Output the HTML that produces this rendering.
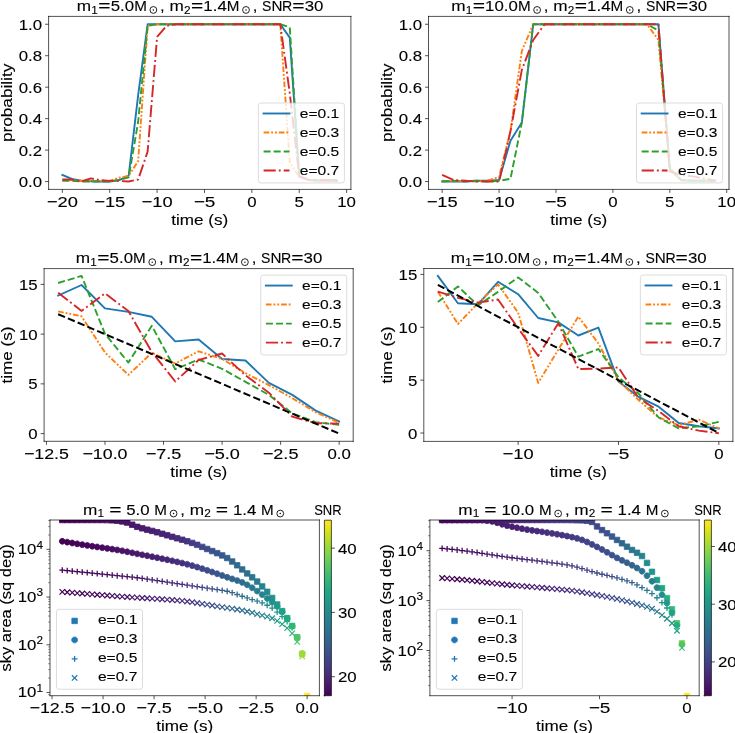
<!DOCTYPE html>
<html><head><meta charset="utf-8"><style>html,body{margin:0;padding:0;background:#fff}svg{display:block;filter:blur(0.3px)}text{stroke:#000;stroke-width:0.12;paint-order:stroke}</style></head><body>
<svg width="735" height="733" viewBox="0 0 735 733" version="1.1">
<defs>
<style type="text/css">*{stroke-linejoin: round; stroke-linecap: butt}</style>
</defs>
<defs><linearGradient id="vgrad" x1="0" y1="0" x2="0" y2="1"><stop offset="0.000" stop-color="#fde725"/><stop offset="0.031" stop-color="#ece51b"/><stop offset="0.062" stop-color="#d8e219"/><stop offset="0.094" stop-color="#c2df23"/><stop offset="0.125" stop-color="#addc30"/><stop offset="0.156" stop-color="#98d83e"/><stop offset="0.188" stop-color="#84d44b"/><stop offset="0.219" stop-color="#70cf57"/><stop offset="0.250" stop-color="#5ec962"/><stop offset="0.281" stop-color="#4ec36b"/><stop offset="0.312" stop-color="#3fbc73"/><stop offset="0.344" stop-color="#32b67a"/><stop offset="0.375" stop-color="#28ae80"/><stop offset="0.406" stop-color="#22a785"/><stop offset="0.438" stop-color="#1fa088"/><stop offset="0.469" stop-color="#1f988b"/><stop offset="0.500" stop-color="#21918c"/><stop offset="0.531" stop-color="#23898e"/><stop offset="0.562" stop-color="#26828e"/><stop offset="0.594" stop-color="#297a8e"/><stop offset="0.625" stop-color="#2c728e"/><stop offset="0.656" stop-color="#2f6b8e"/><stop offset="0.688" stop-color="#33638d"/><stop offset="0.719" stop-color="#375b8d"/><stop offset="0.750" stop-color="#3b528b"/><stop offset="0.781" stop-color="#3e4989"/><stop offset="0.812" stop-color="#424086"/><stop offset="0.844" stop-color="#453781"/><stop offset="0.875" stop-color="#472d7b"/><stop offset="0.906" stop-color="#482374"/><stop offset="0.938" stop-color="#48186a"/><stop offset="0.969" stop-color="#470d60"/><stop offset="1.000" stop-color="#440154"/></linearGradient></defs><g id="figure_1">
<g id="patch_1">
<path d="M 0 733 
L 735 733 
L 735 0 
L 0 0 
z
" style="fill: #ffffff"/>
</g>
<g id="axes_1">
<g id="patch_2">
<path d="M 48.6 189.4 
L 350.9 189.4 
L 350.9 16.4 
L 48.6 16.4 
z
" style="fill: #ffffff"/>
</g>
<g id="matplotlib.axis_1">
<g id="xtick_1">
<g id="line2d_1">
<defs>
<path id="m1deace6daf" d="M 0 0 
L 0 3.5 
" style="stroke: #000000; stroke-width: 0.68"/>
</defs>
<g>
<use href="#m1deace6daf" x="62.340909" y="189.4" style="stroke: #000000; stroke-width: 0.68"/>
</g>
</g>
<g id="text_1">
<text style="font-size: 15.51px; font-family: 'Liberation Sans', sans-serif; text-anchor: middle" x="62.340909" y="207.044703" transform="rotate(-0 62.340909 207.044703)" textLength="31.02" lengthAdjust="spacingAndGlyphs">−20</text>
</g>
</g>
<g id="xtick_2">
<g id="line2d_2">
<g>
<use href="#m1deace6daf" x="109.723354" y="189.4" style="stroke: #000000; stroke-width: 0.68"/>
</g>
</g>
<g id="text_2">
<text style="font-size: 15.51px; font-family: 'Liberation Sans', sans-serif; text-anchor: middle" x="109.723354" y="207.044703" transform="rotate(-0 109.723354 207.044703)" textLength="31.02" lengthAdjust="spacingAndGlyphs">−15</text>
</g>
</g>
<g id="xtick_3">
<g id="line2d_3">
<g>
<use href="#m1deace6daf" x="157.105799" y="189.4" style="stroke: #000000; stroke-width: 0.68"/>
</g>
</g>
<g id="text_3">
<text style="font-size: 15.51px; font-family: 'Liberation Sans', sans-serif; text-anchor: middle" x="157.105799" y="207.044703" transform="rotate(-0 157.105799 207.044703)" textLength="31.02" lengthAdjust="spacingAndGlyphs">−10</text>
</g>
</g>
<g id="xtick_4">
<g id="line2d_4">
<g>
<use href="#m1deace6daf" x="204.488245" y="189.4" style="stroke: #000000; stroke-width: 0.68"/>
</g>
</g>
<g id="text_4">
<text style="font-size: 15.51px; font-family: 'Liberation Sans', sans-serif; text-anchor: middle" x="204.488245" y="207.044703" transform="rotate(-0 204.488245 207.044703)" textLength="21.67" lengthAdjust="spacingAndGlyphs">−5</text>
</g>
</g>
<g id="xtick_5">
<g id="line2d_5">
<g>
<use href="#m1deace6daf" x="251.87069" y="189.4" style="stroke: #000000; stroke-width: 0.68"/>
</g>
</g>
<g id="text_5">
<text style="font-size: 15.51px; font-family: 'Liberation Sans', sans-serif; text-anchor: middle" x="251.87069" y="207.044703" transform="rotate(-0 251.87069 207.044703)" textLength="9.35" lengthAdjust="spacingAndGlyphs">0</text>
</g>
</g>
<g id="xtick_6">
<g id="line2d_6">
<g>
<use href="#m1deace6daf" x="299.253135" y="189.4" style="stroke: #000000; stroke-width: 0.68"/>
</g>
</g>
<g id="text_6">
<text style="font-size: 15.51px; font-family: 'Liberation Sans', sans-serif; text-anchor: middle" x="299.253135" y="207.044703" transform="rotate(-0 299.253135 207.044703)" textLength="9.35" lengthAdjust="spacingAndGlyphs">5</text>
</g>
</g>
<g id="xtick_7">
<g id="line2d_7">
<g>
<use href="#m1deace6daf" x="346.63558" y="189.4" style="stroke: #000000; stroke-width: 0.68"/>
</g>
</g>
<g id="text_7">
<text style="font-size: 15.51px; font-family: 'Liberation Sans', sans-serif; text-anchor: middle" x="346.63558" y="207.044703" transform="rotate(-0 346.63558 207.044703)" textLength="18.71" lengthAdjust="spacingAndGlyphs">10</text>
</g>
</g>
<g id="text_8">
<text style="font-size: 15.29px; font-family: 'Liberation Sans', sans-serif; text-anchor: middle" x="199.75" y="224.671547" transform="rotate(-0 199.75 224.671547)" textLength="57.01" lengthAdjust="spacingAndGlyphs">time (s)</text>
</g>
</g>
<g id="matplotlib.axis_2">
<g id="ytick_1">
<g id="line2d_8">
<defs>
<path id="mafa4a98656" d="M 0 0 
L -3.5 0 
" style="stroke: #000000; stroke-width: 0.68"/>
</defs>
<g>
<use href="#mafa4a98656" x="48.6" y="181.536364" style="stroke: #000000; stroke-width: 0.68"/>
</g>
</g>
<g id="text_9">
<text style="font-size: 15.51px; font-family: 'Liberation Sans', sans-serif; text-anchor: end" x="42.125" y="187.121215" transform="rotate(-0 42.125 187.121215)" textLength="23.38" lengthAdjust="spacingAndGlyphs">0.0</text>
</g>
</g>
<g id="ytick_2">
<g id="line2d_9">
<g>
<use href="#mafa4a98656" x="48.6" y="150.081818" style="stroke: #000000; stroke-width: 0.68"/>
</g>
</g>
<g id="text_10">
<text style="font-size: 15.51px; font-family: 'Liberation Sans', sans-serif; text-anchor: end" x="42.125" y="155.66667" transform="rotate(-0 42.125 155.66667)" textLength="23.38" lengthAdjust="spacingAndGlyphs">0.2</text>
</g>
</g>
<g id="ytick_3">
<g id="line2d_10">
<g>
<use href="#mafa4a98656" x="48.6" y="118.627273" style="stroke: #000000; stroke-width: 0.68"/>
</g>
</g>
<g id="text_11">
<text style="font-size: 15.51px; font-family: 'Liberation Sans', sans-serif; text-anchor: end" x="42.125" y="124.212124" transform="rotate(-0 42.125 124.212124)" textLength="23.38" lengthAdjust="spacingAndGlyphs">0.4</text>
</g>
</g>
<g id="ytick_4">
<g id="line2d_11">
<g>
<use href="#mafa4a98656" x="48.6" y="87.172727" style="stroke: #000000; stroke-width: 0.68"/>
</g>
</g>
<g id="text_12">
<text style="font-size: 15.51px; font-family: 'Liberation Sans', sans-serif; text-anchor: end" x="42.125" y="92.757579" transform="rotate(-0 42.125 92.757579)" textLength="23.38" lengthAdjust="spacingAndGlyphs">0.6</text>
</g>
</g>
<g id="ytick_5">
<g id="line2d_12">
<g>
<use href="#mafa4a98656" x="48.6" y="55.718182" style="stroke: #000000; stroke-width: 0.68"/>
</g>
</g>
<g id="text_13">
<text style="font-size: 15.51px; font-family: 'Liberation Sans', sans-serif; text-anchor: end" x="42.125" y="61.303033" transform="rotate(-0 42.125 61.303033)" textLength="23.38" lengthAdjust="spacingAndGlyphs">0.8</text>
</g>
</g>
<g id="ytick_6">
<g id="line2d_13">
<g>
<use href="#mafa4a98656" x="48.6" y="24.263636" style="stroke: #000000; stroke-width: 0.68"/>
</g>
</g>
<g id="text_14">
<text style="font-size: 15.51px; font-family: 'Liberation Sans', sans-serif; text-anchor: end" x="42.125" y="29.848488" transform="rotate(-0 42.125 29.848488)" textLength="23.38" lengthAdjust="spacingAndGlyphs">1.0</text>
</g>
</g>
<g id="text_15">
<text style="font-size: 15.29px; font-family: 'Liberation Sans', sans-serif; text-anchor: middle" x="12.290266" y="102.9" transform="rotate(-90 12.290266 102.9)" textLength="78.43" lengthAdjust="spacingAndGlyphs">probability</text>
</g>
</g>
<g id="line2d_14">
<path d="M 62.340909 174.930909 
L 71.817398 178.862727 
L 81.293887 180.75 
L 90.770376 181.221818 
L 100.246865 181.536364 
L 109.723354 181.536364 
L 119.199843 180.120909 
L 128.676332 175.717273 
L 138.152821 95.036364 
L 147.62931 24.263636 
L 157.105799 24.263636 
L 166.582288 24.263636 
L 176.058777 24.263636 
L 185.535266 24.263636 
L 195.011755 24.263636 
L 204.488245 24.263636 
L 213.964734 24.263636 
L 223.441223 24.263636 
L 232.917712 24.263636 
L 242.394201 24.263636 
L 251.87069 24.263636 
L 261.347179 24.263636 
L 270.823668 24.263636 
L 280.300157 24.263636 
L 289.776646 37.631818 
L 299.253135 176.818182 
L 308.729624 179.963636 
L 318.206113 180.75 
L 327.682602 180.75 
L 337.159091 180.75 
" clip-path="url(#pbab4d58351)" style="fill: none; stroke: #1f77b4; stroke-width: 1.9; stroke-linecap: square"/>
</g>
<g id="line2d_15">
<path d="M 62.340909 180.120909 
L 71.817398 179.963636 
L 81.293887 180.75 
L 90.770376 180.75 
L 100.246865 181.536364 
L 109.723354 180.75 
L 119.199843 177.761818 
L 128.676332 175.874545 
L 138.152821 161.090909 
L 147.62931 25.836364 
L 157.105799 24.263636 
L 166.582288 24.263636 
L 176.058777 24.263636 
L 185.535266 24.263636 
L 195.011755 24.263636 
L 204.488245 24.263636 
L 213.964734 24.263636 
L 223.441223 24.263636 
L 232.917712 24.263636 
L 242.394201 24.263636 
L 251.87069 24.263636 
L 261.347179 24.263636 
L 270.823668 24.263636 
L 280.300157 24.263636 
L 289.776646 162.663636 
L 299.253135 176.818182 
L 308.729624 179.963636 
L 318.206113 180.278182 
L 327.682602 180.75 
L 337.159091 180.75 
" clip-path="url(#pbab4d58351)" style="fill: none; stroke-dasharray: 5.7,1.9,1.9,1.9,1.9,1.9; stroke-dashoffset: 0; stroke: #ff7f0e; stroke-width: 1.9"/>
</g>
<g id="line2d_16">
<path d="M 62.340909 180.75 
L 71.817398 180.75 
L 81.293887 181.536364 
L 90.770376 181.536364 
L 100.246865 181.536364 
L 109.723354 181.536364 
L 119.199843 179.963636 
L 128.676332 177.447273 
L 138.152821 121.772727 
L 147.62931 25.836364 
L 157.105799 24.263636 
L 166.582288 24.263636 
L 176.058777 24.263636 
L 185.535266 24.263636 
L 195.011755 24.263636 
L 204.488245 24.263636 
L 213.964734 24.263636 
L 223.441223 24.263636 
L 232.917712 24.263636 
L 242.394201 24.263636 
L 251.87069 24.263636 
L 261.347179 24.263636 
L 270.823668 24.263636 
L 280.300157 24.263636 
L 289.776646 27.409091 
L 299.253135 176.031818 
L 308.729624 179.963636 
L 318.206113 179.963636 
L 327.682602 179.963636 
L 337.159091 179.963636 
" clip-path="url(#pbab4d58351)" style="fill: none; stroke-dasharray: 7.03,3.04; stroke-dashoffset: 0; stroke: #2ca02c; stroke-width: 1.9"/>
</g>
<g id="line2d_17">
<path d="M 62.340909 179.491818 
L 71.817398 179.491818 
L 81.293887 181.536364 
L 90.770376 178.390909 
L 100.246865 180.120909 
L 109.723354 180.907273 
L 119.199843 180.907273 
L 128.676332 181.536364 
L 138.152821 179.491818 
L 147.62931 151.654545 
L 157.105799 36.845455 
L 166.582288 25.836364 
L 176.058777 24.263636 
L 185.535266 24.263636 
L 195.011755 24.263636 
L 204.488245 24.263636 
L 213.964734 24.263636 
L 223.441223 24.263636 
L 232.917712 24.263636 
L 242.394201 24.263636 
L 251.87069 24.263636 
L 261.347179 24.263636 
L 270.823668 24.263636 
L 280.300157 24.263636 
L 289.776646 93.463636 
L 299.253135 176.031818 
L 308.729624 179.963636 
L 318.206113 179.963636 
L 327.682602 179.963636 
L 337.159091 180.75 
" clip-path="url(#pbab4d58351)" style="fill: none; stroke-dasharray: 12.16,3.04,1.9,3.04; stroke-dashoffset: 0; stroke: #d62728; stroke-width: 1.9"/>
</g>
<g id="patch_3">
<path d="M 48.6 189.4 
L 48.6 16.4 
" style="fill: none; stroke: #000000; stroke-width: 0.68; stroke-linejoin: miter; stroke-linecap: square"/>
</g>
<g id="patch_4">
<path d="M 350.9 189.4 
L 350.9 16.4 
" style="fill: none; stroke: #000000; stroke-width: 0.68; stroke-linejoin: miter; stroke-linecap: square"/>
</g>
<g id="patch_5">
<path d="M 48.6 189.4 
L 350.9 189.4 
" style="fill: none; stroke: #000000; stroke-width: 0.68; stroke-linejoin: miter; stroke-linecap: square"/>
</g>
<g id="patch_6">
<path d="M 48.6 16.4 
L 350.9 16.4 
" style="fill: none; stroke: #000000; stroke-width: 0.68; stroke-linejoin: miter; stroke-linecap: square"/>
</g>
<g id="text_16">
<g transform="translate(76.858 12.1)">
<text x="0" y="-0.859375" style="font-size: 15.29px; font-family: 'Liberation Sans', sans-serif" textLength="14.32" lengthAdjust="spacingAndGlyphs">m</text>
<text x="21.4911" y="-0.859375" style="font-size: 15.51px; font-family: 'Liberation Sans', sans-serif" textLength="12.32" lengthAdjust="spacingAndGlyphs">=</text>
<text x="33.85" y="-0.859375" style="font-size: 15.51px; font-family: 'Liberation Sans', sans-serif" textLength="9.35" lengthAdjust="spacingAndGlyphs">5</text>
<text x="43.2344" y="-0.859375" style="font-size: 15.51px; font-family: 'Liberation Sans', sans-serif" textLength="4.67" lengthAdjust="spacingAndGlyphs">.</text>
<text x="47.923" y="-0.859375" style="font-size: 15.51px; font-family: 'Liberation Sans', sans-serif" textLength="9.35" lengthAdjust="spacingAndGlyphs">0</text>
<text x="57.3074" y="-0.859375" style="font-size: 15.51px; font-family: 'Liberation Sans', sans-serif" textLength="12.68" lengthAdjust="spacingAndGlyphs">M</text>
<text x="83.2616" y="-0.859375" style="font-size: 15.51px; font-family: 'Liberation Sans', sans-serif" textLength="4.67" lengthAdjust="spacingAndGlyphs">,</text>
<text x="92.6388" y="-0.859375" style="font-size: 15.29px; font-family: 'Liberation Sans', sans-serif" textLength="14.32" lengthAdjust="spacingAndGlyphs">m</text>
<text x="114.13" y="-0.859375" style="font-size: 15.51px; font-family: 'Liberation Sans', sans-serif" textLength="12.32" lengthAdjust="spacingAndGlyphs">=</text>
<text x="126.489" y="-0.859375" style="font-size: 15.51px; font-family: 'Liberation Sans', sans-serif" textLength="9.35" lengthAdjust="spacingAndGlyphs">1</text>
<text x="135.873" y="-0.859375" style="font-size: 15.51px; font-family: 'Liberation Sans', sans-serif" textLength="4.67" lengthAdjust="spacingAndGlyphs">.</text>
<text x="140.562" y="-0.859375" style="font-size: 15.51px; font-family: 'Liberation Sans', sans-serif" textLength="9.35" lengthAdjust="spacingAndGlyphs">4</text>
<text x="149.946" y="-0.859375" style="font-size: 15.51px; font-family: 'Liberation Sans', sans-serif" textLength="12.68" lengthAdjust="spacingAndGlyphs">M</text>
<text x="175.9" y="-0.859375" style="font-size: 15.51px; font-family: 'Liberation Sans', sans-serif" textLength="4.67" lengthAdjust="spacingAndGlyphs">,</text>
<text x="185.278" y="-0.859375" style="font-size: 15.51px; font-family: 'Liberation Sans', sans-serif" textLength="9.33" lengthAdjust="spacingAndGlyphs">S</text>
<text x="194.64" y="-0.859375" style="font-size: 15.51px; font-family: 'Liberation Sans', sans-serif" textLength="11.00" lengthAdjust="spacingAndGlyphs">N</text>
<text x="205.174" y="-0.859375" style="font-size: 15.51px; font-family: 'Liberation Sans', sans-serif" textLength="10.21" lengthAdjust="spacingAndGlyphs">R</text>
<text x="215.423" y="-0.859375" style="font-size: 15.51px; font-family: 'Liberation Sans', sans-serif" textLength="12.32" lengthAdjust="spacingAndGlyphs">=</text>
<text x="227.782" y="-0.859375" style="font-size: 15.51px; font-family: 'Liberation Sans', sans-serif" textLength="9.35" lengthAdjust="spacingAndGlyphs">3</text>
<text x="237.166" y="-0.859375" style="font-size: 15.51px; font-family: 'Liberation Sans', sans-serif" textLength="9.35" lengthAdjust="spacingAndGlyphs">0</text>
<text x="14.5118" y="1.60156" style="font-size: 10.86px; font-family: 'Liberation Sans', sans-serif" textLength="6.55" lengthAdjust="spacingAndGlyphs">1</text>
<text x="107.151" y="1.60156" style="font-size: 10.86px; font-family: 'Liberation Sans', sans-serif" textLength="6.55" lengthAdjust="spacingAndGlyphs">2</text>
<circle cx="76.50" cy="-2.15" r="3.40" fill="none" stroke="#000" stroke-width="0.87"/><circle cx="76.50" cy="-2.15" r="0.72" fill="#000"/><circle cx="169.14" cy="-2.15" r="3.40" fill="none" stroke="#000" stroke-width="0.87"/><circle cx="169.14" cy="-2.15" r="0.72" fill="#000"/>
</g>
</g>
<g id="legend_1">
<g id="patch_7">
<path d="M 260.980461 182.925 
L 341.835 182.925 
Q 344.425 182.925 344.425 180.335 
L 344.425 105.597312 
Q 344.425 103.007312 341.835 103.007312 
L 260.980461 103.007312 
Q 258.390461 103.007312 258.390461 105.597312 
L 258.390461 180.335 
Q 258.390461 182.925 260.980461 182.925 
z
" style="fill: #ffffff; opacity: 0.8; stroke: #cccccc; stroke-width: 0.85; stroke-linejoin: miter"/>
</g>
<g id="line2d_18">
<path d="M 263.570461 113.494789 
L 276.520461 113.494789 
L 289.470461 113.494789 
" style="fill: none; stroke: #1f77b4; stroke-width: 1.9; stroke-linecap: square"/>
</g>
<g id="text_17">
<text style="font-size: 13.60px; font-family: 'Liberation Sans', sans-serif; text-anchor: start" x="299.830461" y="118.027289" transform="rotate(-0 299.830461 118.027289)" textLength="39.41" lengthAdjust="spacingAndGlyphs">e=0.1</text>
</g>
<g id="line2d_19">
<path d="M 263.570461 132.502961 
L 276.520461 132.502961 
L 289.470461 132.502961 
" style="fill: none; stroke-dasharray: 5.7,1.9,1.9,1.9,1.9,1.9; stroke-dashoffset: 0; stroke: #ff7f0e; stroke-width: 1.9"/>
</g>
<g id="text_18">
<text style="font-size: 13.60px; font-family: 'Liberation Sans', sans-serif; text-anchor: start" x="299.830461" y="137.035461" transform="rotate(-0 299.830461 137.035461)" textLength="39.41" lengthAdjust="spacingAndGlyphs">e=0.3</text>
</g>
<g id="line2d_20">
<path d="M 263.570461 151.511133 
L 276.520461 151.511133 
L 289.470461 151.511133 
" style="fill: none; stroke-dasharray: 7.03,3.04; stroke-dashoffset: 0; stroke: #2ca02c; stroke-width: 1.9"/>
</g>
<g id="text_19">
<text style="font-size: 13.60px; font-family: 'Liberation Sans', sans-serif; text-anchor: start" x="299.830461" y="156.043633" transform="rotate(-0 299.830461 156.043633)" textLength="39.41" lengthAdjust="spacingAndGlyphs">e=0.5</text>
</g>
<g id="line2d_21">
<path d="M 263.570461 170.519305 
L 276.520461 170.519305 
L 289.470461 170.519305 
" style="fill: none; stroke-dasharray: 12.16,3.04,1.9,3.04; stroke-dashoffset: 0; stroke: #d62728; stroke-width: 1.9"/>
</g>
<g id="text_20">
<text style="font-size: 13.60px; font-family: 'Liberation Sans', sans-serif; text-anchor: start" x="299.830461" y="175.051805" transform="rotate(-0 299.830461 175.051805)" textLength="39.41" lengthAdjust="spacingAndGlyphs">e=0.7</text>
</g>
</g>
</g>
<g id="axes_2">
<g id="patch_8">
<path d="M 428.5 189.4 
L 729 189.4 
L 729 16.4 
L 428.5 16.4 
z
" style="fill: #ffffff"/>
</g>
<g id="matplotlib.axis_3">
<g id="xtick_8">
<g id="line2d_22">
<g>
<use href="#m1deace6daf" x="442.159091" y="189.4" style="stroke: #000000; stroke-width: 0.68"/>
</g>
</g>
<g id="text_21">
<text style="font-size: 15.51px; font-family: 'Liberation Sans', sans-serif; text-anchor: middle" x="442.159091" y="207.044703" transform="rotate(-0 442.159091 207.044703)" textLength="31.02" lengthAdjust="spacingAndGlyphs">−15</text>
</g>
</g>
<g id="xtick_9">
<g id="line2d_23">
<g>
<use href="#m1deace6daf" x="499.07197" y="189.4" style="stroke: #000000; stroke-width: 0.68"/>
</g>
</g>
<g id="text_22">
<text style="font-size: 15.51px; font-family: 'Liberation Sans', sans-serif; text-anchor: middle" x="499.07197" y="207.044703" transform="rotate(-0 499.07197 207.044703)" textLength="31.02" lengthAdjust="spacingAndGlyphs">−10</text>
</g>
</g>
<g id="xtick_10">
<g id="line2d_24">
<g>
<use href="#m1deace6daf" x="555.984848" y="189.4" style="stroke: #000000; stroke-width: 0.68"/>
</g>
</g>
<g id="text_23">
<text style="font-size: 15.51px; font-family: 'Liberation Sans', sans-serif; text-anchor: middle" x="555.984848" y="207.044703" transform="rotate(-0 555.984848 207.044703)" textLength="21.67" lengthAdjust="spacingAndGlyphs">−5</text>
</g>
</g>
<g id="xtick_11">
<g id="line2d_25">
<g>
<use href="#m1deace6daf" x="612.897727" y="189.4" style="stroke: #000000; stroke-width: 0.68"/>
</g>
</g>
<g id="text_24">
<text style="font-size: 15.51px; font-family: 'Liberation Sans', sans-serif; text-anchor: middle" x="612.897727" y="207.044703" transform="rotate(-0 612.897727 207.044703)" textLength="9.35" lengthAdjust="spacingAndGlyphs">0</text>
</g>
</g>
<g id="xtick_12">
<g id="line2d_26">
<g>
<use href="#m1deace6daf" x="669.810606" y="189.4" style="stroke: #000000; stroke-width: 0.68"/>
</g>
</g>
<g id="text_25">
<text style="font-size: 15.51px; font-family: 'Liberation Sans', sans-serif; text-anchor: middle" x="669.810606" y="207.044703" transform="rotate(-0 669.810606 207.044703)" textLength="9.35" lengthAdjust="spacingAndGlyphs">5</text>
</g>
</g>
<g id="xtick_13">
<g id="line2d_27">
<g>
<use href="#m1deace6daf" x="726.723485" y="189.4" style="stroke: #000000; stroke-width: 0.68"/>
</g>
</g>
<g id="text_26">
<text style="font-size: 15.51px; font-family: 'Liberation Sans', sans-serif; text-anchor: middle" x="726.723485" y="207.044703" transform="rotate(-0 726.723485 207.044703)" textLength="18.71" lengthAdjust="spacingAndGlyphs">10</text>
</g>
</g>
<g id="text_27">
<text style="font-size: 15.29px; font-family: 'Liberation Sans', sans-serif; text-anchor: middle" x="578.75" y="224.671547" transform="rotate(-0 578.75 224.671547)" textLength="57.01" lengthAdjust="spacingAndGlyphs">time (s)</text>
</g>
</g>
<g id="matplotlib.axis_4">
<g id="ytick_7">
<g id="line2d_28">
<g>
<use href="#mafa4a98656" x="428.5" y="181.536364" style="stroke: #000000; stroke-width: 0.68"/>
</g>
</g>
<g id="text_28">
<text style="font-size: 15.51px; font-family: 'Liberation Sans', sans-serif; text-anchor: end" x="422.025" y="187.121215" transform="rotate(-0 422.025 187.121215)" textLength="23.38" lengthAdjust="spacingAndGlyphs">0.0</text>
</g>
</g>
<g id="ytick_8">
<g id="line2d_29">
<g>
<use href="#mafa4a98656" x="428.5" y="150.081818" style="stroke: #000000; stroke-width: 0.68"/>
</g>
</g>
<g id="text_29">
<text style="font-size: 15.51px; font-family: 'Liberation Sans', sans-serif; text-anchor: end" x="422.025" y="155.66667" transform="rotate(-0 422.025 155.66667)" textLength="23.38" lengthAdjust="spacingAndGlyphs">0.2</text>
</g>
</g>
<g id="ytick_9">
<g id="line2d_30">
<g>
<use href="#mafa4a98656" x="428.5" y="118.627273" style="stroke: #000000; stroke-width: 0.68"/>
</g>
</g>
<g id="text_30">
<text style="font-size: 15.51px; font-family: 'Liberation Sans', sans-serif; text-anchor: end" x="422.025" y="124.212124" transform="rotate(-0 422.025 124.212124)" textLength="23.38" lengthAdjust="spacingAndGlyphs">0.4</text>
</g>
</g>
<g id="ytick_10">
<g id="line2d_31">
<g>
<use href="#mafa4a98656" x="428.5" y="87.172727" style="stroke: #000000; stroke-width: 0.68"/>
</g>
</g>
<g id="text_31">
<text style="font-size: 15.51px; font-family: 'Liberation Sans', sans-serif; text-anchor: end" x="422.025" y="92.757579" transform="rotate(-0 422.025 92.757579)" textLength="23.38" lengthAdjust="spacingAndGlyphs">0.6</text>
</g>
</g>
<g id="ytick_11">
<g id="line2d_32">
<g>
<use href="#mafa4a98656" x="428.5" y="55.718182" style="stroke: #000000; stroke-width: 0.68"/>
</g>
</g>
<g id="text_32">
<text style="font-size: 15.51px; font-family: 'Liberation Sans', sans-serif; text-anchor: end" x="422.025" y="61.303033" transform="rotate(-0 422.025 61.303033)" textLength="23.38" lengthAdjust="spacingAndGlyphs">0.8</text>
</g>
</g>
<g id="ytick_12">
<g id="line2d_33">
<g>
<use href="#mafa4a98656" x="428.5" y="24.263636" style="stroke: #000000; stroke-width: 0.68"/>
</g>
</g>
<g id="text_33">
<text style="font-size: 15.51px; font-family: 'Liberation Sans', sans-serif; text-anchor: end" x="422.025" y="29.848488" transform="rotate(-0 422.025 29.848488)" textLength="23.38" lengthAdjust="spacingAndGlyphs">1.0</text>
</g>
</g>
<g id="text_34">
<text style="font-size: 15.29px; font-family: 'Liberation Sans', sans-serif; text-anchor: middle" x="392.190266" y="102.9" transform="rotate(-90 392.190266 102.9)" textLength="78.43" lengthAdjust="spacingAndGlyphs">probability</text>
</g>
</g>
<g id="line2d_34">
<path d="M 442.159091 181.536364 
L 453.541667 181.536364 
L 464.924242 181.536364 
L 476.306818 180.75 
L 487.689394 180.75 
L 499.07197 179.963636 
L 510.454545 140.645455 
L 521.837121 122.559091 
L 533.219697 24.263636 
L 544.602273 24.263636 
L 555.984848 24.263636 
L 567.367424 24.263636 
L 578.75 24.263636 
L 590.132576 24.263636 
L 601.515152 24.263636 
L 612.897727 24.263636 
L 624.280303 24.263636 
L 635.662879 24.263636 
L 647.045455 24.263636 
L 658.42803 24.263636 
L 669.810606 168.954545 
L 681.193182 180.278182 
L 692.575758 180.75 
L 703.958333 180.75 
L 715.340909 180.75 
" clip-path="url(#p42d1c1f56d)" style="fill: none; stroke: #1f77b4; stroke-width: 1.9; stroke-linecap: square"/>
</g>
<g id="line2d_35">
<path d="M 442.159091 180.75 
L 453.541667 181.536364 
L 464.924242 180.75 
L 476.306818 181.536364 
L 487.689394 180.75 
L 499.07197 176.818182 
L 510.454545 131.209091 
L 521.837121 51 
L 533.219697 24.263636 
L 544.602273 24.263636 
L 555.984848 24.263636 
L 567.367424 24.263636 
L 578.75 24.263636 
L 590.132576 24.263636 
L 601.515152 24.263636 
L 612.897727 24.263636 
L 624.280303 24.263636 
L 635.662879 24.263636 
L 647.045455 24.263636 
L 658.42803 39.990909 
L 669.810606 167.381818 
L 681.193182 179.963636 
L 692.575758 180.75 
L 703.958333 180.75 
L 715.340909 180.75 
" clip-path="url(#p42d1c1f56d)" style="fill: none; stroke-dasharray: 5.7,1.9,1.9,1.9,1.9,1.9; stroke-dashoffset: 0; stroke: #ff7f0e; stroke-width: 1.9"/>
</g>
<g id="line2d_36">
<path d="M 442.159091 181.536364 
L 453.541667 180.75 
L 464.924242 181.536364 
L 476.306818 180.75 
L 487.689394 181.536364 
L 499.07197 180.75 
L 510.454545 178.862727 
L 521.837121 122.559091 
L 533.219697 24.263636 
L 544.602273 24.263636 
L 555.984848 24.263636 
L 567.367424 24.263636 
L 578.75 24.263636 
L 590.132576 24.263636 
L 601.515152 24.263636 
L 612.897727 24.263636 
L 624.280303 24.263636 
L 635.662879 24.263636 
L 647.045455 24.263636 
L 658.42803 30.554545 
L 669.810606 168.954545 
L 681.193182 179.963636 
L 692.575758 180.75 
L 703.958333 180.75 
L 715.340909 180.75 
" clip-path="url(#p42d1c1f56d)" style="fill: none; stroke-dasharray: 7.03,3.04; stroke-dashoffset: 0; stroke: #2ca02c; stroke-width: 1.9"/>
</g>
<g id="line2d_37">
<path d="M 442.159091 174.773636 
L 453.541667 179.963636 
L 464.924242 180.75 
L 476.306818 181.536364 
L 487.689394 181.536364 
L 499.07197 181.536364 
L 510.454545 131.209091 
L 521.837121 69.872727 
L 533.219697 39.990909 
L 544.602273 24.263636 
L 555.984848 24.263636 
L 567.367424 24.263636 
L 578.75 24.263636 
L 590.132576 24.263636 
L 601.515152 24.263636 
L 612.897727 24.263636 
L 624.280303 24.263636 
L 635.662879 24.263636 
L 647.045455 24.263636 
L 658.42803 24.263636 
L 669.810606 171.470909 
L 681.193182 174.773636 
L 692.575758 176.346364 
L 703.958333 178.390909 
L 715.340909 180.75 
" clip-path="url(#p42d1c1f56d)" style="fill: none; stroke-dasharray: 12.16,3.04,1.9,3.04; stroke-dashoffset: 0; stroke: #d62728; stroke-width: 1.9"/>
</g>
<g id="patch_9">
<path d="M 428.5 189.4 
L 428.5 16.4 
" style="fill: none; stroke: #000000; stroke-width: 0.68; stroke-linejoin: miter; stroke-linecap: square"/>
</g>
<g id="patch_10">
<path d="M 729 189.4 
L 729 16.4 
" style="fill: none; stroke: #000000; stroke-width: 0.68; stroke-linejoin: miter; stroke-linecap: square"/>
</g>
<g id="patch_11">
<path d="M 428.5 189.4 
L 729 189.4 
" style="fill: none; stroke: #000000; stroke-width: 0.68; stroke-linejoin: miter; stroke-linecap: square"/>
</g>
<g id="patch_12">
<path d="M 428.5 16.4 
L 729 16.4 
" style="fill: none; stroke: #000000; stroke-width: 0.68; stroke-linejoin: miter; stroke-linecap: square"/>
</g>
<g id="text_35">
<g transform="translate(451.2275 12.1)">
<text x="0" y="-0.859375" style="font-size: 15.29px; font-family: 'Liberation Sans', sans-serif" textLength="14.32" lengthAdjust="spacingAndGlyphs">m</text>
<text x="21.4911" y="-0.859375" style="font-size: 15.51px; font-family: 'Liberation Sans', sans-serif" textLength="12.32" lengthAdjust="spacingAndGlyphs">=</text>
<text x="33.85" y="-0.859375" style="font-size: 15.51px; font-family: 'Liberation Sans', sans-serif" textLength="9.35" lengthAdjust="spacingAndGlyphs">1</text>
<text x="43.2344" y="-0.859375" style="font-size: 15.51px; font-family: 'Liberation Sans', sans-serif" textLength="9.35" lengthAdjust="spacingAndGlyphs">0</text>
<text x="52.6188" y="-0.859375" style="font-size: 15.51px; font-family: 'Liberation Sans', sans-serif" textLength="4.67" lengthAdjust="spacingAndGlyphs">.</text>
<text x="57.3074" y="-0.859375" style="font-size: 15.51px; font-family: 'Liberation Sans', sans-serif" textLength="9.35" lengthAdjust="spacingAndGlyphs">0</text>
<text x="66.6918" y="-0.859375" style="font-size: 15.51px; font-family: 'Liberation Sans', sans-serif" textLength="12.68" lengthAdjust="spacingAndGlyphs">M</text>
<text x="92.646" y="-0.859375" style="font-size: 15.51px; font-family: 'Liberation Sans', sans-serif" textLength="4.67" lengthAdjust="spacingAndGlyphs">,</text>
<text x="102.023" y="-0.859375" style="font-size: 15.29px; font-family: 'Liberation Sans', sans-serif" textLength="14.32" lengthAdjust="spacingAndGlyphs">m</text>
<text x="123.514" y="-0.859375" style="font-size: 15.51px; font-family: 'Liberation Sans', sans-serif" textLength="12.32" lengthAdjust="spacingAndGlyphs">=</text>
<text x="135.873" y="-0.859375" style="font-size: 15.51px; font-family: 'Liberation Sans', sans-serif" textLength="9.35" lengthAdjust="spacingAndGlyphs">1</text>
<text x="145.258" y="-0.859375" style="font-size: 15.51px; font-family: 'Liberation Sans', sans-serif" textLength="4.67" lengthAdjust="spacingAndGlyphs">.</text>
<text x="149.946" y="-0.859375" style="font-size: 15.51px; font-family: 'Liberation Sans', sans-serif" textLength="9.35" lengthAdjust="spacingAndGlyphs">4</text>
<text x="159.331" y="-0.859375" style="font-size: 15.51px; font-family: 'Liberation Sans', sans-serif" textLength="12.68" lengthAdjust="spacingAndGlyphs">M</text>
<text x="185.285" y="-0.859375" style="font-size: 15.51px; font-family: 'Liberation Sans', sans-serif" textLength="4.67" lengthAdjust="spacingAndGlyphs">,</text>
<text x="194.662" y="-0.859375" style="font-size: 15.51px; font-family: 'Liberation Sans', sans-serif" textLength="9.33" lengthAdjust="spacingAndGlyphs">S</text>
<text x="204.025" y="-0.859375" style="font-size: 15.51px; font-family: 'Liberation Sans', sans-serif" textLength="11.00" lengthAdjust="spacingAndGlyphs">N</text>
<text x="214.558" y="-0.859375" style="font-size: 15.51px; font-family: 'Liberation Sans', sans-serif" textLength="10.21" lengthAdjust="spacingAndGlyphs">R</text>
<text x="224.807" y="-0.859375" style="font-size: 15.51px; font-family: 'Liberation Sans', sans-serif" textLength="12.32" lengthAdjust="spacingAndGlyphs">=</text>
<text x="237.166" y="-0.859375" style="font-size: 15.51px; font-family: 'Liberation Sans', sans-serif" textLength="9.35" lengthAdjust="spacingAndGlyphs">3</text>
<text x="246.55" y="-0.859375" style="font-size: 15.51px; font-family: 'Liberation Sans', sans-serif" textLength="9.35" lengthAdjust="spacingAndGlyphs">0</text>
<text x="14.5118" y="1.60156" style="font-size: 10.86px; font-family: 'Liberation Sans', sans-serif" textLength="6.55" lengthAdjust="spacingAndGlyphs">1</text>
<text x="116.535" y="1.60156" style="font-size: 10.86px; font-family: 'Liberation Sans', sans-serif" textLength="6.55" lengthAdjust="spacingAndGlyphs">2</text>
<circle cx="85.88" cy="-2.15" r="3.40" fill="none" stroke="#000" stroke-width="0.87"/><circle cx="85.88" cy="-2.15" r="0.72" fill="#000"/><circle cx="178.52" cy="-2.15" r="3.40" fill="none" stroke="#000" stroke-width="0.87"/><circle cx="178.52" cy="-2.15" r="0.72" fill="#000"/>
</g>
</g>
<g id="legend_2">
<g id="patch_13">
<path d="M 639.080461 182.925 
L 719.935 182.925 
Q 722.525 182.925 722.525 180.335 
L 722.525 105.597312 
Q 722.525 103.007312 719.935 103.007312 
L 639.080461 103.007312 
Q 636.490461 103.007312 636.490461 105.597312 
L 636.490461 180.335 
Q 636.490461 182.925 639.080461 182.925 
z
" style="fill: #ffffff; opacity: 0.8; stroke: #cccccc; stroke-width: 0.85; stroke-linejoin: miter"/>
</g>
<g id="line2d_38">
<path d="M 641.670461 113.494789 
L 654.620461 113.494789 
L 667.570461 113.494789 
" style="fill: none; stroke: #1f77b4; stroke-width: 1.9; stroke-linecap: square"/>
</g>
<g id="text_36">
<text style="font-size: 13.60px; font-family: 'Liberation Sans', sans-serif; text-anchor: start" x="677.930461" y="118.027289" transform="rotate(-0 677.930461 118.027289)" textLength="39.41" lengthAdjust="spacingAndGlyphs">e=0.1</text>
</g>
<g id="line2d_39">
<path d="M 641.670461 132.502961 
L 654.620461 132.502961 
L 667.570461 132.502961 
" style="fill: none; stroke-dasharray: 5.7,1.9,1.9,1.9,1.9,1.9; stroke-dashoffset: 0; stroke: #ff7f0e; stroke-width: 1.9"/>
</g>
<g id="text_37">
<text style="font-size: 13.60px; font-family: 'Liberation Sans', sans-serif; text-anchor: start" x="677.930461" y="137.035461" transform="rotate(-0 677.930461 137.035461)" textLength="39.41" lengthAdjust="spacingAndGlyphs">e=0.3</text>
</g>
<g id="line2d_40">
<path d="M 641.670461 151.511133 
L 654.620461 151.511133 
L 667.570461 151.511133 
" style="fill: none; stroke-dasharray: 7.03,3.04; stroke-dashoffset: 0; stroke: #2ca02c; stroke-width: 1.9"/>
</g>
<g id="text_38">
<text style="font-size: 13.60px; font-family: 'Liberation Sans', sans-serif; text-anchor: start" x="677.930461" y="156.043633" transform="rotate(-0 677.930461 156.043633)" textLength="39.41" lengthAdjust="spacingAndGlyphs">e=0.5</text>
</g>
<g id="line2d_41">
<path d="M 641.670461 170.519305 
L 654.620461 170.519305 
L 667.570461 170.519305 
" style="fill: none; stroke-dasharray: 12.16,3.04,1.9,3.04; stroke-dashoffset: 0; stroke: #d62728; stroke-width: 1.9"/>
</g>
<g id="text_39">
<text style="font-size: 13.60px; font-family: 'Liberation Sans', sans-serif; text-anchor: start" x="677.930461" y="175.051805" transform="rotate(-0 677.930461 175.051805)" textLength="39.41" lengthAdjust="spacingAndGlyphs">e=0.7</text>
</g>
</g>
</g>
<g id="axes_3">
<g id="patch_14">
<path d="M 44.1 441.3 
L 353.2 441.3 
L 353.2 268.6 
L 44.1 268.6 
z
" style="fill: #ffffff"/>
</g>
<g id="matplotlib.axis_5">
<g id="xtick_14">
<g id="line2d_42">
<g>
<use href="#m1deace6daf" x="46.441667" y="441.3" style="stroke: #000000; stroke-width: 0.68"/>
</g>
</g>
<g id="text_40">
<text style="font-size: 15.51px; font-family: 'Liberation Sans', sans-serif; text-anchor: middle" x="46.441667" y="458.944703" transform="rotate(-0 46.441667 458.944703)" textLength="45.05" lengthAdjust="spacingAndGlyphs">−12.5</text>
</g>
</g>
<g id="xtick_15">
<g id="line2d_43">
<g>
<use href="#m1deace6daf" x="104.983333" y="441.3" style="stroke: #000000; stroke-width: 0.68"/>
</g>
</g>
<g id="text_41">
<text style="font-size: 15.51px; font-family: 'Liberation Sans', sans-serif; text-anchor: middle" x="104.983333" y="458.944703" transform="rotate(-0 104.983333 458.944703)" textLength="45.05" lengthAdjust="spacingAndGlyphs">−10.0</text>
</g>
</g>
<g id="xtick_16">
<g id="line2d_44">
<g>
<use href="#m1deace6daf" x="163.525" y="441.3" style="stroke: #000000; stroke-width: 0.68"/>
</g>
</g>
<g id="text_42">
<text style="font-size: 15.51px; font-family: 'Liberation Sans', sans-serif; text-anchor: middle" x="163.525" y="458.944703" transform="rotate(-0 163.525 458.944703)" textLength="35.70" lengthAdjust="spacingAndGlyphs">−7.5</text>
</g>
</g>
<g id="xtick_17">
<g id="line2d_45">
<g>
<use href="#m1deace6daf" x="222.066667" y="441.3" style="stroke: #000000; stroke-width: 0.68"/>
</g>
</g>
<g id="text_43">
<text style="font-size: 15.51px; font-family: 'Liberation Sans', sans-serif; text-anchor: middle" x="222.066667" y="458.944703" transform="rotate(-0 222.066667 458.944703)" textLength="35.70" lengthAdjust="spacingAndGlyphs">−5.0</text>
</g>
</g>
<g id="xtick_18">
<g id="line2d_46">
<g>
<use href="#m1deace6daf" x="280.608333" y="441.3" style="stroke: #000000; stroke-width: 0.68"/>
</g>
</g>
<g id="text_44">
<text style="font-size: 15.51px; font-family: 'Liberation Sans', sans-serif; text-anchor: middle" x="280.608333" y="458.944703" transform="rotate(-0 280.608333 458.944703)" textLength="35.70" lengthAdjust="spacingAndGlyphs">−2.5</text>
</g>
</g>
<g id="xtick_19">
<g id="line2d_47">
<g>
<use href="#m1deace6daf" x="339.15" y="441.3" style="stroke: #000000; stroke-width: 0.68"/>
</g>
</g>
<g id="text_45">
<text style="font-size: 15.51px; font-family: 'Liberation Sans', sans-serif; text-anchor: middle" x="339.15" y="458.944703" transform="rotate(-0 339.15 458.944703)" textLength="23.38" lengthAdjust="spacingAndGlyphs">0.0</text>
</g>
</g>
<g id="text_46">
<text style="font-size: 15.29px; font-family: 'Liberation Sans', sans-serif; text-anchor: middle" x="198.65" y="476.571547" transform="rotate(-0 198.65 476.571547)" textLength="57.01" lengthAdjust="spacingAndGlyphs">time (s)</text>
</g>
</g>
<g id="matplotlib.axis_6">
<g id="ytick_13">
<g id="line2d_48">
<g>
<use href="#mafa4a98656" x="44.1" y="433.6" style="stroke: #000000; stroke-width: 0.68"/>
</g>
</g>
<g id="text_47">
<text style="font-size: 15.51px; font-family: 'Liberation Sans', sans-serif; text-anchor: end" x="37.625" y="439.184852" transform="rotate(-0 37.625 439.184852)" textLength="9.35" lengthAdjust="spacingAndGlyphs">0</text>
</g>
</g>
<g id="ytick_14">
<g id="line2d_49">
<g>
<use href="#mafa4a98656" x="44.1" y="383.865" style="stroke: #000000; stroke-width: 0.68"/>
</g>
</g>
<g id="text_48">
<text style="font-size: 15.51px; font-family: 'Liberation Sans', sans-serif; text-anchor: end" x="37.625" y="389.449852" transform="rotate(-0 37.625 389.449852)" textLength="9.35" lengthAdjust="spacingAndGlyphs">5</text>
</g>
</g>
<g id="ytick_15">
<g id="line2d_50">
<g>
<use href="#mafa4a98656" x="44.1" y="334.13" style="stroke: #000000; stroke-width: 0.68"/>
</g>
</g>
<g id="text_49">
<text style="font-size: 15.51px; font-family: 'Liberation Sans', sans-serif; text-anchor: end" x="37.625" y="339.714852" transform="rotate(-0 37.625 339.714852)" textLength="18.71" lengthAdjust="spacingAndGlyphs">10</text>
</g>
</g>
<g id="ytick_16">
<g id="line2d_51">
<g>
<use href="#mafa4a98656" x="44.1" y="284.395" style="stroke: #000000; stroke-width: 0.68"/>
</g>
</g>
<g id="text_50">
<text style="font-size: 15.51px; font-family: 'Liberation Sans', sans-serif; text-anchor: end" x="37.625" y="289.979852" transform="rotate(-0 37.625 289.979852)" textLength="18.71" lengthAdjust="spacingAndGlyphs">15</text>
</g>
</g>
<g id="text_51">
<text style="font-size: 15.29px; font-family: 'Liberation Sans', sans-serif; text-anchor: middle" x="12.462109" y="354.95" transform="rotate(-90 12.462109 354.95)" textLength="57.01" lengthAdjust="spacingAndGlyphs">time (s)</text>
</g>
</g>
<g id="line2d_52">
<path d="M 58.15 295.6 
L 81.566667 285 
L 104.983333 308.4 
L 128.4 311.9 
L 151.816667 316.8 
L 175.233333 341.4 
L 198.65 339.5 
L 222.066667 359 
L 245.483333 360.5 
L 268.9 382.9 
L 292.316667 394.9 
L 315.733333 410.6 
L 339.15 421.5 
" clip-path="url(#pc240274007)" style="fill: none; stroke: #1f77b4; stroke-width: 1.9; stroke-linecap: square"/>
</g>
<g id="line2d_53">
<path d="M 58.15 311.4 
L 81.566667 316.3 
L 104.983333 352.5 
L 128.4 374.9 
L 151.816667 352.8 
L 175.233333 363.5 
L 198.65 351.3 
L 222.066667 359 
L 245.483333 373.1 
L 268.9 385.1 
L 292.316667 398.2 
L 315.733333 412.3 
L 339.15 422.8 
" clip-path="url(#pc240274007)" style="fill: none; stroke-dasharray: 5.7,1.9,1.9,1.9,1.9,1.9; stroke-dashoffset: 0; stroke: #ff7f0e; stroke-width: 1.9"/>
</g>
<g id="line2d_54">
<path d="M 58.15 283 
L 81.566667 275.9 
L 104.983333 333.8 
L 128.4 362.6 
L 151.816667 325.8 
L 175.233333 369.2 
L 198.65 359.5 
L 222.066667 368.8 
L 245.483333 381.8 
L 268.9 394.9 
L 292.316667 413.4 
L 315.733333 422.1 
L 339.15 424.9 
" clip-path="url(#pc240274007)" style="fill: none; stroke-dasharray: 7.03,3.04; stroke-dashoffset: 0; stroke: #2ca02c; stroke-width: 1.9"/>
</g>
<g id="line2d_55">
<path d="M 58.15 292.8 
L 81.566667 310.9 
L 104.983333 293.4 
L 128.4 311 
L 151.816667 352 
L 175.233333 381.5 
L 198.65 360 
L 222.066667 353.5 
L 245.483333 375.3 
L 268.9 392.7 
L 292.316667 416.7 
L 315.733333 423.2 
L 339.15 423.6 
" clip-path="url(#pc240274007)" style="fill: none; stroke-dasharray: 12.16,3.04,1.9,3.04; stroke-dashoffset: 0; stroke: #d62728; stroke-width: 1.9"/>
</g>
<g id="line2d_56">
<path d="M 58.15 314.236 
L 339.15 433.6 
" clip-path="url(#pc240274007)" style="fill: none; stroke-dasharray: 7.4,3.2; stroke-dashoffset: 0; stroke: #000000; stroke-width: 2"/>
</g>
<g id="patch_15">
<path d="M 44.1 441.3 
L 44.1 268.6 
" style="fill: none; stroke: #000000; stroke-width: 0.68; stroke-linejoin: miter; stroke-linecap: square"/>
</g>
<g id="patch_16">
<path d="M 353.2 441.3 
L 353.2 268.6 
" style="fill: none; stroke: #000000; stroke-width: 0.68; stroke-linejoin: miter; stroke-linecap: square"/>
</g>
<g id="patch_17">
<path d="M 44.1 441.3 
L 353.2 441.3 
" style="fill: none; stroke: #000000; stroke-width: 0.68; stroke-linejoin: miter; stroke-linecap: square"/>
</g>
<g id="patch_18">
<path d="M 44.1 268.6 
L 353.2 268.6 
" style="fill: none; stroke: #000000; stroke-width: 0.68; stroke-linejoin: miter; stroke-linecap: square"/>
</g>
<g id="text_52">
<g transform="translate(75.758 264.3)">
<text x="0" y="-0.859375" style="font-size: 15.29px; font-family: 'Liberation Sans', sans-serif" textLength="14.32" lengthAdjust="spacingAndGlyphs">m</text>
<text x="21.4911" y="-0.859375" style="font-size: 15.51px; font-family: 'Liberation Sans', sans-serif" textLength="12.32" lengthAdjust="spacingAndGlyphs">=</text>
<text x="33.85" y="-0.859375" style="font-size: 15.51px; font-family: 'Liberation Sans', sans-serif" textLength="9.35" lengthAdjust="spacingAndGlyphs">5</text>
<text x="43.2344" y="-0.859375" style="font-size: 15.51px; font-family: 'Liberation Sans', sans-serif" textLength="4.67" lengthAdjust="spacingAndGlyphs">.</text>
<text x="47.923" y="-0.859375" style="font-size: 15.51px; font-family: 'Liberation Sans', sans-serif" textLength="9.35" lengthAdjust="spacingAndGlyphs">0</text>
<text x="57.3074" y="-0.859375" style="font-size: 15.51px; font-family: 'Liberation Sans', sans-serif" textLength="12.68" lengthAdjust="spacingAndGlyphs">M</text>
<text x="83.2616" y="-0.859375" style="font-size: 15.51px; font-family: 'Liberation Sans', sans-serif" textLength="4.67" lengthAdjust="spacingAndGlyphs">,</text>
<text x="92.6388" y="-0.859375" style="font-size: 15.29px; font-family: 'Liberation Sans', sans-serif" textLength="14.32" lengthAdjust="spacingAndGlyphs">m</text>
<text x="114.13" y="-0.859375" style="font-size: 15.51px; font-family: 'Liberation Sans', sans-serif" textLength="12.32" lengthAdjust="spacingAndGlyphs">=</text>
<text x="126.489" y="-0.859375" style="font-size: 15.51px; font-family: 'Liberation Sans', sans-serif" textLength="9.35" lengthAdjust="spacingAndGlyphs">1</text>
<text x="135.873" y="-0.859375" style="font-size: 15.51px; font-family: 'Liberation Sans', sans-serif" textLength="4.67" lengthAdjust="spacingAndGlyphs">.</text>
<text x="140.562" y="-0.859375" style="font-size: 15.51px; font-family: 'Liberation Sans', sans-serif" textLength="9.35" lengthAdjust="spacingAndGlyphs">4</text>
<text x="149.946" y="-0.859375" style="font-size: 15.51px; font-family: 'Liberation Sans', sans-serif" textLength="12.68" lengthAdjust="spacingAndGlyphs">M</text>
<text x="175.9" y="-0.859375" style="font-size: 15.51px; font-family: 'Liberation Sans', sans-serif" textLength="4.67" lengthAdjust="spacingAndGlyphs">,</text>
<text x="185.278" y="-0.859375" style="font-size: 15.51px; font-family: 'Liberation Sans', sans-serif" textLength="9.33" lengthAdjust="spacingAndGlyphs">S</text>
<text x="194.64" y="-0.859375" style="font-size: 15.51px; font-family: 'Liberation Sans', sans-serif" textLength="11.00" lengthAdjust="spacingAndGlyphs">N</text>
<text x="205.174" y="-0.859375" style="font-size: 15.51px; font-family: 'Liberation Sans', sans-serif" textLength="10.21" lengthAdjust="spacingAndGlyphs">R</text>
<text x="215.423" y="-0.859375" style="font-size: 15.51px; font-family: 'Liberation Sans', sans-serif" textLength="12.32" lengthAdjust="spacingAndGlyphs">=</text>
<text x="227.782" y="-0.859375" style="font-size: 15.51px; font-family: 'Liberation Sans', sans-serif" textLength="9.35" lengthAdjust="spacingAndGlyphs">3</text>
<text x="237.166" y="-0.859375" style="font-size: 15.51px; font-family: 'Liberation Sans', sans-serif" textLength="9.35" lengthAdjust="spacingAndGlyphs">0</text>
<text x="14.5118" y="1.60156" style="font-size: 10.86px; font-family: 'Liberation Sans', sans-serif" textLength="6.55" lengthAdjust="spacingAndGlyphs">1</text>
<text x="107.151" y="1.60156" style="font-size: 10.86px; font-family: 'Liberation Sans', sans-serif" textLength="6.55" lengthAdjust="spacingAndGlyphs">2</text>
<circle cx="76.50" cy="-2.15" r="3.40" fill="none" stroke="#000" stroke-width="0.87"/><circle cx="76.50" cy="-2.15" r="0.72" fill="#000"/><circle cx="169.14" cy="-2.15" r="3.40" fill="none" stroke="#000" stroke-width="0.87"/><circle cx="169.14" cy="-2.15" r="0.72" fill="#000"/>
</g>
</g>
<g id="legend_3">
<g id="patch_19">
<path d="M 263.280461 354.992687 
L 344.135 354.992687 
Q 346.725 354.992687 346.725 352.402688 
L 346.725 277.665 
Q 346.725 275.075 344.135 275.075 
L 263.280461 275.075 
Q 260.690461 275.075 260.690461 277.665 
L 260.690461 352.402688 
Q 260.690461 354.992687 263.280461 354.992687 
z
" style="fill: #ffffff; opacity: 0.8; stroke: #cccccc; stroke-width: 0.85; stroke-linejoin: miter"/>
</g>
<g id="line2d_57">
<path d="M 265.870461 285.562477 
L 278.820461 285.562477 
L 291.770461 285.562477 
" style="fill: none; stroke: #1f77b4; stroke-width: 1.9; stroke-linecap: square"/>
</g>
<g id="text_53">
<text style="font-size: 13.60px; font-family: 'Liberation Sans', sans-serif; text-anchor: start" x="302.130461" y="290.094977" transform="rotate(-0 302.130461 290.094977)" textLength="39.41" lengthAdjust="spacingAndGlyphs">e=0.1</text>
</g>
<g id="line2d_58">
<path d="M 265.870461 304.570648 
L 278.820461 304.570648 
L 291.770461 304.570648 
" style="fill: none; stroke-dasharray: 5.7,1.9,1.9,1.9,1.9,1.9; stroke-dashoffset: 0; stroke: #ff7f0e; stroke-width: 1.9"/>
</g>
<g id="text_54">
<text style="font-size: 13.60px; font-family: 'Liberation Sans', sans-serif; text-anchor: start" x="302.130461" y="309.103148" transform="rotate(-0 302.130461 309.103148)" textLength="39.41" lengthAdjust="spacingAndGlyphs">e=0.3</text>
</g>
<g id="line2d_59">
<path d="M 265.870461 323.57882 
L 278.820461 323.57882 
L 291.770461 323.57882 
" style="fill: none; stroke-dasharray: 7.03,3.04; stroke-dashoffset: 0; stroke: #2ca02c; stroke-width: 1.9"/>
</g>
<g id="text_55">
<text style="font-size: 13.60px; font-family: 'Liberation Sans', sans-serif; text-anchor: start" x="302.130461" y="328.11132" transform="rotate(-0 302.130461 328.11132)" textLength="39.41" lengthAdjust="spacingAndGlyphs">e=0.5</text>
</g>
<g id="line2d_60">
<path d="M 265.870461 342.586992 
L 278.820461 342.586992 
L 291.770461 342.586992 
" style="fill: none; stroke-dasharray: 12.16,3.04,1.9,3.04; stroke-dashoffset: 0; stroke: #d62728; stroke-width: 1.9"/>
</g>
<g id="text_56">
<text style="font-size: 13.60px; font-family: 'Liberation Sans', sans-serif; text-anchor: start" x="302.130461" y="347.119492" transform="rotate(-0 302.130461 347.119492)" textLength="39.41" lengthAdjust="spacingAndGlyphs">e=0.7</text>
</g>
</g>
</g>
<g id="axes_4">
<g id="patch_20">
<path d="M 423.8 441.4 
L 732.9 441.4 
L 732.9 268.5 
L 423.8 268.5 
z
" style="fill: #ffffff"/>
</g>
<g id="matplotlib.axis_7">
<g id="xtick_20">
<g id="line2d_61">
<g>
<use href="#m1deace6daf" x="518.135714" y="441.4" style="stroke: #000000; stroke-width: 0.68"/>
</g>
</g>
<g id="text_57">
<text style="font-size: 15.51px; font-family: 'Liberation Sans', sans-serif; text-anchor: middle" x="518.135714" y="459.044703" transform="rotate(-0 518.135714 459.044703)" textLength="31.02" lengthAdjust="spacingAndGlyphs">−10</text>
</g>
</g>
<g id="xtick_21">
<g id="line2d_62">
<g>
<use href="#m1deace6daf" x="618.492857" y="441.4" style="stroke: #000000; stroke-width: 0.68"/>
</g>
</g>
<g id="text_58">
<text style="font-size: 15.51px; font-family: 'Liberation Sans', sans-serif; text-anchor: middle" x="618.492857" y="459.044703" transform="rotate(-0 618.492857 459.044703)" textLength="21.67" lengthAdjust="spacingAndGlyphs">−5</text>
</g>
</g>
<g id="xtick_22">
<g id="line2d_63">
<g>
<use href="#m1deace6daf" x="718.85" y="441.4" style="stroke: #000000; stroke-width: 0.68"/>
</g>
</g>
<g id="text_59">
<text style="font-size: 15.51px; font-family: 'Liberation Sans', sans-serif; text-anchor: middle" x="718.85" y="459.044703" transform="rotate(-0 718.85 459.044703)" textLength="9.35" lengthAdjust="spacingAndGlyphs">0</text>
</g>
</g>
<g id="text_60">
<text style="font-size: 15.29px; font-family: 'Liberation Sans', sans-serif; text-anchor: middle" x="578.35" y="476.671547" transform="rotate(-0 578.35 476.671547)" textLength="57.01" lengthAdjust="spacingAndGlyphs">time (s)</text>
</g>
</g>
<g id="matplotlib.axis_8">
<g id="ytick_17">
<g id="line2d_64">
<g>
<use href="#mafa4a98656" x="423.8" y="433" style="stroke: #000000; stroke-width: 0.68"/>
</g>
</g>
<g id="text_61">
<text style="font-size: 15.51px; font-family: 'Liberation Sans', sans-serif; text-anchor: end" x="417.325" y="438.584852" transform="rotate(-0 417.325 438.584852)" textLength="9.35" lengthAdjust="spacingAndGlyphs">0</text>
</g>
</g>
<g id="ytick_18">
<g id="line2d_65">
<g>
<use href="#mafa4a98656" x="423.8" y="380.135" style="stroke: #000000; stroke-width: 0.68"/>
</g>
</g>
<g id="text_62">
<text style="font-size: 15.51px; font-family: 'Liberation Sans', sans-serif; text-anchor: end" x="417.325" y="385.719852" transform="rotate(-0 417.325 385.719852)" textLength="9.35" lengthAdjust="spacingAndGlyphs">5</text>
</g>
</g>
<g id="ytick_19">
<g id="line2d_66">
<g>
<use href="#mafa4a98656" x="423.8" y="327.27" style="stroke: #000000; stroke-width: 0.68"/>
</g>
</g>
<g id="text_63">
<text style="font-size: 15.51px; font-family: 'Liberation Sans', sans-serif; text-anchor: end" x="417.325" y="332.854852" transform="rotate(-0 417.325 332.854852)" textLength="18.71" lengthAdjust="spacingAndGlyphs">10</text>
</g>
</g>
<g id="ytick_20">
<g id="line2d_67">
<g>
<use href="#mafa4a98656" x="423.8" y="274.405" style="stroke: #000000; stroke-width: 0.68"/>
</g>
</g>
<g id="text_64">
<text style="font-size: 15.51px; font-family: 'Liberation Sans', sans-serif; text-anchor: end" x="417.325" y="279.989852" transform="rotate(-0 417.325 279.989852)" textLength="18.71" lengthAdjust="spacingAndGlyphs">15</text>
</g>
</g>
<g id="text_65">
<text style="font-size: 15.29px; font-family: 'Liberation Sans', sans-serif; text-anchor: middle" x="392.162109" y="354.95" transform="rotate(-90 392.162109 354.95)" textLength="57.01" lengthAdjust="spacingAndGlyphs">time (s)</text>
</g>
</g>
<g id="line2d_68">
<path d="M 437.85 275.9 
L 457.921429 303.2 
L 477.992857 304.3 
L 498.064286 281.8 
L 518.135714 294.2 
L 538.207143 318 
L 558.278571 322.4 
L 578.35 335.5 
L 598.421429 327.6 
L 618.492857 381.6 
L 638.564286 396.9 
L 658.635714 406.7 
L 678.707143 423 
L 698.778571 426.3 
L 718.85 428.4 
" clip-path="url(#p331545ec2e)" style="fill: none; stroke: #1f77b4; stroke-width: 1.9; stroke-linecap: square"/>
</g>
<g id="line2d_69">
<path d="M 437.85 291.6 
L 457.921429 324 
L 477.992857 303.2 
L 498.064286 284.4 
L 518.135714 312.6 
L 538.207143 382.9 
L 558.278571 349.7 
L 578.35 316.6 
L 598.421429 343.5 
L 618.492857 380.5 
L 638.564286 400.1 
L 658.635714 417.5 
L 678.707143 425.2 
L 698.778571 419.7 
L 718.85 428.4 
" clip-path="url(#p331545ec2e)" style="fill: none; stroke-dasharray: 5.7,1.9,1.9,1.9,1.9,1.9; stroke-dashoffset: 0; stroke: #ff7f0e; stroke-width: 1.9"/>
</g>
<g id="line2d_70">
<path d="M 437.85 302.1 
L 457.921429 286.4 
L 477.992857 305.4 
L 498.064286 291.9 
L 518.135714 277.4 
L 538.207143 292.9 
L 558.278571 321.6 
L 578.35 356.7 
L 598.421429 349 
L 618.492857 377.3 
L 638.564286 393.6 
L 658.635714 417.5 
L 678.707143 428.4 
L 698.778571 426.3 
L 718.85 421.9 
" clip-path="url(#p331545ec2e)" style="fill: none; stroke-dasharray: 7.03,3.04; stroke-dashoffset: 0; stroke: #2ca02c; stroke-width: 1.9"/>
</g>
<g id="line2d_71">
<path d="M 437.85 291.6 
L 457.921429 297.8 
L 477.992857 302.6 
L 498.064286 299.5 
L 518.135714 328.3 
L 538.207143 355.9 
L 558.278571 323.2 
L 578.35 369 
L 598.421429 368.6 
L 618.492857 367.5 
L 638.564286 398 
L 658.635714 411 
L 678.707143 426.3 
L 698.778571 430.6 
L 718.85 433.2 
" clip-path="url(#p331545ec2e)" style="fill: none; stroke-dasharray: 12.16,3.04,1.9,3.04; stroke-dashoffset: 0; stroke: #d62728; stroke-width: 1.9"/>
</g>
<g id="line2d_72">
<path d="M 437.85 284.978 
L 718.85 433 
" clip-path="url(#p331545ec2e)" style="fill: none; stroke-dasharray: 7.4,3.2; stroke-dashoffset: 0; stroke: #000000; stroke-width: 2"/>
</g>
<g id="patch_21">
<path d="M 423.8 441.4 
L 423.8 268.5 
" style="fill: none; stroke: #000000; stroke-width: 0.68; stroke-linejoin: miter; stroke-linecap: square"/>
</g>
<g id="patch_22">
<path d="M 732.9 441.4 
L 732.9 268.5 
" style="fill: none; stroke: #000000; stroke-width: 0.68; stroke-linejoin: miter; stroke-linecap: square"/>
</g>
<g id="patch_23">
<path d="M 423.8 441.4 
L 732.9 441.4 
" style="fill: none; stroke: #000000; stroke-width: 0.68; stroke-linejoin: miter; stroke-linecap: square"/>
</g>
<g id="patch_24">
<path d="M 423.8 268.5 
L 732.9 268.5 
" style="fill: none; stroke: #000000; stroke-width: 0.68; stroke-linejoin: miter; stroke-linecap: square"/>
</g>
<g id="text_66">
<g transform="translate(450.8275 264.2)">
<text x="0" y="-0.859375" style="font-size: 15.29px; font-family: 'Liberation Sans', sans-serif" textLength="14.32" lengthAdjust="spacingAndGlyphs">m</text>
<text x="21.4911" y="-0.859375" style="font-size: 15.51px; font-family: 'Liberation Sans', sans-serif" textLength="12.32" lengthAdjust="spacingAndGlyphs">=</text>
<text x="33.85" y="-0.859375" style="font-size: 15.51px; font-family: 'Liberation Sans', sans-serif" textLength="9.35" lengthAdjust="spacingAndGlyphs">1</text>
<text x="43.2344" y="-0.859375" style="font-size: 15.51px; font-family: 'Liberation Sans', sans-serif" textLength="9.35" lengthAdjust="spacingAndGlyphs">0</text>
<text x="52.6188" y="-0.859375" style="font-size: 15.51px; font-family: 'Liberation Sans', sans-serif" textLength="4.67" lengthAdjust="spacingAndGlyphs">.</text>
<text x="57.3074" y="-0.859375" style="font-size: 15.51px; font-family: 'Liberation Sans', sans-serif" textLength="9.35" lengthAdjust="spacingAndGlyphs">0</text>
<text x="66.6918" y="-0.859375" style="font-size: 15.51px; font-family: 'Liberation Sans', sans-serif" textLength="12.68" lengthAdjust="spacingAndGlyphs">M</text>
<text x="92.646" y="-0.859375" style="font-size: 15.51px; font-family: 'Liberation Sans', sans-serif" textLength="4.67" lengthAdjust="spacingAndGlyphs">,</text>
<text x="102.023" y="-0.859375" style="font-size: 15.29px; font-family: 'Liberation Sans', sans-serif" textLength="14.32" lengthAdjust="spacingAndGlyphs">m</text>
<text x="123.514" y="-0.859375" style="font-size: 15.51px; font-family: 'Liberation Sans', sans-serif" textLength="12.32" lengthAdjust="spacingAndGlyphs">=</text>
<text x="135.873" y="-0.859375" style="font-size: 15.51px; font-family: 'Liberation Sans', sans-serif" textLength="9.35" lengthAdjust="spacingAndGlyphs">1</text>
<text x="145.258" y="-0.859375" style="font-size: 15.51px; font-family: 'Liberation Sans', sans-serif" textLength="4.67" lengthAdjust="spacingAndGlyphs">.</text>
<text x="149.946" y="-0.859375" style="font-size: 15.51px; font-family: 'Liberation Sans', sans-serif" textLength="9.35" lengthAdjust="spacingAndGlyphs">4</text>
<text x="159.331" y="-0.859375" style="font-size: 15.51px; font-family: 'Liberation Sans', sans-serif" textLength="12.68" lengthAdjust="spacingAndGlyphs">M</text>
<text x="185.285" y="-0.859375" style="font-size: 15.51px; font-family: 'Liberation Sans', sans-serif" textLength="4.67" lengthAdjust="spacingAndGlyphs">,</text>
<text x="194.662" y="-0.859375" style="font-size: 15.51px; font-family: 'Liberation Sans', sans-serif" textLength="9.33" lengthAdjust="spacingAndGlyphs">S</text>
<text x="204.025" y="-0.859375" style="font-size: 15.51px; font-family: 'Liberation Sans', sans-serif" textLength="11.00" lengthAdjust="spacingAndGlyphs">N</text>
<text x="214.558" y="-0.859375" style="font-size: 15.51px; font-family: 'Liberation Sans', sans-serif" textLength="10.21" lengthAdjust="spacingAndGlyphs">R</text>
<text x="224.807" y="-0.859375" style="font-size: 15.51px; font-family: 'Liberation Sans', sans-serif" textLength="12.32" lengthAdjust="spacingAndGlyphs">=</text>
<text x="237.166" y="-0.859375" style="font-size: 15.51px; font-family: 'Liberation Sans', sans-serif" textLength="9.35" lengthAdjust="spacingAndGlyphs">3</text>
<text x="246.55" y="-0.859375" style="font-size: 15.51px; font-family: 'Liberation Sans', sans-serif" textLength="9.35" lengthAdjust="spacingAndGlyphs">0</text>
<text x="14.5118" y="1.60156" style="font-size: 10.86px; font-family: 'Liberation Sans', sans-serif" textLength="6.55" lengthAdjust="spacingAndGlyphs">1</text>
<text x="116.535" y="1.60156" style="font-size: 10.86px; font-family: 'Liberation Sans', sans-serif" textLength="6.55" lengthAdjust="spacingAndGlyphs">2</text>
<circle cx="85.88" cy="-2.15" r="3.40" fill="none" stroke="#000" stroke-width="0.87"/><circle cx="85.88" cy="-2.15" r="0.72" fill="#000"/><circle cx="178.52" cy="-2.15" r="3.40" fill="none" stroke="#000" stroke-width="0.87"/><circle cx="178.52" cy="-2.15" r="0.72" fill="#000"/>
</g>
</g>
<g id="legend_4">
<g id="patch_25">
<path d="M 642.980461 354.892687 
L 723.835 354.892687 
Q 726.425 354.892687 726.425 352.302687 
L 726.425 277.565 
Q 726.425 274.975 723.835 274.975 
L 642.980461 274.975 
Q 640.390461 274.975 640.390461 277.565 
L 640.390461 352.302687 
Q 640.390461 354.892687 642.980461 354.892687 
z
" style="fill: #ffffff; opacity: 0.8; stroke: #cccccc; stroke-width: 0.85; stroke-linejoin: miter"/>
</g>
<g id="line2d_73">
<path d="M 645.570461 285.462477 
L 658.520461 285.462477 
L 671.470461 285.462477 
" style="fill: none; stroke: #1f77b4; stroke-width: 1.9; stroke-linecap: square"/>
</g>
<g id="text_67">
<text style="font-size: 13.60px; font-family: 'Liberation Sans', sans-serif; text-anchor: start" x="681.830461" y="289.994977" transform="rotate(-0 681.830461 289.994977)" textLength="39.41" lengthAdjust="spacingAndGlyphs">e=0.1</text>
</g>
<g id="line2d_74">
<path d="M 645.570461 304.470648 
L 658.520461 304.470648 
L 671.470461 304.470648 
" style="fill: none; stroke-dasharray: 5.7,1.9,1.9,1.9,1.9,1.9; stroke-dashoffset: 0; stroke: #ff7f0e; stroke-width: 1.9"/>
</g>
<g id="text_68">
<text style="font-size: 13.60px; font-family: 'Liberation Sans', sans-serif; text-anchor: start" x="681.830461" y="309.003148" transform="rotate(-0 681.830461 309.003148)" textLength="39.41" lengthAdjust="spacingAndGlyphs">e=0.3</text>
</g>
<g id="line2d_75">
<path d="M 645.570461 323.47882 
L 658.520461 323.47882 
L 671.470461 323.47882 
" style="fill: none; stroke-dasharray: 7.03,3.04; stroke-dashoffset: 0; stroke: #2ca02c; stroke-width: 1.9"/>
</g>
<g id="text_69">
<text style="font-size: 13.60px; font-family: 'Liberation Sans', sans-serif; text-anchor: start" x="681.830461" y="328.01132" transform="rotate(-0 681.830461 328.01132)" textLength="39.41" lengthAdjust="spacingAndGlyphs">e=0.5</text>
</g>
<g id="line2d_76">
<path d="M 645.570461 342.486992 
L 658.520461 342.486992 
L 671.470461 342.486992 
" style="fill: none; stroke-dasharray: 12.16,3.04,1.9,3.04; stroke-dashoffset: 0; stroke: #d62728; stroke-width: 1.9"/>
</g>
<g id="text_70">
<text style="font-size: 13.60px; font-family: 'Liberation Sans', sans-serif; text-anchor: start" x="681.830461" y="347.019492" transform="rotate(-0 681.830461 347.019492)" textLength="39.41" lengthAdjust="spacingAndGlyphs">e=0.7</text>
</g>
</g>
</g>
<g id="axes_5">
<g id="patch_26">
<path d="M 50 695.7 
L 319.4 695.7 
L 319.4 520 
L 50 520 
z
" style="fill: #ffffff"/>
</g>
<g id="PathCollection_1">
<defs>
<path id="C0_0_f4b89777d7" d="M -2.738613 2.738613 
L 2.738613 2.738613 
L 2.738613 -2.738613 
L -2.738613 -2.738613 
z
"/>
</defs>
<g clip-path="url(#p1002fd260f)">
<use href="#C0_0_f4b89777d7" x="62.245455" y="519.997879" style="fill: #440154; stroke: #440154; stroke-width: 0.8"/>
</g>
<g clip-path="url(#p1002fd260f)">
<use href="#C0_0_f4b89777d7" x="67.243599" y="519.997879" style="fill: #440154; stroke: #440154; stroke-width: 0.8"/>
</g>
<g clip-path="url(#p1002fd260f)">
<use href="#C0_0_f4b89777d7" x="72.241744" y="519.997879" style="fill: #440256; stroke: #440256; stroke-width: 0.8"/>
</g>
<g clip-path="url(#p1002fd260f)">
<use href="#C0_0_f4b89777d7" x="77.239889" y="519.997879" style="fill: #450457; stroke: #450457; stroke-width: 0.8"/>
</g>
<g clip-path="url(#p1002fd260f)">
<use href="#C0_0_f4b89777d7" x="82.238033" y="519.997879" style="fill: #450559; stroke: #450559; stroke-width: 0.8"/>
</g>
<g clip-path="url(#p1002fd260f)">
<use href="#C0_0_f4b89777d7" x="87.236178" y="519.997879" style="fill: #46075a; stroke: #46075a; stroke-width: 0.8"/>
</g>
<g clip-path="url(#p1002fd260f)">
<use href="#C0_0_f4b89777d7" x="92.234323" y="519.997879" style="fill: #46085c; stroke: #46085c; stroke-width: 0.8"/>
</g>
<g clip-path="url(#p1002fd260f)">
<use href="#C0_0_f4b89777d7" x="97.232468" y="519.997879" style="fill: #460a5d; stroke: #460a5d; stroke-width: 0.8"/>
</g>
<g clip-path="url(#p1002fd260f)">
<use href="#C0_0_f4b89777d7" x="102.230612" y="520.012122" style="fill: #460b5e; stroke: #460b5e; stroke-width: 0.8"/>
</g>
<g clip-path="url(#p1002fd260f)">
<use href="#C0_0_f4b89777d7" x="107.228757" y="520.13279" style="fill: #470d60; stroke: #470d60; stroke-width: 0.8"/>
</g>
<g clip-path="url(#p1002fd260f)">
<use href="#C0_0_f4b89777d7" x="112.226902" y="520.349851" style="fill: #470e61; stroke: #470e61; stroke-width: 0.8"/>
</g>
<g clip-path="url(#p1002fd260f)">
<use href="#C0_0_f4b89777d7" x="117.225046" y="520.686062" style="fill: #471164; stroke: #471164; stroke-width: 0.8"/>
</g>
<g clip-path="url(#p1002fd260f)">
<use href="#C0_0_f4b89777d7" x="122.223191" y="521.444642" style="fill: #471365; stroke: #471365; stroke-width: 0.8"/>
</g>
<g clip-path="url(#p1002fd260f)">
<use href="#C0_0_f4b89777d7" x="127.221336" y="522.634858" style="fill: #481467; stroke: #481467; stroke-width: 0.8"/>
</g>
<g clip-path="url(#p1002fd260f)">
<use href="#C0_0_f4b89777d7" x="132.219481" y="524.737908" style="fill: #481769; stroke: #481769; stroke-width: 0.8"/>
</g>
<g clip-path="url(#p1002fd260f)">
<use href="#C0_0_f4b89777d7" x="137.217625" y="526.848931" style="fill: #48186a; stroke: #48186a; stroke-width: 0.8"/>
</g>
<g clip-path="url(#p1002fd260f)">
<use href="#C0_0_f4b89777d7" x="142.21577" y="528.355008" style="fill: #481b6d; stroke: #481b6d; stroke-width: 0.8"/>
</g>
<g clip-path="url(#p1002fd260f)">
<use href="#C0_0_f4b89777d7" x="147.213915" y="529.664355" style="fill: #481c6e; stroke: #481c6e; stroke-width: 0.8"/>
</g>
<g clip-path="url(#p1002fd260f)">
<use href="#C0_0_f4b89777d7" x="152.212059" y="530.939896" style="fill: #481f70; stroke: #481f70; stroke-width: 0.8"/>
</g>
<g clip-path="url(#p1002fd260f)">
<use href="#C0_0_f4b89777d7" x="157.210204" y="532.329549" style="fill: #482173; stroke: #482173; stroke-width: 0.8"/>
</g>
<g clip-path="url(#p1002fd260f)">
<use href="#C0_0_f4b89777d7" x="162.208349" y="533.808843" style="fill: #482475; stroke: #482475; stroke-width: 0.8"/>
</g>
<g clip-path="url(#p1002fd260f)">
<use href="#C0_0_f4b89777d7" x="167.206494" y="535.32365" style="fill: #482677; stroke: #482677; stroke-width: 0.8"/>
</g>
<g clip-path="url(#p1002fd260f)">
<use href="#C0_0_f4b89777d7" x="172.204638" y="536.840548" style="fill: #482979; stroke: #482979; stroke-width: 0.8"/>
</g>
<g clip-path="url(#p1002fd260f)">
<use href="#C0_0_f4b89777d7" x="177.202783" y="538.311546" style="fill: #472d7b; stroke: #472d7b; stroke-width: 0.8"/>
</g>
<g clip-path="url(#p1002fd260f)">
<use href="#C0_0_f4b89777d7" x="182.200928" y="539.751218" style="fill: #46307e; stroke: #46307e; stroke-width: 0.8"/>
</g>
<g clip-path="url(#p1002fd260f)">
<use href="#C0_0_f4b89777d7" x="187.199072" y="541.259824" style="fill: #453581; stroke: #453581; stroke-width: 0.8"/>
</g>
<g clip-path="url(#p1002fd260f)">
<use href="#C0_0_f4b89777d7" x="192.197217" y="542.939021" style="fill: #443b84; stroke: #443b84; stroke-width: 0.8"/>
</g>
<g clip-path="url(#p1002fd260f)">
<use href="#C0_0_f4b89777d7" x="197.195362" y="544.838733" style="fill: #424186; stroke: #424186; stroke-width: 0.8"/>
</g>
<g clip-path="url(#p1002fd260f)">
<use href="#C0_0_f4b89777d7" x="202.193506" y="546.888931" style="fill: #404688; stroke: #404688; stroke-width: 0.8"/>
</g>
<g clip-path="url(#p1002fd260f)">
<use href="#C0_0_f4b89777d7" x="207.191651" y="549.004073" style="fill: #3e4c8a; stroke: #3e4c8a; stroke-width: 0.8"/>
</g>
<g clip-path="url(#p1002fd260f)">
<use href="#C0_0_f4b89777d7" x="212.189796" y="551.079901" style="fill: #3c508b; stroke: #3c508b; stroke-width: 0.8"/>
</g>
<g clip-path="url(#p1002fd260f)">
<use href="#C0_0_f4b89777d7" x="217.187941" y="553.140817" style="fill: #39558c; stroke: #39558c; stroke-width: 0.8"/>
</g>
<g clip-path="url(#p1002fd260f)">
<use href="#C0_0_f4b89777d7" x="222.186085" y="555.391445" style="fill: #375a8c; stroke: #375a8c; stroke-width: 0.8"/>
</g>
<g clip-path="url(#p1002fd260f)">
<use href="#C0_0_f4b89777d7" x="227.18423" y="558.056955" style="fill: #355f8d; stroke: #355f8d; stroke-width: 0.8"/>
</g>
<g clip-path="url(#p1002fd260f)">
<use href="#C0_0_f4b89777d7" x="232.182375" y="561.51479" style="fill: #32648e; stroke: #32648e; stroke-width: 0.8"/>
</g>
<g clip-path="url(#p1002fd260f)">
<use href="#C0_0_f4b89777d7" x="237.180519" y="565.317284" style="fill: #30698e; stroke: #30698e; stroke-width: 0.8"/>
</g>
<g clip-path="url(#p1002fd260f)">
<use href="#C0_0_f4b89777d7" x="242.178664" y="569.407712" style="fill: #2e6d8e; stroke: #2e6d8e; stroke-width: 0.8"/>
</g>
<g clip-path="url(#p1002fd260f)">
<use href="#C0_0_f4b89777d7" x="247.176809" y="573.413065" style="fill: #2c718e; stroke: #2c718e; stroke-width: 0.8"/>
</g>
<g clip-path="url(#p1002fd260f)">
<use href="#C0_0_f4b89777d7" x="252.174954" y="577.359375" style="fill: #2a768e; stroke: #2a768e; stroke-width: 0.8"/>
</g>
<g clip-path="url(#p1002fd260f)">
<use href="#C0_0_f4b89777d7" x="257.173098" y="581.613421" style="fill: #287c8e; stroke: #287c8e; stroke-width: 0.8"/>
</g>
<g clip-path="url(#p1002fd260f)">
<use href="#C0_0_f4b89777d7" x="262.171243" y="586.393342" style="fill: #26828e; stroke: #26828e; stroke-width: 0.8"/>
</g>
<g clip-path="url(#p1002fd260f)">
<use href="#C0_0_f4b89777d7" x="267.169388" y="591.740164" style="fill: #23898e; stroke: #23898e; stroke-width: 0.8"/>
</g>
<g clip-path="url(#p1002fd260f)">
<use href="#C0_0_f4b89777d7" x="272.167532" y="597.9323" style="fill: #21918c; stroke: #21918c; stroke-width: 0.8"/>
</g>
<g clip-path="url(#p1002fd260f)">
<use href="#C0_0_f4b89777d7" x="277.165677" y="604.534989" style="fill: #1f988b; stroke: #1f988b; stroke-width: 0.8"/>
</g>
<g clip-path="url(#p1002fd260f)">
<use href="#C0_0_f4b89777d7" x="282.163822" y="611.079151" style="fill: #1fa088; stroke: #1fa088; stroke-width: 0.8"/>
</g>
<g clip-path="url(#p1002fd260f)">
<use href="#C0_0_f4b89777d7" x="287.161967" y="618.047428" style="fill: #23a983; stroke: #23a983; stroke-width: 0.8"/>
</g>
<g clip-path="url(#p1002fd260f)">
<use href="#C0_0_f4b89777d7" x="292.160111" y="625.993853" style="fill: #31b57b; stroke: #31b57b; stroke-width: 0.8"/>
</g>
<g clip-path="url(#p1002fd260f)">
<use href="#C0_0_f4b89777d7" x="297.158256" y="637.233062" style="fill: #50c46a; stroke: #50c46a; stroke-width: 0.8"/>
</g>
<g clip-path="url(#p1002fd260f)">
<use href="#C0_0_f4b89777d7" x="302.156401" y="653.966432" style="fill: #9dd93b; stroke: #9dd93b; stroke-width: 0.8"/>
</g>
<g clip-path="url(#p1002fd260f)">
<use href="#C0_0_f4b89777d7" x="307.154545" y="696.000004" style="fill: #fde725; stroke: #fde725; stroke-width: 0.8"/>
</g>
</g>
<g id="PathCollection_2">
<defs>
<path id="C1_0_6bc16225f0" d="M 0 2.915476 
C 0.773193 2.915476 1.514823 2.608283 2.061553 2.061553 
C 2.608283 1.514823 2.915476 0.773193 2.915476 -0 
C 2.915476 -0.773193 2.608283 -1.514823 2.061553 -2.061553 
C 1.514823 -2.608283 0.773193 -2.915476 0 -2.915476 
C -0.773193 -2.915476 -1.514823 -2.608283 -2.061553 -2.061553 
C -2.608283 -1.514823 -2.915476 -0.773193 -2.915476 0 
C -2.915476 0.773193 -2.608283 1.514823 -2.061553 2.061553 
C -1.514823 2.608283 -0.773193 2.915476 0 2.915476 
z
"/>
</defs>
<g clip-path="url(#p1002fd260f)">
<use href="#C1_0_6bc16225f0" x="62.245455" y="541.281505" style="fill: #440154; stroke: #440154; stroke-width: 0.8"/>
</g>
<g clip-path="url(#p1002fd260f)">
<use href="#C1_0_6bc16225f0" x="67.243599" y="542.142961" style="fill: #440154; stroke: #440154; stroke-width: 0.8"/>
</g>
<g clip-path="url(#p1002fd260f)">
<use href="#C1_0_6bc16225f0" x="72.241744" y="542.991544" style="fill: #440256; stroke: #440256; stroke-width: 0.8"/>
</g>
<g clip-path="url(#p1002fd260f)">
<use href="#C1_0_6bc16225f0" x="77.239889" y="543.826312" style="fill: #450457; stroke: #450457; stroke-width: 0.8"/>
</g>
<g clip-path="url(#p1002fd260f)">
<use href="#C1_0_6bc16225f0" x="82.238033" y="544.646323" style="fill: #450559; stroke: #450559; stroke-width: 0.8"/>
</g>
<g clip-path="url(#p1002fd260f)">
<use href="#C1_0_6bc16225f0" x="87.236178" y="545.450636" style="fill: #46075a; stroke: #46075a; stroke-width: 0.8"/>
</g>
<g clip-path="url(#p1002fd260f)">
<use href="#C1_0_6bc16225f0" x="92.234323" y="546.226238" style="fill: #46085c; stroke: #46085c; stroke-width: 0.8"/>
</g>
<g clip-path="url(#p1002fd260f)">
<use href="#C1_0_6bc16225f0" x="97.232468" y="546.961262" style="fill: #460a5d; stroke: #460a5d; stroke-width: 0.8"/>
</g>
<g clip-path="url(#p1002fd260f)">
<use href="#C1_0_6bc16225f0" x="102.230612" y="547.677311" style="fill: #460b5e; stroke: #460b5e; stroke-width: 0.8"/>
</g>
<g clip-path="url(#p1002fd260f)">
<use href="#C1_0_6bc16225f0" x="107.228757" y="548.396749" style="fill: #470d60; stroke: #470d60; stroke-width: 0.8"/>
</g>
<g clip-path="url(#p1002fd260f)">
<use href="#C1_0_6bc16225f0" x="112.226902" y="549.141939" style="fill: #470e61; stroke: #470e61; stroke-width: 0.8"/>
</g>
<g clip-path="url(#p1002fd260f)">
<use href="#C1_0_6bc16225f0" x="117.225046" y="549.935247" style="fill: #471164; stroke: #471164; stroke-width: 0.8"/>
</g>
<g clip-path="url(#p1002fd260f)">
<use href="#C1_0_6bc16225f0" x="122.223191" y="550.80338" style="fill: #471365; stroke: #471365; stroke-width: 0.8"/>
</g>
<g clip-path="url(#p1002fd260f)">
<use href="#C1_0_6bc16225f0" x="127.221336" y="551.772161" style="fill: #481467; stroke: #481467; stroke-width: 0.8"/>
</g>
<g clip-path="url(#p1002fd260f)">
<use href="#C1_0_6bc16225f0" x="132.219481" y="552.793806" style="fill: #481769; stroke: #481769; stroke-width: 0.8"/>
</g>
<g clip-path="url(#p1002fd260f)">
<use href="#C1_0_6bc16225f0" x="137.217625" y="553.810129" style="fill: #48186a; stroke: #48186a; stroke-width: 0.8"/>
</g>
<g clip-path="url(#p1002fd260f)">
<use href="#C1_0_6bc16225f0" x="142.21577" y="554.79636" style="fill: #481b6d; stroke: #481b6d; stroke-width: 0.8"/>
</g>
<g clip-path="url(#p1002fd260f)">
<use href="#C1_0_6bc16225f0" x="147.213915" y="555.780564" style="fill: #481c6e; stroke: #481c6e; stroke-width: 0.8"/>
</g>
<g clip-path="url(#p1002fd260f)">
<use href="#C1_0_6bc16225f0" x="152.212059" y="556.769635" style="fill: #481f70; stroke: #481f70; stroke-width: 0.8"/>
</g>
<g clip-path="url(#p1002fd260f)">
<use href="#C1_0_6bc16225f0" x="157.210204" y="557.767343" style="fill: #482173; stroke: #482173; stroke-width: 0.8"/>
</g>
<g clip-path="url(#p1002fd260f)">
<use href="#C1_0_6bc16225f0" x="162.208349" y="558.757286" style="fill: #482475; stroke: #482475; stroke-width: 0.8"/>
</g>
<g clip-path="url(#p1002fd260f)">
<use href="#C1_0_6bc16225f0" x="167.206494" y="559.761376" style="fill: #482677; stroke: #482677; stroke-width: 0.8"/>
</g>
<g clip-path="url(#p1002fd260f)">
<use href="#C1_0_6bc16225f0" x="172.204638" y="560.81159" style="fill: #482979; stroke: #482979; stroke-width: 0.8"/>
</g>
<g clip-path="url(#p1002fd260f)">
<use href="#C1_0_6bc16225f0" x="177.202783" y="561.917555" style="fill: #472d7b; stroke: #472d7b; stroke-width: 0.8"/>
</g>
<g clip-path="url(#p1002fd260f)">
<use href="#C1_0_6bc16225f0" x="182.200928" y="563.0682" style="fill: #46307e; stroke: #46307e; stroke-width: 0.8"/>
</g>
<g clip-path="url(#p1002fd260f)">
<use href="#C1_0_6bc16225f0" x="187.199072" y="564.292266" style="fill: #453581; stroke: #453581; stroke-width: 0.8"/>
</g>
<g clip-path="url(#p1002fd260f)">
<use href="#C1_0_6bc16225f0" x="192.197217" y="565.621609" style="fill: #443b84; stroke: #443b84; stroke-width: 0.8"/>
</g>
<g clip-path="url(#p1002fd260f)">
<use href="#C1_0_6bc16225f0" x="197.195362" y="567.094959" style="fill: #424186; stroke: #424186; stroke-width: 0.8"/>
</g>
<g clip-path="url(#p1002fd260f)">
<use href="#C1_0_6bc16225f0" x="202.193506" y="568.676767" style="fill: #404688; stroke: #404688; stroke-width: 0.8"/>
</g>
<g clip-path="url(#p1002fd260f)">
<use href="#C1_0_6bc16225f0" x="207.191651" y="570.313883" style="fill: #3e4c8a; stroke: #3e4c8a; stroke-width: 0.8"/>
</g>
<g clip-path="url(#p1002fd260f)">
<use href="#C1_0_6bc16225f0" x="212.189796" y="571.991153" style="fill: #3c508b; stroke: #3c508b; stroke-width: 0.8"/>
</g>
<g clip-path="url(#p1002fd260f)">
<use href="#C1_0_6bc16225f0" x="217.187941" y="573.744832" style="fill: #39558c; stroke: #39558c; stroke-width: 0.8"/>
</g>
<g clip-path="url(#p1002fd260f)">
<use href="#C1_0_6bc16225f0" x="222.186085" y="575.5283" style="fill: #375a8c; stroke: #375a8c; stroke-width: 0.8"/>
</g>
<g clip-path="url(#p1002fd260f)">
<use href="#C1_0_6bc16225f0" x="227.18423" y="577.286659" style="fill: #355f8d; stroke: #355f8d; stroke-width: 0.8"/>
</g>
<g clip-path="url(#p1002fd260f)">
<use href="#C1_0_6bc16225f0" x="232.182375" y="578.912252" style="fill: #32648e; stroke: #32648e; stroke-width: 0.8"/>
</g>
<g clip-path="url(#p1002fd260f)">
<use href="#C1_0_6bc16225f0" x="237.180519" y="580.548048" style="fill: #30698e; stroke: #30698e; stroke-width: 0.8"/>
</g>
<g clip-path="url(#p1002fd260f)">
<use href="#C1_0_6bc16225f0" x="242.178664" y="582.421214" style="fill: #2e6d8e; stroke: #2e6d8e; stroke-width: 0.8"/>
</g>
<g clip-path="url(#p1002fd260f)">
<use href="#C1_0_6bc16225f0" x="247.176809" y="584.801564" style="fill: #2c718e; stroke: #2c718e; stroke-width: 0.8"/>
</g>
<g clip-path="url(#p1002fd260f)">
<use href="#C1_0_6bc16225f0" x="252.174954" y="587.780102" style="fill: #2a768e; stroke: #2a768e; stroke-width: 0.8"/>
</g>
<g clip-path="url(#p1002fd260f)">
<use href="#C1_0_6bc16225f0" x="257.173098" y="591.04216" style="fill: #287c8e; stroke: #287c8e; stroke-width: 0.8"/>
</g>
<g clip-path="url(#p1002fd260f)">
<use href="#C1_0_6bc16225f0" x="262.171243" y="594.648713" style="fill: #26828e; stroke: #26828e; stroke-width: 0.8"/>
</g>
<g clip-path="url(#p1002fd260f)">
<use href="#C1_0_6bc16225f0" x="267.169388" y="598.46092" style="fill: #23898e; stroke: #23898e; stroke-width: 0.8"/>
</g>
<g clip-path="url(#p1002fd260f)">
<use href="#C1_0_6bc16225f0" x="272.167532" y="602.148954" style="fill: #21918c; stroke: #21918c; stroke-width: 0.8"/>
</g>
<g clip-path="url(#p1002fd260f)">
<use href="#C1_0_6bc16225f0" x="277.165677" y="606.391442" style="fill: #1f988b; stroke: #1f988b; stroke-width: 0.8"/>
</g>
<g clip-path="url(#p1002fd260f)">
<use href="#C1_0_6bc16225f0" x="282.163822" y="611.910574" style="fill: #1fa088; stroke: #1fa088; stroke-width: 0.8"/>
</g>
<g clip-path="url(#p1002fd260f)">
<use href="#C1_0_6bc16225f0" x="287.161967" y="618.417111" style="fill: #23a983; stroke: #23a983; stroke-width: 0.8"/>
</g>
<g clip-path="url(#p1002fd260f)">
<use href="#C1_0_6bc16225f0" x="292.160111" y="626.192119" style="fill: #31b57b; stroke: #31b57b; stroke-width: 0.8"/>
</g>
<g clip-path="url(#p1002fd260f)">
<use href="#C1_0_6bc16225f0" x="297.158256" y="637.521583" style="fill: #50c46a; stroke: #50c46a; stroke-width: 0.8"/>
</g>
<g clip-path="url(#p1002fd260f)">
<use href="#C1_0_6bc16225f0" x="302.156401" y="653.470836" style="fill: #9dd93b; stroke: #9dd93b; stroke-width: 0.8"/>
</g>
<g clip-path="url(#p1002fd260f)">
<use href="#C1_0_6bc16225f0" x="307.154545" y="700.000052" style="fill: #fde725; stroke: #fde725; stroke-width: 0.8"/>
</g>
</g>
<g id="PathCollection_3">
<path d="M 59.329979 570.048477 
L 65.16093 570.048477 
M 62.245455 572.963953 
L 62.245455 567.133001 
" clip-path="url(#p1002fd260f)" style="fill: #440154; stroke: #440154; stroke-width: 1.3"/>
<path d="M 64.328123 570.568475 
L 70.159075 570.568475 
M 67.243599 573.483951 
L 67.243599 567.652999 
" clip-path="url(#p1002fd260f)" style="fill: #440154; stroke: #440154; stroke-width: 1.3"/>
<path d="M 69.326268 571.087402 
L 75.15722 571.087402 
M 72.241744 574.002878 
L 72.241744 568.171927 
" clip-path="url(#p1002fd260f)" style="fill: #440256; stroke: #440256; stroke-width: 1.3"/>
<path d="M 74.324413 571.605313 
L 80.155365 571.605313 
M 77.239889 574.520789 
L 77.239889 568.689837 
" clip-path="url(#p1002fd260f)" style="fill: #450457; stroke: #450457; stroke-width: 1.3"/>
<path d="M 79.322557 572.122261 
L 85.153509 572.122261 
M 82.238033 575.037737 
L 82.238033 569.206785 
" clip-path="url(#p1002fd260f)" style="fill: #450559; stroke: #450559; stroke-width: 1.3"/>
<path d="M 84.320702 572.638301 
L 90.151654 572.638301 
M 87.236178 575.553777 
L 87.236178 569.722825 
" clip-path="url(#p1002fd260f)" style="fill: #46075a; stroke: #46075a; stroke-width: 1.3"/>
<path d="M 89.318847 573.153486 
L 95.149799 573.153486 
M 92.234323 576.068961 
L 92.234323 570.23801 
" clip-path="url(#p1002fd260f)" style="fill: #46085c; stroke: #46085c; stroke-width: 1.3"/>
<path d="M 94.316992 573.66787 
L 100.147943 573.66787 
M 97.232468 576.583345 
L 97.232468 570.752394 
" clip-path="url(#p1002fd260f)" style="fill: #460a5d; stroke: #460a5d; stroke-width: 1.3"/>
<path d="M 99.315136 574.181507 
L 105.146088 574.181507 
M 102.230612 577.096983 
L 102.230612 571.266031 
" clip-path="url(#p1002fd260f)" style="fill: #460b5e; stroke: #460b5e; stroke-width: 1.3"/>
<path d="M 104.313281 574.694451 
L 110.144233 574.694451 
M 107.228757 577.609927 
L 107.228757 571.778975 
" clip-path="url(#p1002fd260f)" style="fill: #470d60; stroke: #470d60; stroke-width: 1.3"/>
<path d="M 109.311426 575.206757 
L 115.142378 575.206757 
M 112.226902 578.122233 
L 112.226902 572.291281 
" clip-path="url(#p1002fd260f)" style="fill: #470e61; stroke: #470e61; stroke-width: 1.3"/>
<path d="M 114.30957 575.718478 
L 120.140522 575.718478 
M 117.225046 578.633954 
L 117.225046 572.803002 
" clip-path="url(#p1002fd260f)" style="fill: #471164; stroke: #471164; stroke-width: 1.3"/>
<path d="M 119.307715 576.224754 
L 125.138667 576.224754 
M 122.223191 579.14023 
L 122.223191 573.309278 
" clip-path="url(#p1002fd260f)" style="fill: #471365; stroke: #471365; stroke-width: 1.3"/>
<path d="M 124.30586 576.705715 
L 130.136812 576.705715 
M 127.221336 579.621191 
L 127.221336 573.790239 
" clip-path="url(#p1002fd260f)" style="fill: #481467; stroke: #481467; stroke-width: 1.3"/>
<path d="M 129.304005 577.197458 
L 135.134956 577.197458 
M 132.219481 580.112934 
L 132.219481 574.281982 
" clip-path="url(#p1002fd260f)" style="fill: #481769; stroke: #481769; stroke-width: 1.3"/>
<path d="M 134.302149 577.745569 
L 140.133101 577.745569 
M 137.217625 580.661045 
L 137.217625 574.830093 
" clip-path="url(#p1002fd260f)" style="fill: #48186a; stroke: #48186a; stroke-width: 1.3"/>
<path d="M 139.300294 578.398012 
L 145.131246 578.398012 
M 142.21577 581.313488 
L 142.21577 575.482536 
" clip-path="url(#p1002fd260f)" style="fill: #481b6d; stroke: #481b6d; stroke-width: 1.3"/>
<path d="M 144.298439 579.141111 
L 150.129391 579.141111 
M 147.213915 582.056587 
L 147.213915 576.225635 
" clip-path="url(#p1002fd260f)" style="fill: #481c6e; stroke: #481c6e; stroke-width: 1.3"/>
<path d="M 149.296583 579.917778 
L 155.127535 579.917778 
M 152.212059 582.833254 
L 152.212059 577.002302 
" clip-path="url(#p1002fd260f)" style="fill: #481f70; stroke: #481f70; stroke-width: 1.3"/>
<path d="M 154.294728 580.676815 
L 160.12568 580.676815 
M 157.210204 583.592291 
L 157.210204 577.761339 
" clip-path="url(#p1002fd260f)" style="fill: #482173; stroke: #482173; stroke-width: 1.3"/>
<path d="M 159.292873 581.439699 
L 165.123825 581.439699 
M 162.208349 584.355175 
L 162.208349 578.524223 
" clip-path="url(#p1002fd260f)" style="fill: #482475; stroke: #482475; stroke-width: 1.3"/>
<path d="M 164.291018 582.208294 
L 170.121969 582.208294 
M 167.206494 585.12377 
L 167.206494 579.292818 
" clip-path="url(#p1002fd260f)" style="fill: #482677; stroke: #482677; stroke-width: 1.3"/>
<path d="M 169.289162 582.96986 
L 175.120114 582.96986 
M 172.204638 585.885336 
L 172.204638 580.054384 
" clip-path="url(#p1002fd260f)" style="fill: #482979; stroke: #482979; stroke-width: 1.3"/>
<path d="M 174.287307 583.714568 
L 180.118259 583.714568 
M 177.202783 586.630044 
L 177.202783 580.799093 
" clip-path="url(#p1002fd260f)" style="fill: #472d7b; stroke: #472d7b; stroke-width: 1.3"/>
<path d="M 179.285452 584.448602 
L 185.116404 584.448602 
M 182.200928 587.364078 
L 182.200928 581.533126 
" clip-path="url(#p1002fd260f)" style="fill: #46307e; stroke: #46307e; stroke-width: 1.3"/>
<path d="M 184.283596 585.183417 
L 190.114548 585.183417 
M 187.199072 588.098893 
L 187.199072 582.267941 
" clip-path="url(#p1002fd260f)" style="fill: #453581; stroke: #453581; stroke-width: 1.3"/>
<path d="M 189.281741 585.930429 
L 195.112693 585.930429 
M 192.197217 588.845905 
L 192.197217 583.014953 
" clip-path="url(#p1002fd260f)" style="fill: #443b84; stroke: #443b84; stroke-width: 1.3"/>
<path d="M 194.279886 586.693704 
L 200.110838 586.693704 
M 197.195362 589.60918 
L 197.195362 583.778228 
" clip-path="url(#p1002fd260f)" style="fill: #424186; stroke: #424186; stroke-width: 1.3"/>
<path d="M 199.278031 587.46227 
L 205.108982 587.46227 
M 202.193506 590.377746 
L 202.193506 584.546794 
" clip-path="url(#p1002fd260f)" style="fill: #404688; stroke: #404688; stroke-width: 1.3"/>
<path d="M 204.276175 588.223388 
L 210.107127 588.223388 
M 207.191651 591.138864 
L 207.191651 585.307912 
" clip-path="url(#p1002fd260f)" style="fill: #3e4c8a; stroke: #3e4c8a; stroke-width: 1.3"/>
<path d="M 209.27432 588.930801 
L 215.105272 588.930801 
M 212.189796 591.846277 
L 212.189796 586.015325 
" clip-path="url(#p1002fd260f)" style="fill: #3c508b; stroke: #3c508b; stroke-width: 1.3"/>
<path d="M 214.272465 589.57553 
L 220.103417 589.57553 
M 217.187941 592.491006 
L 217.187941 586.660054 
" clip-path="url(#p1002fd260f)" style="fill: #39558c; stroke: #39558c; stroke-width: 1.3"/>
<path d="M 219.270609 590.296525 
L 225.101561 590.296525 
M 222.186085 593.212001 
L 222.186085 587.381049 
" clip-path="url(#p1002fd260f)" style="fill: #375a8c; stroke: #375a8c; stroke-width: 1.3"/>
<path d="M 224.268754 591.24713 
L 230.099706 591.24713 
M 227.18423 594.162606 
L 227.18423 588.331654 
" clip-path="url(#p1002fd260f)" style="fill: #355f8d; stroke: #355f8d; stroke-width: 1.3"/>
<path d="M 229.266899 592.709669 
L 235.097851 592.709669 
M 232.182375 595.625145 
L 232.182375 589.794193 
" clip-path="url(#p1002fd260f)" style="fill: #32648e; stroke: #32648e; stroke-width: 1.3"/>
<path d="M 234.265044 594.500955 
L 240.095995 594.500955 
M 237.180519 597.416431 
L 237.180519 591.585479 
" clip-path="url(#p1002fd260f)" style="fill: #30698e; stroke: #30698e; stroke-width: 1.3"/>
<path d="M 239.263188 596.272369 
L 245.09414 596.272369 
M 242.178664 599.187845 
L 242.178664 593.356893 
" clip-path="url(#p1002fd260f)" style="fill: #2e6d8e; stroke: #2e6d8e; stroke-width: 1.3"/>
<path d="M 244.261333 597.960207 
L 250.092285 597.960207 
M 247.176809 600.875683 
L 247.176809 595.044731 
" clip-path="url(#p1002fd260f)" style="fill: #2c718e; stroke: #2c718e; stroke-width: 1.3"/>
<path d="M 249.259478 599.63525 
L 255.09043 599.63525 
M 252.174954 602.550726 
L 252.174954 596.719774 
" clip-path="url(#p1002fd260f)" style="fill: #2a768e; stroke: #2a768e; stroke-width: 1.3"/>
<path d="M 254.257622 601.159431 
L 260.088574 601.159431 
M 257.173098 604.074907 
L 257.173098 598.243955 
" clip-path="url(#p1002fd260f)" style="fill: #287c8e; stroke: #287c8e; stroke-width: 1.3"/>
<path d="M 259.255767 602.90557 
L 265.086719 602.90557 
M 262.171243 605.821046 
L 262.171243 599.990094 
" clip-path="url(#p1002fd260f)" style="fill: #26828e; stroke: #26828e; stroke-width: 1.3"/>
<path d="M 264.253912 605.227304 
L 270.084864 605.227304 
M 267.169388 608.14278 
L 267.169388 602.311828 
" clip-path="url(#p1002fd260f)" style="fill: #23898e; stroke: #23898e; stroke-width: 1.3"/>
<path d="M 269.252057 608.162132 
L 275.083008 608.162132 
M 272.167532 611.077608 
L 272.167532 605.246656 
" clip-path="url(#p1002fd260f)" style="fill: #21918c; stroke: #21918c; stroke-width: 1.3"/>
<path d="M 274.250201 612.074498 
L 280.081153 612.074498 
M 277.165677 614.989974 
L 277.165677 609.159022 
" clip-path="url(#p1002fd260f)" style="fill: #1f988b; stroke: #1f988b; stroke-width: 1.3"/>
<path d="M 279.248346 616.642849 
L 285.079298 616.642849 
M 282.163822 619.558325 
L 282.163822 613.727373 
" clip-path="url(#p1002fd260f)" style="fill: #1fa088; stroke: #1fa088; stroke-width: 1.3"/>
<path d="M 284.246491 621.479167 
L 290.077443 621.479167 
M 287.161967 624.394642 
L 287.161967 618.563691 
" clip-path="url(#p1002fd260f)" style="fill: #23a983; stroke: #23a983; stroke-width: 1.3"/>
<path d="M 289.244635 627.757219 
L 295.075587 627.757219 
M 292.160111 630.672695 
L 292.160111 624.841743 
" clip-path="url(#p1002fd260f)" style="fill: #31b57b; stroke: #31b57b; stroke-width: 1.3"/>
<path d="M 294.24278 637.937548 
L 300.073732 637.937548 
M 297.158256 640.853024 
L 297.158256 635.022072 
" clip-path="url(#p1002fd260f)" style="fill: #50c46a; stroke: #50c46a; stroke-width: 1.3"/>
<path d="M 299.240925 653.490002 
L 305.071877 653.490002 
M 302.156401 656.405478 
L 302.156401 650.574526 
" clip-path="url(#p1002fd260f)" style="fill: #9dd93b; stroke: #9dd93b; stroke-width: 1.3"/>
<path d="M 304.23907 705.000112 
L 310.070021 705.000112 
M 307.154545 707.915588 
L 307.154545 702.084636 
" clip-path="url(#p1002fd260f)" style="fill: #fde725; stroke: #fde725; stroke-width: 1.3"/>
</g>
<g id="PathCollection_4">
<path d="M 59.506842 594.578355 
L 64.984067 589.10113 
M 59.506842 589.10113 
L 64.984067 594.578355 
" clip-path="url(#p1002fd260f)" style="fill: #440154; stroke: #440154; stroke-width: 1.2"/>
<path d="M 64.504986 595.00323 
L 69.982212 589.526004 
M 64.504986 589.526004 
L 69.982212 595.00323 
" clip-path="url(#p1002fd260f)" style="fill: #440154; stroke: #440154; stroke-width: 1.2"/>
<path d="M 69.503131 595.424331 
L 74.980357 589.947105 
M 69.503131 589.947105 
L 74.980357 595.424331 
" clip-path="url(#p1002fd260f)" style="fill: #440256; stroke: #440256; stroke-width: 1.2"/>
<path d="M 74.501276 595.841568 
L 79.978501 590.364343 
M 74.501276 590.364343 
L 79.978501 595.841568 
" clip-path="url(#p1002fd260f)" style="fill: #450457; stroke: #450457; stroke-width: 1.2"/>
<path d="M 79.499421 596.254852 
L 84.976646 590.777626 
M 79.499421 590.777626 
L 84.976646 596.254852 
" clip-path="url(#p1002fd260f)" style="fill: #450559; stroke: #450559; stroke-width: 1.2"/>
<path d="M 84.497565 596.664091 
L 89.974791 591.186866 
M 84.497565 591.186866 
L 89.974791 596.664091 
" clip-path="url(#p1002fd260f)" style="fill: #46075a; stroke: #46075a; stroke-width: 1.2"/>
<path d="M 89.49571 597.069196 
L 94.972936 591.591971 
M 89.49571 591.591971 
L 94.972936 597.069196 
" clip-path="url(#p1002fd260f)" style="fill: #46085c; stroke: #46085c; stroke-width: 1.2"/>
<path d="M 94.493855 597.470077 
L 99.97108 591.992851 
M 94.493855 591.992851 
L 99.97108 597.470077 
" clip-path="url(#p1002fd260f)" style="fill: #460a5d; stroke: #460a5d; stroke-width: 1.2"/>
<path d="M 99.491999 597.866643 
L 104.969225 592.389417 
M 99.491999 592.389417 
L 104.969225 597.866643 
" clip-path="url(#p1002fd260f)" style="fill: #460b5e; stroke: #460b5e; stroke-width: 1.2"/>
<path d="M 104.490144 598.258804 
L 109.96737 592.781578 
M 104.490144 592.781578 
L 109.96737 598.258804 
" clip-path="url(#p1002fd260f)" style="fill: #470d60; stroke: #470d60; stroke-width: 1.2"/>
<path d="M 109.488289 598.64647 
L 114.965514 593.169244 
M 109.488289 593.169244 
L 114.965514 598.64647 
" clip-path="url(#p1002fd260f)" style="fill: #470e61; stroke: #470e61; stroke-width: 1.2"/>
<path d="M 114.486434 599.029551 
L 119.963659 593.552325 
M 114.486434 593.552325 
L 119.963659 599.029551 
" clip-path="url(#p1002fd260f)" style="fill: #471164; stroke: #471164; stroke-width: 1.2"/>
<path d="M 119.484578 599.405356 
L 124.961804 593.92813 
M 119.484578 593.92813 
L 124.961804 599.405356 
" clip-path="url(#p1002fd260f)" style="fill: #471365; stroke: #471365; stroke-width: 1.2"/>
<path d="M 124.482723 599.757148 
L 129.959949 594.279922 
M 124.482723 594.279922 
L 129.959949 599.757148 
" clip-path="url(#p1002fd260f)" style="fill: #481467; stroke: #481467; stroke-width: 1.2"/>
<path d="M 129.480868 600.087431 
L 134.958093 594.610206 
M 129.480868 594.610206 
L 134.958093 600.087431 
" clip-path="url(#p1002fd260f)" style="fill: #481769; stroke: #481769; stroke-width: 1.2"/>
<path d="M 134.479012 600.402863 
L 139.956238 594.925637 
M 134.479012 594.925637 
L 139.956238 600.402863 
" clip-path="url(#p1002fd260f)" style="fill: #48186a; stroke: #48186a; stroke-width: 1.2"/>
<path d="M 139.477157 600.7101 
L 144.954383 595.232874 
M 139.477157 595.232874 
L 144.954383 600.7101 
" clip-path="url(#p1002fd260f)" style="fill: #481b6d; stroke: #481b6d; stroke-width: 1.2"/>
<path d="M 144.475302 601.0158 
L 149.952527 595.538574 
M 144.475302 595.538574 
L 149.952527 601.0158 
" clip-path="url(#p1002fd260f)" style="fill: #481c6e; stroke: #481c6e; stroke-width: 1.2"/>
<path d="M 149.473447 601.32662 
L 154.950672 595.849394 
M 149.473447 595.849394 
L 154.950672 601.32662 
" clip-path="url(#p1002fd260f)" style="fill: #481f70; stroke: #481f70; stroke-width: 1.2"/>
<path d="M 154.471591 601.649216 
L 159.948817 596.171991 
M 154.471591 596.171991 
L 159.948817 601.649216 
" clip-path="url(#p1002fd260f)" style="fill: #482173; stroke: #482173; stroke-width: 1.2"/>
<path d="M 159.469736 601.990247 
L 164.946962 596.513022 
M 159.469736 596.513022 
L 164.946962 601.990247 
" clip-path="url(#p1002fd260f)" style="fill: #482475; stroke: #482475; stroke-width: 1.2"/>
<path d="M 164.467881 602.35637 
L 169.945106 596.879144 
M 164.467881 596.879144 
L 169.945106 602.35637 
" clip-path="url(#p1002fd260f)" style="fill: #482677; stroke: #482677; stroke-width: 1.2"/>
<path d="M 169.466025 602.754241 
L 174.943251 597.277015 
M 169.466025 597.277015 
L 174.943251 602.754241 
" clip-path="url(#p1002fd260f)" style="fill: #482979; stroke: #482979; stroke-width: 1.2"/>
<path d="M 174.46417 603.190517 
L 179.941396 597.713292 
M 174.46417 597.713292 
L 179.941396 603.190517 
" clip-path="url(#p1002fd260f)" style="fill: #472d7b; stroke: #472d7b; stroke-width: 1.2"/>
<path d="M 179.462315 603.672063 
L 184.93954 598.194838 
M 179.462315 598.194838 
L 184.93954 603.672063 
" clip-path="url(#p1002fd260f)" style="fill: #46307e; stroke: #46307e; stroke-width: 1.2"/>
<path d="M 184.46046 604.24915 
L 189.937685 598.771924 
M 184.46046 598.771924 
L 189.937685 604.24915 
" clip-path="url(#p1002fd260f)" style="fill: #453581; stroke: #453581; stroke-width: 1.2"/>
<path d="M 189.458604 604.937672 
L 194.93583 599.460446 
M 189.458604 599.460446 
L 194.93583 604.937672 
" clip-path="url(#p1002fd260f)" style="fill: #443b84; stroke: #443b84; stroke-width: 1.2"/>
<path d="M 194.456749 605.709915 
L 199.933975 600.23269 
M 194.456749 600.23269 
L 199.933975 605.709915 
" clip-path="url(#p1002fd260f)" style="fill: #424186; stroke: #424186; stroke-width: 1.2"/>
<path d="M 199.454894 606.538169 
L 204.932119 601.060943 
M 199.454894 601.060943 
L 204.932119 606.538169 
" clip-path="url(#p1002fd260f)" style="fill: #404688; stroke: #404688; stroke-width: 1.2"/>
<path d="M 204.453038 607.394719 
L 209.930264 601.917493 
M 204.453038 601.917493 
L 209.930264 607.394719 
" clip-path="url(#p1002fd260f)" style="fill: #3e4c8a; stroke: #3e4c8a; stroke-width: 1.2"/>
<path d="M 209.451183 608.251852 
L 214.928409 602.774627 
M 209.451183 602.774627 
L 214.928409 608.251852 
" clip-path="url(#p1002fd260f)" style="fill: #3c508b; stroke: #3c508b; stroke-width: 1.2"/>
<path d="M 214.449328 609.081857 
L 219.926553 603.604631 
M 214.449328 603.604631 
L 219.926553 609.081857 
" clip-path="url(#p1002fd260f)" style="fill: #39558c; stroke: #39558c; stroke-width: 1.2"/>
<path d="M 219.447473 609.867877 
L 224.924698 604.390652 
M 219.447473 604.390652 
L 224.924698 609.867877 
" clip-path="url(#p1002fd260f)" style="fill: #375a8c; stroke: #375a8c; stroke-width: 1.2"/>
<path d="M 224.445617 610.637314 
L 229.922843 605.160088 
M 224.445617 605.160088 
L 229.922843 610.637314 
" clip-path="url(#p1002fd260f)" style="fill: #355f8d; stroke: #355f8d; stroke-width: 1.2"/>
<path d="M 229.443762 611.423707 
L 234.920988 605.946482 
M 229.443762 605.946482 
L 234.920988 611.423707 
" clip-path="url(#p1002fd260f)" style="fill: #32648e; stroke: #32648e; stroke-width: 1.2"/>
<path d="M 234.441907 612.26035 
L 239.919132 606.783124 
M 234.441907 606.783124 
L 239.919132 612.26035 
" clip-path="url(#p1002fd260f)" style="fill: #30698e; stroke: #30698e; stroke-width: 1.2"/>
<path d="M 239.440051 613.180621 
L 244.917277 607.703395 
M 239.440051 607.703395 
L 244.917277 613.180621 
" clip-path="url(#p1002fd260f)" style="fill: #2e6d8e; stroke: #2e6d8e; stroke-width: 1.2"/>
<path d="M 244.438196 614.245925 
L 249.915422 608.768699 
M 244.438196 608.768699 
L 249.915422 614.245925 
" clip-path="url(#p1002fd260f)" style="fill: #2c718e; stroke: #2c718e; stroke-width: 1.2"/>
<path d="M 249.436341 615.441416 
L 254.913566 609.964191 
M 249.436341 609.964191 
L 254.913566 615.441416 
" clip-path="url(#p1002fd260f)" style="fill: #2a768e; stroke: #2a768e; stroke-width: 1.2"/>
<path d="M 254.434486 616.783506 
L 259.911711 611.306281 
M 254.434486 611.306281 
L 259.911711 616.783506 
" clip-path="url(#p1002fd260f)" style="fill: #287c8e; stroke: #287c8e; stroke-width: 1.2"/>
<path d="M 259.43263 618.176393 
L 264.909856 612.699167 
M 259.43263 612.699167 
L 264.909856 618.176393 
" clip-path="url(#p1002fd260f)" style="fill: #26828e; stroke: #26828e; stroke-width: 1.2"/>
<path d="M 264.430775 619.427458 
L 269.908001 613.950232 
M 264.430775 613.950232 
L 269.908001 619.427458 
" clip-path="url(#p1002fd260f)" style="fill: #23898e; stroke: #23898e; stroke-width: 1.2"/>
<path d="M 269.42892 621.013613 
L 274.906145 615.536388 
M 269.42892 615.536388 
L 274.906145 621.013613 
" clip-path="url(#p1002fd260f)" style="fill: #21918c; stroke: #21918c; stroke-width: 1.2"/>
<path d="M 274.427064 623.575455 
L 279.90429 618.098229 
M 274.427064 618.098229 
L 279.90429 623.575455 
" clip-path="url(#p1002fd260f)" style="fill: #1f988b; stroke: #1f988b; stroke-width: 1.2"/>
<path d="M 279.425209 626.872648 
L 284.902435 621.395422 
M 279.425209 621.395422 
L 284.902435 626.872648 
" clip-path="url(#p1002fd260f)" style="fill: #1fa088; stroke: #1fa088; stroke-width: 1.2"/>
<path d="M 284.423354 630.866664 
L 289.900579 625.389439 
M 284.423354 625.389439 
L 289.900579 630.866664 
" clip-path="url(#p1002fd260f)" style="fill: #23a983; stroke: #23a983; stroke-width: 1.2"/>
<path d="M 289.421499 636.15861 
L 294.898724 630.681384 
M 289.421499 630.681384 
L 294.898724 636.15861 
" clip-path="url(#p1002fd260f)" style="fill: #31b57b; stroke: #31b57b; stroke-width: 1.2"/>
<path d="M 294.419643 644.555843 
L 299.896869 639.078618 
M 294.419643 639.078618 
L 299.896869 644.555843 
" clip-path="url(#p1002fd260f)" style="fill: #50c46a; stroke: #50c46a; stroke-width: 1.2"/>
<path d="M 299.417788 659.134538 
L 304.895014 653.657313 
M 299.417788 653.657313 
L 304.895014 659.134538 
" clip-path="url(#p1002fd260f)" style="fill: #9dd93b; stroke: #9dd93b; stroke-width: 1.2"/>
<path d="M 304.415933 707.738725 
L 309.893158 702.261499 
M 304.415933 702.261499 
L 309.893158 707.738725 
" clip-path="url(#p1002fd260f)" style="fill: #fde725; stroke: #fde725; stroke-width: 1.2"/>
</g>
<g id="matplotlib.axis_9">
<g id="xtick_23">
<g id="line2d_77">
<g>
<use href="#m1deace6daf" x="52.040909" y="695.7" style="stroke: #000000; stroke-width: 0.68"/>
</g>
</g>
<g id="text_71">
<text style="font-size: 15.51px; font-family: 'Liberation Sans', sans-serif; text-anchor: middle" x="52.040909" y="713.344703" transform="rotate(-0 52.040909 713.344703)" textLength="45.05" lengthAdjust="spacingAndGlyphs">−12.5</text>
</g>
</g>
<g id="xtick_24">
<g id="line2d_78">
<g>
<use href="#m1deace6daf" x="103.063636" y="695.7" style="stroke: #000000; stroke-width: 0.68"/>
</g>
</g>
<g id="text_72">
<text style="font-size: 15.51px; font-family: 'Liberation Sans', sans-serif; text-anchor: middle" x="103.063636" y="713.344703" transform="rotate(-0 103.063636 713.344703)" textLength="45.05" lengthAdjust="spacingAndGlyphs">−10.0</text>
</g>
</g>
<g id="xtick_25">
<g id="line2d_79">
<g>
<use href="#m1deace6daf" x="154.086364" y="695.7" style="stroke: #000000; stroke-width: 0.68"/>
</g>
</g>
<g id="text_73">
<text style="font-size: 15.51px; font-family: 'Liberation Sans', sans-serif; text-anchor: middle" x="154.086364" y="713.344703" transform="rotate(-0 154.086364 713.344703)" textLength="35.70" lengthAdjust="spacingAndGlyphs">−7.5</text>
</g>
</g>
<g id="xtick_26">
<g id="line2d_80">
<g>
<use href="#m1deace6daf" x="205.109091" y="695.7" style="stroke: #000000; stroke-width: 0.68"/>
</g>
</g>
<g id="text_74">
<text style="font-size: 15.51px; font-family: 'Liberation Sans', sans-serif; text-anchor: middle" x="205.109091" y="713.344703" transform="rotate(-0 205.109091 713.344703)" textLength="35.70" lengthAdjust="spacingAndGlyphs">−5.0</text>
</g>
</g>
<g id="xtick_27">
<g id="line2d_81">
<g>
<use href="#m1deace6daf" x="256.131818" y="695.7" style="stroke: #000000; stroke-width: 0.68"/>
</g>
</g>
<g id="text_75">
<text style="font-size: 15.51px; font-family: 'Liberation Sans', sans-serif; text-anchor: middle" x="256.131818" y="713.344703" transform="rotate(-0 256.131818 713.344703)" textLength="35.70" lengthAdjust="spacingAndGlyphs">−2.5</text>
</g>
</g>
<g id="xtick_28">
<g id="line2d_82">
<g>
<use href="#m1deace6daf" x="307.154545" y="695.7" style="stroke: #000000; stroke-width: 0.68"/>
</g>
</g>
<g id="text_76">
<text style="font-size: 15.51px; font-family: 'Liberation Sans', sans-serif; text-anchor: middle" x="307.154545" y="713.344703" transform="rotate(-0 307.154545 713.344703)" textLength="23.38" lengthAdjust="spacingAndGlyphs">0.0</text>
</g>
</g>
<g id="text_77">
<text style="font-size: 15.29px; font-family: 'Liberation Sans', sans-serif; text-anchor: middle" x="184.7" y="730.971547" transform="rotate(-0 184.7 730.971547)" textLength="57.01" lengthAdjust="spacingAndGlyphs">time (s)</text>
</g>
</g>
<g id="matplotlib.axis_10">
<g id="ytick_21">
<g id="line2d_83">
<g>
<use href="#mafa4a98656" x="50" y="692.459311" style="stroke: #000000; stroke-width: 0.68"/>
</g>
</g>
<g id="text_78">
<g transform="translate(17.653 698.044162)">
<text x="0" y="-0.601562" style="font-size: 15.51px; font-family: 'Liberation Sans', sans-serif" textLength="9.35" lengthAdjust="spacingAndGlyphs">1</text>
<text x="9.3844" y="-0.601562" style="font-size: 15.51px; font-family: 'Liberation Sans', sans-serif" textLength="9.35" lengthAdjust="spacingAndGlyphs">0</text>
<text x="18.9124" y="-6.34375" style="font-size: 10.86px; font-family: 'Liberation Sans', sans-serif" textLength="6.55" lengthAdjust="spacingAndGlyphs">1</text>
</g>
</g>
</g>
<g id="ytick_22">
<g id="line2d_84">
<g>
<use href="#mafa4a98656" x="50" y="644.758735" style="stroke: #000000; stroke-width: 0.68"/>
</g>
</g>
<g id="text_79">
<g transform="translate(17.653 650.343587)">
<text x="0" y="-0.459375" style="font-size: 15.51px; font-family: 'Liberation Sans', sans-serif" textLength="9.35" lengthAdjust="spacingAndGlyphs">1</text>
<text x="9.3844" y="-0.459375" style="font-size: 15.51px; font-family: 'Liberation Sans', sans-serif" textLength="9.35" lengthAdjust="spacingAndGlyphs">0</text>
<text x="18.9124" y="-6.20156" style="font-size: 10.86px; font-family: 'Liberation Sans', sans-serif" textLength="6.55" lengthAdjust="spacingAndGlyphs">2</text>
</g>
</g>
</g>
<g id="ytick_23">
<g id="line2d_85">
<g>
<use href="#mafa4a98656" x="50" y="597.058159" style="stroke: #000000; stroke-width: 0.68"/>
</g>
</g>
<g id="text_80">
<g transform="translate(17.653 602.643011)">
<text x="0" y="-0.459375" style="font-size: 15.51px; font-family: 'Liberation Sans', sans-serif" textLength="9.35" lengthAdjust="spacingAndGlyphs">1</text>
<text x="9.3844" y="-0.459375" style="font-size: 15.51px; font-family: 'Liberation Sans', sans-serif" textLength="9.35" lengthAdjust="spacingAndGlyphs">0</text>
<text x="18.9124" y="-6.20156" style="font-size: 10.86px; font-family: 'Liberation Sans', sans-serif" textLength="6.55" lengthAdjust="spacingAndGlyphs">3</text>
</g>
</g>
</g>
<g id="ytick_24">
<g id="line2d_86">
<g>
<use href="#mafa4a98656" x="50" y="549.357583" style="stroke: #000000; stroke-width: 0.68"/>
</g>
</g>
<g id="text_81">
<g transform="translate(17.653 554.942435)">
<text x="0" y="-0.601562" style="font-size: 15.51px; font-family: 'Liberation Sans', sans-serif" textLength="9.35" lengthAdjust="spacingAndGlyphs">1</text>
<text x="9.3844" y="-0.601562" style="font-size: 15.51px; font-family: 'Liberation Sans', sans-serif" textLength="9.35" lengthAdjust="spacingAndGlyphs">0</text>
<text x="18.9124" y="-6.34375" style="font-size: 10.86px; font-family: 'Liberation Sans', sans-serif" textLength="6.55" lengthAdjust="spacingAndGlyphs">4</text>
</g>
</g>
</g>
<g id="ytick_25">
<g id="line2d_87">
<defs>
<path id="m9e1359d509" d="M 0 0 
L -1.7 0 
" style="stroke: #000000; stroke-width: 0.51"/>
</defs>
<g>
<use href="#m9e1359d509" x="50" y="694.64197" style="stroke: #000000; stroke-width: 0.51"/>
</g>
</g>
</g>
<g id="ytick_26">
<g id="line2d_88">
<g>
<use href="#m9e1359d509" x="50" y="678.100007" style="stroke: #000000; stroke-width: 0.51"/>
</g>
</g>
</g>
<g id="ytick_27">
<g id="line2d_89">
<g>
<use href="#m9e1359d509" x="50" y="669.700352" style="stroke: #000000; stroke-width: 0.51"/>
</g>
</g>
</g>
<g id="ytick_28">
<g id="line2d_90">
<g>
<use href="#m9e1359d509" x="50" y="663.740703" style="stroke: #000000; stroke-width: 0.51"/>
</g>
</g>
</g>
<g id="ytick_29">
<g id="line2d_91">
<g>
<use href="#m9e1359d509" x="50" y="659.118039" style="stroke: #000000; stroke-width: 0.51"/>
</g>
</g>
</g>
<g id="ytick_30">
<g id="line2d_92">
<g>
<use href="#m9e1359d509" x="50" y="655.341048" style="stroke: #000000; stroke-width: 0.51"/>
</g>
</g>
</g>
<g id="ytick_31">
<g id="line2d_93">
<g>
<use href="#m9e1359d509" x="50" y="652.147648" style="stroke: #000000; stroke-width: 0.51"/>
</g>
</g>
</g>
<g id="ytick_32">
<g id="line2d_94">
<g>
<use href="#m9e1359d509" x="50" y="649.381399" style="stroke: #000000; stroke-width: 0.51"/>
</g>
</g>
</g>
<g id="ytick_33">
<g id="line2d_95">
<g>
<use href="#m9e1359d509" x="50" y="646.941394" style="stroke: #000000; stroke-width: 0.51"/>
</g>
</g>
</g>
<g id="ytick_34">
<g id="line2d_96">
<g>
<use href="#m9e1359d509" x="50" y="630.399431" style="stroke: #000000; stroke-width: 0.51"/>
</g>
</g>
</g>
<g id="ytick_35">
<g id="line2d_97">
<g>
<use href="#m9e1359d509" x="50" y="621.999777" style="stroke: #000000; stroke-width: 0.51"/>
</g>
</g>
</g>
<g id="ytick_36">
<g id="line2d_98">
<g>
<use href="#m9e1359d509" x="50" y="616.040127" style="stroke: #000000; stroke-width: 0.51"/>
</g>
</g>
</g>
<g id="ytick_37">
<g id="line2d_99">
<g>
<use href="#m9e1359d509" x="50" y="611.417463" style="stroke: #000000; stroke-width: 0.51"/>
</g>
</g>
</g>
<g id="ytick_38">
<g id="line2d_100">
<g>
<use href="#m9e1359d509" x="50" y="607.640472" style="stroke: #000000; stroke-width: 0.51"/>
</g>
</g>
</g>
<g id="ytick_39">
<g id="line2d_101">
<g>
<use href="#m9e1359d509" x="50" y="604.447072" style="stroke: #000000; stroke-width: 0.51"/>
</g>
</g>
</g>
<g id="ytick_40">
<g id="line2d_102">
<g>
<use href="#m9e1359d509" x="50" y="601.680823" style="stroke: #000000; stroke-width: 0.51"/>
</g>
</g>
</g>
<g id="ytick_41">
<g id="line2d_103">
<g>
<use href="#m9e1359d509" x="50" y="599.240818" style="stroke: #000000; stroke-width: 0.51"/>
</g>
</g>
</g>
<g id="ytick_42">
<g id="line2d_104">
<g>
<use href="#m9e1359d509" x="50" y="582.698855" style="stroke: #000000; stroke-width: 0.51"/>
</g>
</g>
</g>
<g id="ytick_43">
<g id="line2d_105">
<g>
<use href="#m9e1359d509" x="50" y="574.299201" style="stroke: #000000; stroke-width: 0.51"/>
</g>
</g>
</g>
<g id="ytick_44">
<g id="line2d_106">
<g>
<use href="#m9e1359d509" x="50" y="568.339551" style="stroke: #000000; stroke-width: 0.51"/>
</g>
</g>
</g>
<g id="ytick_45">
<g id="line2d_107">
<g>
<use href="#m9e1359d509" x="50" y="563.716888" style="stroke: #000000; stroke-width: 0.51"/>
</g>
</g>
</g>
<g id="ytick_46">
<g id="line2d_108">
<g>
<use href="#m9e1359d509" x="50" y="559.939897" style="stroke: #000000; stroke-width: 0.51"/>
</g>
</g>
</g>
<g id="ytick_47">
<g id="line2d_109">
<g>
<use href="#m9e1359d509" x="50" y="556.746496" style="stroke: #000000; stroke-width: 0.51"/>
</g>
</g>
</g>
<g id="ytick_48">
<g id="line2d_110">
<g>
<use href="#m9e1359d509" x="50" y="553.980247" style="stroke: #000000; stroke-width: 0.51"/>
</g>
</g>
</g>
<g id="ytick_49">
<g id="line2d_111">
<g>
<use href="#m9e1359d509" x="50" y="551.540242" style="stroke: #000000; stroke-width: 0.51"/>
</g>
</g>
</g>
<g id="ytick_50">
<g id="line2d_112">
<g>
<use href="#m9e1359d509" x="50" y="534.998279" style="stroke: #000000; stroke-width: 0.51"/>
</g>
</g>
</g>
<g id="ytick_51">
<g id="line2d_113">
<g>
<use href="#m9e1359d509" x="50" y="526.598625" style="stroke: #000000; stroke-width: 0.51"/>
</g>
</g>
</g>
<g id="ytick_52">
<g id="line2d_114">
<g>
<use href="#m9e1359d509" x="50" y="520.638975" style="stroke: #000000; stroke-width: 0.51"/>
</g>
</g>
</g>
<g id="text_82">
<text style="font-size: 15.29px; font-family: 'Liberation Sans', sans-serif; text-anchor: middle" x="11.195859" y="607.85" transform="rotate(-90 11.195859 607.85)" textLength="127.31" lengthAdjust="spacingAndGlyphs">sky area (sq deg)</text>
</g>
</g>
<g id="patch_27">
<path d="M 50 695.7 
L 50 520 
" style="fill: none; stroke: #000000; stroke-width: 0.68; stroke-linejoin: miter; stroke-linecap: square"/>
</g>
<g id="patch_28">
<path d="M 319.4 695.7 
L 319.4 520 
" style="fill: none; stroke: #000000; stroke-width: 0.68; stroke-linejoin: miter; stroke-linecap: square"/>
</g>
<g id="patch_29">
<path d="M 50 695.7 
L 319.4 695.7 
" style="fill: none; stroke: #000000; stroke-width: 0.68; stroke-linejoin: miter; stroke-linecap: square"/>
</g>
<g id="patch_30">
<path d="M 50 520 
L 319.4 520 
" style="fill: none; stroke: #000000; stroke-width: 0.68; stroke-linejoin: miter; stroke-linecap: square"/>
</g>
<g id="text_83">
<g transform="translate(82.976 515.7)">
<text x="0" y="-0.859375" style="font-size: 15.29px; font-family: 'Liberation Sans', sans-serif" textLength="14.32" lengthAdjust="spacingAndGlyphs">m</text>
<text x="26.1797" y="-0.859375" style="font-size: 15.51px; font-family: 'Liberation Sans', sans-serif" textLength="12.32" lengthAdjust="spacingAndGlyphs">=</text>
<text x="43.2272" y="-0.859375" style="font-size: 15.51px; font-family: 'Liberation Sans', sans-serif" textLength="9.35" lengthAdjust="spacingAndGlyphs">5</text>
<text x="52.6116" y="-0.859375" style="font-size: 15.51px; font-family: 'Liberation Sans', sans-serif" textLength="4.67" lengthAdjust="spacingAndGlyphs">.</text>
<text x="57.3002" y="-0.859375" style="font-size: 15.51px; font-family: 'Liberation Sans', sans-serif" textLength="9.35" lengthAdjust="spacingAndGlyphs">0</text>
<text x="71.3732" y="-0.859375" style="font-size: 15.51px; font-family: 'Liberation Sans', sans-serif" textLength="12.68" lengthAdjust="spacingAndGlyphs">M</text>
<text x="97.3274" y="-0.859375" style="font-size: 15.51px; font-family: 'Liberation Sans', sans-serif" textLength="4.67" lengthAdjust="spacingAndGlyphs">,</text>
<text x="106.705" y="-0.859375" style="font-size: 15.29px; font-family: 'Liberation Sans', sans-serif" textLength="14.32" lengthAdjust="spacingAndGlyphs">m</text>
<text x="132.884" y="-0.859375" style="font-size: 15.51px; font-family: 'Liberation Sans', sans-serif" textLength="12.32" lengthAdjust="spacingAndGlyphs">=</text>
<text x="149.932" y="-0.859375" style="font-size: 15.51px; font-family: 'Liberation Sans', sans-serif" textLength="9.35" lengthAdjust="spacingAndGlyphs">1</text>
<text x="159.316" y="-0.859375" style="font-size: 15.51px; font-family: 'Liberation Sans', sans-serif" textLength="4.67" lengthAdjust="spacingAndGlyphs">.</text>
<text x="164.005" y="-0.859375" style="font-size: 15.51px; font-family: 'Liberation Sans', sans-serif" textLength="9.35" lengthAdjust="spacingAndGlyphs">4</text>
<text x="178.078" y="-0.859375" style="font-size: 15.51px; font-family: 'Liberation Sans', sans-serif" textLength="12.68" lengthAdjust="spacingAndGlyphs">M</text>
<text x="14.5118" y="1.60156" style="font-size: 10.86px; font-family: 'Liberation Sans', sans-serif" textLength="6.55" lengthAdjust="spacingAndGlyphs">1</text>
<text x="121.216" y="1.60156" style="font-size: 10.86px; font-family: 'Liberation Sans', sans-serif" textLength="6.55" lengthAdjust="spacingAndGlyphs">2</text>
<circle cx="90.57" cy="-2.15" r="3.40" fill="none" stroke="#000" stroke-width="0.87"/><circle cx="90.57" cy="-2.15" r="0.72" fill="#000"/><circle cx="197.27" cy="-2.15" r="3.40" fill="none" stroke="#000" stroke-width="0.87"/><circle cx="197.27" cy="-2.15" r="0.72" fill="#000"/>
</g>
</g>
<g id="legend_5">
<g id="patch_31">
<path d="M 59.065 689.225 
L 139.919539 689.225 
Q 142.509539 689.225 142.509539 686.635 
L 142.509539 611.897312 
Q 142.509539 609.307312 139.919539 609.307312 
L 59.065 609.307312 
Q 56.475 609.307312 56.475 611.897312 
L 56.475 686.635 
Q 56.475 689.225 59.065 689.225 
z
" style="fill: #ffffff; opacity: 0.8; stroke: #cccccc; stroke-width: 0.85; stroke-linejoin: miter"/>
</g>
<g id="PathCollection_5">
<defs>
<path id="mac3c516bf9" d="M -2.738613 2.738613 
L 2.738613 2.738613 
L 2.738613 -2.738613 
L -2.738613 -2.738613 
z
" style="stroke: #1f77b4; stroke-width: 0.8"/>
</defs>
<g>
<use href="#mac3c516bf9" x="74.605" y="620.927914" style="fill: #1f77b4; stroke: #1f77b4; stroke-width: 0.8"/>
</g>
</g>
<g id="text_84">
<text style="font-size: 13.60px; font-family: 'Liberation Sans', sans-serif; text-anchor: start" x="97.915" y="624.327289" transform="rotate(-0 97.915 624.327289)" textLength="39.41" lengthAdjust="spacingAndGlyphs">e=0.1</text>
</g>
<g id="PathCollection_6">
<defs>
<path id="m17d24aef74" d="M 0 2.915476 
C 0.773193 2.915476 1.514823 2.608283 2.061553 2.061553 
C 2.608283 1.514823 2.915476 0.773193 2.915476 0 
C 2.915476 -0.773193 2.608283 -1.514823 2.061553 -2.061553 
C 1.514823 -2.608283 0.773193 -2.915476 0 -2.915476 
C -0.773193 -2.915476 -1.514823 -2.608283 -2.061553 -2.061553 
C -2.608283 -1.514823 -2.915476 -0.773193 -2.915476 0 
C -2.915476 0.773193 -2.608283 1.514823 -2.061553 2.061553 
C -1.514823 2.608283 -0.773193 2.915476 0 2.915476 
z
" style="stroke: #1f77b4; stroke-width: 0.8"/>
</defs>
<g>
<use href="#m17d24aef74" x="74.605" y="639.936086" style="fill: #1f77b4; stroke: #1f77b4; stroke-width: 0.8"/>
</g>
</g>
<g id="text_85">
<text style="font-size: 13.60px; font-family: 'Liberation Sans', sans-serif; text-anchor: start" x="97.915" y="643.335461" transform="rotate(-0 97.915 643.335461)" textLength="39.41" lengthAdjust="spacingAndGlyphs">e=0.3</text>
</g>
<g id="PathCollection_7">
<defs>
<path id="m1faf09260f" d="M -2.915476 0 
L 2.915476 0 
M 0 2.915476 
L 0 -2.915476 
" style="stroke: #1f77b4; stroke-width: 1.3"/>
</defs>
<g>
<use href="#m1faf09260f" x="74.605" y="658.944258" style="fill: #1f77b4; stroke: #1f77b4; stroke-width: 1.3"/>
</g>
</g>
<g id="text_86">
<text style="font-size: 13.60px; font-family: 'Liberation Sans', sans-serif; text-anchor: start" x="97.915" y="662.343633" transform="rotate(-0 97.915 662.343633)" textLength="39.41" lengthAdjust="spacingAndGlyphs">e=0.5</text>
</g>
<g id="PathCollection_8">
<defs>
<path id="m85c416fae3" d="M -2.738613 2.738613 
L 2.738613 -2.738613 
M -2.738613 -2.738613 
L 2.738613 2.738613 
" style="stroke: #1f77b4; stroke-width: 1.2"/>
</defs>
<g>
<use href="#m85c416fae3" x="74.605" y="677.95243" style="fill: #1f77b4; stroke: #1f77b4; stroke-width: 1.2"/>
</g>
</g>
<g id="text_87">
<text style="font-size: 13.60px; font-family: 'Liberation Sans', sans-serif; text-anchor: start" x="97.915" y="681.351805" transform="rotate(-0 97.915 681.351805)" textLength="39.41" lengthAdjust="spacingAndGlyphs">e=0.7</text>
</g>
</g>
</g>
<g id="axes_6">
<g id="patch_32">
<path d="M 324.4 695.7 
L 331.4 695.7 
L 331.4 520.2 
L 324.4 520.2 
z
" style="fill: #ffffff"/>
</g>
<rect x="324.4" y="520.2" width="7" height="175.5" fill="url(#vgrad)"/>
<g id="matplotlib.axis_11"/>
<g id="matplotlib.axis_12">
<g id="ytick_53">
<g id="line2d_115">
<defs>
<path id="mdd9b0c35be" d="M 0 0 
L 3.5 0 
" style="stroke: #000000; stroke-width: 0.68"/>
</defs>
<g>
<use href="#mdd9b0c35be" x="331.4" y="676.678396" style="stroke: #000000; stroke-width: 0.68"/>
</g>
</g>
<g id="text_88">
<text style="font-size: 15.51px; font-family: 'Liberation Sans', sans-serif; text-anchor: start" x="337.875" y="682.263248" transform="rotate(-0 337.875 682.263248)" textLength="18.71" lengthAdjust="spacingAndGlyphs">20</text>
</g>
</g>
<g id="ytick_54">
<g id="line2d_116">
<g>
<use href="#mdd9b0c35be" x="331.4" y="612.416221" style="stroke: #000000; stroke-width: 0.68"/>
</g>
</g>
<g id="text_89">
<text style="font-size: 15.51px; font-family: 'Liberation Sans', sans-serif; text-anchor: start" x="337.875" y="618.001073" transform="rotate(-0 337.875 618.001073)" textLength="18.71" lengthAdjust="spacingAndGlyphs">30</text>
</g>
</g>
<g id="ytick_55">
<g id="line2d_117">
<g>
<use href="#mdd9b0c35be" x="331.4" y="548.154046" style="stroke: #000000; stroke-width: 0.68"/>
</g>
</g>
<g id="text_90">
<text style="font-size: 15.51px; font-family: 'Liberation Sans', sans-serif; text-anchor: start" x="337.875" y="553.738898" transform="rotate(-0 337.875 553.738898)" textLength="18.71" lengthAdjust="spacingAndGlyphs">40</text>
</g>
</g>
</g>
<g id="LineCollection_1"/>
<g id="patch_33">
<path d="M 324.4 695.7 
L 327.9 695.7 
L 331.4 695.7 
L 331.4 520.2 
L 327.9 520.2 
L 324.4 520.2 
L 324.4 695.7 
z
" style="fill: none; stroke: #000000; stroke-width: 0.68; stroke-linejoin: miter; stroke-linecap: square"/>
</g>
<g id="text_91">
<text style="font-size: 13.93px; font-family: 'Liberation Sans', sans-serif; text-anchor: middle" x="327.9" y="515.1" transform="rotate(-0 327.9 515.1)" textLength="27.42" lengthAdjust="spacingAndGlyphs">SNR</text>
</g>
</g>
<g id="axes_7">
<g id="patch_34">
<path d="M 429.9 695.7 
L 699.2 695.7 
L 699.2 520 
L 429.9 520 
z
" style="fill: #ffffff"/>
</g>
<g id="PathCollection_9">
<defs>
<path id="C2_0_f4b89777d7" d="M -2.738613 2.738613 
L 2.738613 2.738613 
L 2.738613 -2.738613 
L -2.738613 -2.738613 
z
"/>
</defs>
<g clip-path="url(#p23c5724b44)">
<use href="#C2_0_f4b89777d7" x="442.140909" y="519.997781" style="fill: #46085c; stroke: #46085c; stroke-width: 0.8"/>
</g>
<g clip-path="url(#p23c5724b44)">
<use href="#C2_0_f4b89777d7" x="447.137199" y="519.997781" style="fill: #460a5d; stroke: #460a5d; stroke-width: 0.8"/>
</g>
<g clip-path="url(#p23c5724b44)">
<use href="#C2_0_f4b89777d7" x="452.133488" y="519.997781" style="fill: #460b5e; stroke: #460b5e; stroke-width: 0.8"/>
</g>
<g clip-path="url(#p23c5724b44)">
<use href="#C2_0_f4b89777d7" x="457.129777" y="519.997781" style="fill: #470d60; stroke: #470d60; stroke-width: 0.8"/>
</g>
<g clip-path="url(#p23c5724b44)">
<use href="#C2_0_f4b89777d7" x="462.126067" y="519.997781" style="fill: #470e61; stroke: #470e61; stroke-width: 0.8"/>
</g>
<g clip-path="url(#p23c5724b44)">
<use href="#C2_0_f4b89777d7" x="467.122356" y="519.997781" style="fill: #471063; stroke: #471063; stroke-width: 0.8"/>
</g>
<g clip-path="url(#p23c5724b44)">
<use href="#C2_0_f4b89777d7" x="472.118646" y="519.997781" style="fill: #471164; stroke: #471164; stroke-width: 0.8"/>
</g>
<g clip-path="url(#p23c5724b44)">
<use href="#C2_0_f4b89777d7" x="477.114935" y="519.997781" style="fill: #481467; stroke: #481467; stroke-width: 0.8"/>
</g>
<g clip-path="url(#p23c5724b44)">
<use href="#C2_0_f4b89777d7" x="482.111224" y="519.997781" style="fill: #481668; stroke: #481668; stroke-width: 0.8"/>
</g>
<g clip-path="url(#p23c5724b44)">
<use href="#C2_0_f4b89777d7" x="487.107514" y="519.997781" style="fill: #481769; stroke: #481769; stroke-width: 0.8"/>
</g>
<g clip-path="url(#p23c5724b44)">
<use href="#C2_0_f4b89777d7" x="492.103803" y="519.997781" style="fill: #481a6c; stroke: #481a6c; stroke-width: 0.8"/>
</g>
<g clip-path="url(#p23c5724b44)">
<use href="#C2_0_f4b89777d7" x="497.100093" y="519.997781" style="fill: #481b6d; stroke: #481b6d; stroke-width: 0.8"/>
</g>
<g clip-path="url(#p23c5724b44)">
<use href="#C2_0_f4b89777d7" x="502.096382" y="519.997781" style="fill: #481d6f; stroke: #481d6f; stroke-width: 0.8"/>
</g>
<g clip-path="url(#p23c5724b44)">
<use href="#C2_0_f4b89777d7" x="507.092672" y="519.997781" style="fill: #481f70; stroke: #481f70; stroke-width: 0.8"/>
</g>
<g clip-path="url(#p23c5724b44)">
<use href="#C2_0_f4b89777d7" x="512.088961" y="519.997781" style="fill: #482071; stroke: #482071; stroke-width: 0.8"/>
</g>
<g clip-path="url(#p23c5724b44)">
<use href="#C2_0_f4b89777d7" x="517.08525" y="519.997781" style="fill: #482374; stroke: #482374; stroke-width: 0.8"/>
</g>
<g clip-path="url(#p23c5724b44)">
<use href="#C2_0_f4b89777d7" x="522.08154" y="519.997781" style="fill: #482475; stroke: #482475; stroke-width: 0.8"/>
</g>
<g clip-path="url(#p23c5724b44)">
<use href="#C2_0_f4b89777d7" x="527.077829" y="519.997781" style="fill: #482677; stroke: #482677; stroke-width: 0.8"/>
</g>
<g clip-path="url(#p23c5724b44)">
<use href="#C2_0_f4b89777d7" x="532.074119" y="519.997781" style="fill: #482979; stroke: #482979; stroke-width: 0.8"/>
</g>
<g clip-path="url(#p23c5724b44)">
<use href="#C2_0_f4b89777d7" x="537.070408" y="519.997781" style="fill: #472a7a; stroke: #472a7a; stroke-width: 0.8"/>
</g>
<g clip-path="url(#p23c5724b44)">
<use href="#C2_0_f4b89777d7" x="542.066698" y="519.997781" style="fill: #472d7b; stroke: #472d7b; stroke-width: 0.8"/>
</g>
<g clip-path="url(#p23c5724b44)">
<use href="#C2_0_f4b89777d7" x="547.062987" y="519.997781" style="fill: #472f7d; stroke: #472f7d; stroke-width: 0.8"/>
</g>
<g clip-path="url(#p23c5724b44)">
<use href="#C2_0_f4b89777d7" x="552.059276" y="519.997781" style="fill: #46327e; stroke: #46327e; stroke-width: 0.8"/>
</g>
<g clip-path="url(#p23c5724b44)">
<use href="#C2_0_f4b89777d7" x="557.055566" y="519.997781" style="fill: #463480; stroke: #463480; stroke-width: 0.8"/>
</g>
<g clip-path="url(#p23c5724b44)">
<use href="#C2_0_f4b89777d7" x="562.051855" y="520.000767" style="fill: #453581; stroke: #453581; stroke-width: 0.8"/>
</g>
<g clip-path="url(#p23c5724b44)">
<use href="#C2_0_f4b89777d7" x="567.048145" y="520.033687" style="fill: #453882; stroke: #453882; stroke-width: 0.8"/>
</g>
<g clip-path="url(#p23c5724b44)">
<use href="#C2_0_f4b89777d7" x="572.044434" y="520.105701" style="fill: #443a83; stroke: #443a83; stroke-width: 0.8"/>
</g>
<g clip-path="url(#p23c5724b44)">
<use href="#C2_0_f4b89777d7" x="577.040724" y="520.220208" style="fill: #433d84; stroke: #433d84; stroke-width: 0.8"/>
</g>
<g clip-path="url(#p23c5724b44)">
<use href="#C2_0_f4b89777d7" x="582.037013" y="520.380607" style="fill: #423f85; stroke: #423f85; stroke-width: 0.8"/>
</g>
<g clip-path="url(#p23c5724b44)">
<use href="#C2_0_f4b89777d7" x="587.033302" y="520.688889" style="fill: #414287; stroke: #414287; stroke-width: 0.8"/>
</g>
<g clip-path="url(#p23c5724b44)">
<use href="#C2_0_f4b89777d7" x="592.029592" y="521.917781" style="fill: #404588; stroke: #404588; stroke-width: 0.8"/>
</g>
<g clip-path="url(#p23c5724b44)">
<use href="#C2_0_f4b89777d7" x="597.025881" y="526.408977" style="fill: #3f4788; stroke: #3f4788; stroke-width: 0.8"/>
</g>
<g clip-path="url(#p23c5724b44)">
<use href="#C2_0_f4b89777d7" x="602.022171" y="530.090708" style="fill: #3d4d8a; stroke: #3d4d8a; stroke-width: 0.8"/>
</g>
<g clip-path="url(#p23c5724b44)">
<use href="#C2_0_f4b89777d7" x="607.01846" y="533.275513" style="fill: #3b528b; stroke: #3b528b; stroke-width: 0.8"/>
</g>
<g clip-path="url(#p23c5724b44)">
<use href="#C2_0_f4b89777d7" x="612.01475" y="536.572385" style="fill: #38598c; stroke: #38598c; stroke-width: 0.8"/>
</g>
<g clip-path="url(#p23c5724b44)">
<use href="#C2_0_f4b89777d7" x="617.011039" y="539.961283" style="fill: #355f8d; stroke: #355f8d; stroke-width: 0.8"/>
</g>
<g clip-path="url(#p23c5724b44)">
<use href="#C2_0_f4b89777d7" x="622.007328" y="543.325001" style="fill: #31668e; stroke: #31668e; stroke-width: 0.8"/>
</g>
<g clip-path="url(#p23c5724b44)">
<use href="#C2_0_f4b89777d7" x="627.003618" y="546.6699" style="fill: #2e6d8e; stroke: #2e6d8e; stroke-width: 0.8"/>
</g>
<g clip-path="url(#p23c5724b44)">
<use href="#C2_0_f4b89777d7" x="631.999907" y="549.936454" style="fill: #2c738e; stroke: #2c738e; stroke-width: 0.8"/>
</g>
<g clip-path="url(#p23c5724b44)">
<use href="#C2_0_f4b89777d7" x="636.996197" y="552.731357" style="fill: #297b8e; stroke: #297b8e; stroke-width: 0.8"/>
</g>
<g clip-path="url(#p23c5724b44)">
<use href="#C2_0_f4b89777d7" x="641.992486" y="556.032983" style="fill: #26828e; stroke: #26828e; stroke-width: 0.8"/>
</g>
<g clip-path="url(#p23c5724b44)">
<use href="#C2_0_f4b89777d7" x="646.988776" y="562.891179" style="fill: #228c8d; stroke: #228c8d; stroke-width: 0.8"/>
</g>
<g clip-path="url(#p23c5724b44)">
<use href="#C2_0_f4b89777d7" x="651.985065" y="571.844415" style="fill: #1f958b; stroke: #1f958b; stroke-width: 0.8"/>
</g>
<g clip-path="url(#p23c5724b44)">
<use href="#C2_0_f4b89777d7" x="656.981354" y="580.02661" style="fill: #1e9d89; stroke: #1e9d89; stroke-width: 0.8"/>
</g>
<g clip-path="url(#p23c5724b44)">
<use href="#C2_0_f4b89777d7" x="661.977644" y="588.166299" style="fill: #21a585; stroke: #21a585; stroke-width: 0.8"/>
</g>
<g clip-path="url(#p23c5724b44)">
<use href="#C2_0_f4b89777d7" x="666.973933" y="598.122894" style="fill: #28ae80; stroke: #28ae80; stroke-width: 0.8"/>
</g>
<g clip-path="url(#p23c5724b44)">
<use href="#C2_0_f4b89777d7" x="671.970223" y="609.360306" style="fill: #38b977; stroke: #38b977; stroke-width: 0.8"/>
</g>
<g clip-path="url(#p23c5724b44)">
<use href="#C2_0_f4b89777d7" x="676.966512" y="623.239702" style="fill: #54c568; stroke: #54c568; stroke-width: 0.8"/>
</g>
<g clip-path="url(#p23c5724b44)">
<use href="#C2_0_f4b89777d7" x="681.962801" y="643.192227" style="fill: #8ed645; stroke: #8ed645; stroke-width: 0.8"/>
</g>
<g clip-path="url(#p23c5724b44)">
<use href="#C2_0_f4b89777d7" x="686.959091" y="696.000004" style="fill: #fde725; stroke: #fde725; stroke-width: 0.8"/>
</g>
</g>
<g id="PathCollection_10">
<defs>
<path id="C3_0_6bc16225f0" d="M 0 2.915476 
C 0.773193 2.915476 1.514823 2.608283 2.061553 2.061553 
C 2.608283 1.514823 2.915476 0.773193 2.915476 -0 
C 2.915476 -0.773193 2.608283 -1.514823 2.061553 -2.061553 
C 1.514823 -2.608283 0.773193 -2.915476 0 -2.915476 
C -0.773193 -2.915476 -1.514823 -2.608283 -2.061553 -2.061553 
C -2.608283 -1.514823 -2.915476 -0.773193 -2.915476 0 
C -2.915476 0.773193 -2.608283 1.514823 -2.061553 2.061553 
C -1.514823 2.608283 -0.773193 2.915476 0 2.915476 
z
"/>
</defs>
<g clip-path="url(#p23c5724b44)">
<use href="#C3_0_6bc16225f0" x="442.140909" y="519.997781" style="fill: #46085c; stroke: #46085c; stroke-width: 0.8"/>
</g>
<g clip-path="url(#p23c5724b44)">
<use href="#C3_0_6bc16225f0" x="447.137199" y="519.997781" style="fill: #460a5d; stroke: #460a5d; stroke-width: 0.8"/>
</g>
<g clip-path="url(#p23c5724b44)">
<use href="#C3_0_6bc16225f0" x="452.133488" y="519.997781" style="fill: #460b5e; stroke: #460b5e; stroke-width: 0.8"/>
</g>
<g clip-path="url(#p23c5724b44)">
<use href="#C3_0_6bc16225f0" x="457.129777" y="519.997781" style="fill: #470d60; stroke: #470d60; stroke-width: 0.8"/>
</g>
<g clip-path="url(#p23c5724b44)">
<use href="#C3_0_6bc16225f0" x="462.126067" y="519.997781" style="fill: #470e61; stroke: #470e61; stroke-width: 0.8"/>
</g>
<g clip-path="url(#p23c5724b44)">
<use href="#C3_0_6bc16225f0" x="467.122356" y="519.997781" style="fill: #471063; stroke: #471063; stroke-width: 0.8"/>
</g>
<g clip-path="url(#p23c5724b44)">
<use href="#C3_0_6bc16225f0" x="472.118646" y="519.997781" style="fill: #471164; stroke: #471164; stroke-width: 0.8"/>
</g>
<g clip-path="url(#p23c5724b44)">
<use href="#C3_0_6bc16225f0" x="477.114935" y="519.997781" style="fill: #481467; stroke: #481467; stroke-width: 0.8"/>
</g>
<g clip-path="url(#p23c5724b44)">
<use href="#C3_0_6bc16225f0" x="482.111224" y="520.063359" style="fill: #481668; stroke: #481668; stroke-width: 0.8"/>
</g>
<g clip-path="url(#p23c5724b44)">
<use href="#C3_0_6bc16225f0" x="487.107514" y="520.589708" style="fill: #481769; stroke: #481769; stroke-width: 0.8"/>
</g>
<g clip-path="url(#p23c5724b44)">
<use href="#C3_0_6bc16225f0" x="492.103803" y="521.373919" style="fill: #481a6c; stroke: #481a6c; stroke-width: 0.8"/>
</g>
<g clip-path="url(#p23c5724b44)">
<use href="#C3_0_6bc16225f0" x="497.100093" y="522.719284" style="fill: #481b6d; stroke: #481b6d; stroke-width: 0.8"/>
</g>
<g clip-path="url(#p23c5724b44)">
<use href="#C3_0_6bc16225f0" x="502.096382" y="524.309159" style="fill: #481d6f; stroke: #481d6f; stroke-width: 0.8"/>
</g>
<g clip-path="url(#p23c5724b44)">
<use href="#C3_0_6bc16225f0" x="507.092672" y="525.65964" style="fill: #481f70; stroke: #481f70; stroke-width: 0.8"/>
</g>
<g clip-path="url(#p23c5724b44)">
<use href="#C3_0_6bc16225f0" x="512.088961" y="526.755374" style="fill: #482071; stroke: #482071; stroke-width: 0.8"/>
</g>
<g clip-path="url(#p23c5724b44)">
<use href="#C3_0_6bc16225f0" x="517.08525" y="527.76413" style="fill: #482374; stroke: #482374; stroke-width: 0.8"/>
</g>
<g clip-path="url(#p23c5724b44)">
<use href="#C3_0_6bc16225f0" x="522.08154" y="528.698056" style="fill: #482475; stroke: #482475; stroke-width: 0.8"/>
</g>
<g clip-path="url(#p23c5724b44)">
<use href="#C3_0_6bc16225f0" x="527.077829" y="529.565879" style="fill: #482677; stroke: #482677; stroke-width: 0.8"/>
</g>
<g clip-path="url(#p23c5724b44)">
<use href="#C3_0_6bc16225f0" x="532.074119" y="530.344559" style="fill: #482979; stroke: #482979; stroke-width: 0.8"/>
</g>
<g clip-path="url(#p23c5724b44)">
<use href="#C3_0_6bc16225f0" x="537.070408" y="531.072464" style="fill: #472a7a; stroke: #472a7a; stroke-width: 0.8"/>
</g>
<g clip-path="url(#p23c5724b44)">
<use href="#C3_0_6bc16225f0" x="542.066698" y="531.807128" style="fill: #472d7b; stroke: #472d7b; stroke-width: 0.8"/>
</g>
<g clip-path="url(#p23c5724b44)">
<use href="#C3_0_6bc16225f0" x="547.062987" y="532.591803" style="fill: #472f7d; stroke: #472f7d; stroke-width: 0.8"/>
</g>
<g clip-path="url(#p23c5724b44)">
<use href="#C3_0_6bc16225f0" x="552.059276" y="533.389436" style="fill: #46327e; stroke: #46327e; stroke-width: 0.8"/>
</g>
<g clip-path="url(#p23c5724b44)">
<use href="#C3_0_6bc16225f0" x="557.055566" y="534.22335" style="fill: #463480; stroke: #463480; stroke-width: 0.8"/>
</g>
<g clip-path="url(#p23c5724b44)">
<use href="#C3_0_6bc16225f0" x="562.051855" y="535.130633" style="fill: #453581; stroke: #453581; stroke-width: 0.8"/>
</g>
<g clip-path="url(#p23c5724b44)">
<use href="#C3_0_6bc16225f0" x="567.048145" y="536.083196" style="fill: #453882; stroke: #453882; stroke-width: 0.8"/>
</g>
<g clip-path="url(#p23c5724b44)">
<use href="#C3_0_6bc16225f0" x="572.044434" y="537.111256" style="fill: #443a83; stroke: #443a83; stroke-width: 0.8"/>
</g>
<g clip-path="url(#p23c5724b44)">
<use href="#C3_0_6bc16225f0" x="577.040724" y="538.324778" style="fill: #433d84; stroke: #433d84; stroke-width: 0.8"/>
</g>
<g clip-path="url(#p23c5724b44)">
<use href="#C3_0_6bc16225f0" x="582.037013" y="539.88456" style="fill: #423f85; stroke: #423f85; stroke-width: 0.8"/>
</g>
<g clip-path="url(#p23c5724b44)">
<use href="#C3_0_6bc16225f0" x="587.033302" y="541.972832" style="fill: #414287; stroke: #414287; stroke-width: 0.8"/>
</g>
<g clip-path="url(#p23c5724b44)">
<use href="#C3_0_6bc16225f0" x="592.029592" y="544.395593" style="fill: #404588; stroke: #404588; stroke-width: 0.8"/>
</g>
<g clip-path="url(#p23c5724b44)">
<use href="#C3_0_6bc16225f0" x="597.025881" y="546.925419" style="fill: #3f4788; stroke: #3f4788; stroke-width: 0.8"/>
</g>
<g clip-path="url(#p23c5724b44)">
<use href="#C3_0_6bc16225f0" x="602.022171" y="549.497512" style="fill: #3e4a89; stroke: #3e4a89; stroke-width: 0.8"/>
</g>
<g clip-path="url(#p23c5724b44)">
<use href="#C3_0_6bc16225f0" x="607.01846" y="552.284968" style="fill: #3d4e8a; stroke: #3d4e8a; stroke-width: 0.8"/>
</g>
<g clip-path="url(#p23c5724b44)">
<use href="#C3_0_6bc16225f0" x="612.01475" y="555.130399" style="fill: #3b528b; stroke: #3b528b; stroke-width: 0.8"/>
</g>
<g clip-path="url(#p23c5724b44)">
<use href="#C3_0_6bc16225f0" x="617.011039" y="557.862426" style="fill: #39568c; stroke: #39568c; stroke-width: 0.8"/>
</g>
<g clip-path="url(#p23c5724b44)">
<use href="#C3_0_6bc16225f0" x="622.007328" y="560.354567" style="fill: #375b8d; stroke: #375b8d; stroke-width: 0.8"/>
</g>
<g clip-path="url(#p23c5724b44)">
<use href="#C3_0_6bc16225f0" x="627.003618" y="562.750383" style="fill: #34608d; stroke: #34608d; stroke-width: 0.8"/>
</g>
<g clip-path="url(#p23c5724b44)">
<use href="#C3_0_6bc16225f0" x="631.999907" y="565.289646" style="fill: #32648e; stroke: #32648e; stroke-width: 0.8"/>
</g>
<g clip-path="url(#p23c5724b44)">
<use href="#C3_0_6bc16225f0" x="636.996197" y="568.024352" style="fill: #306a8e; stroke: #306a8e; stroke-width: 0.8"/>
</g>
<g clip-path="url(#p23c5724b44)">
<use href="#C3_0_6bc16225f0" x="641.992486" y="571.242881" style="fill: #2d708e; stroke: #2d708e; stroke-width: 0.8"/>
</g>
<g clip-path="url(#p23c5724b44)">
<use href="#C3_0_6bc16225f0" x="646.988776" y="575.769753" style="fill: #2a768e; stroke: #2a768e; stroke-width: 0.8"/>
</g>
<g clip-path="url(#p23c5724b44)">
<use href="#C3_0_6bc16225f0" x="651.985065" y="581.263634" style="fill: #287d8e; stroke: #287d8e; stroke-width: 0.8"/>
</g>
<g clip-path="url(#p23c5724b44)">
<use href="#C3_0_6bc16225f0" x="656.981354" y="587.621595" style="fill: #25848e; stroke: #25848e; stroke-width: 0.8"/>
</g>
<g clip-path="url(#p23c5724b44)">
<use href="#C3_0_6bc16225f0" x="661.977644" y="594.714249" style="fill: #228d8d; stroke: #228d8d; stroke-width: 0.8"/>
</g>
<g clip-path="url(#p23c5724b44)">
<use href="#C3_0_6bc16225f0" x="666.973933" y="603.019203" style="fill: #1f978b; stroke: #1f978b; stroke-width: 0.8"/>
</g>
<g clip-path="url(#p23c5724b44)">
<use href="#C3_0_6bc16225f0" x="671.970223" y="612.670316" style="fill: #1fa187; stroke: #1fa187; stroke-width: 0.8"/>
</g>
<g clip-path="url(#p23c5724b44)">
<use href="#C3_0_6bc16225f0" x="676.966512" y="625.313081" style="fill: #29af7f; stroke: #29af7f; stroke-width: 0.8"/>
</g>
<g clip-path="url(#p23c5724b44)">
<use href="#C3_0_6bc16225f0" x="681.962801" y="644.198785" style="fill: #54c568; stroke: #54c568; stroke-width: 0.8"/>
</g>
<g clip-path="url(#p23c5724b44)">
<use href="#C3_0_6bc16225f0" x="686.959091" y="705.000117" style="fill: #fde725; stroke: #fde725; stroke-width: 0.8"/>
</g>
</g>
<g id="PathCollection_11">
<path d="M 439.225433 548.392365 
L 445.056385 548.392365 
M 442.140909 551.307841 
L 442.140909 545.476889 
" clip-path="url(#p23c5724b44)" style="fill: #450457; stroke: #450457; stroke-width: 1.3"/>
<path d="M 444.221723 548.888028 
L 450.052674 548.888028 
M 447.137199 551.803504 
L 447.137199 545.972552 
" clip-path="url(#p23c5724b44)" style="fill: #450559; stroke: #450559; stroke-width: 1.3"/>
<path d="M 449.218012 549.413248 
L 455.048964 549.413248 
M 452.133488 552.328724 
L 452.133488 546.497772 
" clip-path="url(#p23c5724b44)" style="fill: #46075a; stroke: #46075a; stroke-width: 1.3"/>
<path d="M 454.214301 549.967693 
L 460.045253 549.967693 
M 457.129777 552.883169 
L 457.129777 547.052217 
" clip-path="url(#p23c5724b44)" style="fill: #46085c; stroke: #46085c; stroke-width: 1.3"/>
<path d="M 459.210591 550.551032 
L 465.041543 550.551032 
M 462.126067 553.466508 
L 462.126067 547.635556 
" clip-path="url(#p23c5724b44)" style="fill: #460a5d; stroke: #460a5d; stroke-width: 1.3"/>
<path d="M 464.20688 551.162932 
L 470.037832 551.162932 
M 467.122356 554.078408 
L 467.122356 548.247456 
" clip-path="url(#p23c5724b44)" style="fill: #470d60; stroke: #470d60; stroke-width: 1.3"/>
<path d="M 469.20317 551.816399 
L 475.034122 551.816399 
M 472.118646 554.731875 
L 472.118646 548.900923 
" clip-path="url(#p23c5724b44)" style="fill: #470e61; stroke: #470e61; stroke-width: 1.3"/>
<path d="M 474.199459 552.530551 
L 480.030411 552.530551 
M 477.114935 555.446027 
L 477.114935 549.615075 
" clip-path="url(#p23c5724b44)" style="fill: #471063; stroke: #471063; stroke-width: 1.3"/>
<path d="M 479.195749 553.288308 
L 485.0267 553.288308 
M 482.111224 556.203784 
L 482.111224 550.372832 
" clip-path="url(#p23c5724b44)" style="fill: #471164; stroke: #471164; stroke-width: 1.3"/>
<path d="M 484.192038 554.07145 
L 490.02299 554.07145 
M 487.107514 556.986926 
L 487.107514 551.155974 
" clip-path="url(#p23c5724b44)" style="fill: #481467; stroke: #481467; stroke-width: 1.3"/>
<path d="M 489.188327 554.86176 
L 495.019279 554.86176 
M 492.103803 557.777236 
L 492.103803 551.946284 
" clip-path="url(#p23c5724b44)" style="fill: #481668; stroke: #481668; stroke-width: 1.3"/>
<path d="M 494.184617 555.641018 
L 500.015569 555.641018 
M 497.100093 558.556494 
L 497.100093 552.725542 
" clip-path="url(#p23c5724b44)" style="fill: #48186a; stroke: #48186a; stroke-width: 1.3"/>
<path d="M 499.180906 556.391005 
L 505.011858 556.391005 
M 502.096382 559.306481 
L 502.096382 553.475529 
" clip-path="url(#p23c5724b44)" style="fill: #481a6c; stroke: #481a6c; stroke-width: 1.3"/>
<path d="M 504.177196 557.093735 
L 510.008148 557.093735 
M 507.092672 560.009211 
L 507.092672 554.178259 
" clip-path="url(#p23c5724b44)" style="fill: #481b6d; stroke: #481b6d; stroke-width: 1.3"/>
<path d="M 509.173485 557.751733 
L 515.004437 557.751733 
M 512.088961 560.667209 
L 512.088961 554.836257 
" clip-path="url(#p23c5724b44)" style="fill: #481d6f; stroke: #481d6f; stroke-width: 1.3"/>
<path d="M 514.169775 558.380693 
L 520.000726 558.380693 
M 517.08525 561.296169 
L 517.08525 555.465217 
" clip-path="url(#p23c5724b44)" style="fill: #481f70; stroke: #481f70; stroke-width: 1.3"/>
<path d="M 519.166064 558.991241 
L 524.997016 558.991241 
M 522.08154 561.906717 
L 522.08154 556.075765 
" clip-path="url(#p23c5724b44)" style="fill: #482173; stroke: #482173; stroke-width: 1.3"/>
<path d="M 524.162353 559.594005 
L 529.993305 559.594005 
M 527.077829 562.509481 
L 527.077829 556.678529 
" clip-path="url(#p23c5724b44)" style="fill: #482374; stroke: #482374; stroke-width: 1.3"/>
<path d="M 529.158643 560.19961 
L 534.989595 560.19961 
M 532.074119 563.115086 
L 532.074119 557.284134 
" clip-path="url(#p23c5724b44)" style="fill: #482576; stroke: #482576; stroke-width: 1.3"/>
<path d="M 534.154932 560.818684 
L 539.985884 560.818684 
M 537.070408 563.73416 
L 537.070408 557.903208 
" clip-path="url(#p23c5724b44)" style="fill: #482878; stroke: #482878; stroke-width: 1.3"/>
<path d="M 539.151222 561.461851 
L 544.982174 561.461851 
M 542.066698 564.377327 
L 542.066698 558.546375 
" clip-path="url(#p23c5724b44)" style="fill: #472a7a; stroke: #472a7a; stroke-width: 1.3"/>
<path d="M 544.147511 562.129584 
L 549.978463 562.129584 
M 547.062987 565.04506 
L 547.062987 559.214108 
" clip-path="url(#p23c5724b44)" style="fill: #472c7a; stroke: #472c7a; stroke-width: 1.3"/>
<path d="M 549.1438 562.781447 
L 554.974752 562.781447 
M 552.059276 565.696923 
L 552.059276 559.865971 
" clip-path="url(#p23c5724b44)" style="fill: #472e7c; stroke: #472e7c; stroke-width: 1.3"/>
<path d="M 554.14009 563.445292 
L 559.971042 563.445292 
M 557.055566 566.360767 
L 557.055566 560.529816 
" clip-path="url(#p23c5724b44)" style="fill: #46307e; stroke: #46307e; stroke-width: 1.3"/>
<path d="M 559.136379 564.160652 
L 564.967331 564.160652 
M 562.051855 567.076128 
L 562.051855 561.245176 
" clip-path="url(#p23c5724b44)" style="fill: #46337f; stroke: #46337f; stroke-width: 1.3"/>
<path d="M 564.132669 564.967062 
L 569.963621 564.967062 
M 567.048145 567.882538 
L 567.048145 562.051587 
" clip-path="url(#p23c5724b44)" style="fill: #453581; stroke: #453581; stroke-width: 1.3"/>
<path d="M 569.128958 565.918159 
L 574.95991 565.918159 
M 572.044434 568.833635 
L 572.044434 563.002683 
" clip-path="url(#p23c5724b44)" style="fill: #453882; stroke: #453882; stroke-width: 1.3"/>
<path d="M 574.125248 567.130271 
L 579.9562 567.130271 
M 577.040724 570.045747 
L 577.040724 564.214795 
" clip-path="url(#p23c5724b44)" style="fill: #443a83; stroke: #443a83; stroke-width: 1.3"/>
<path d="M 579.121537 568.541839 
L 584.952489 568.541839 
M 582.037013 571.457315 
L 582.037013 565.626363 
" clip-path="url(#p23c5724b44)" style="fill: #433d84; stroke: #433d84; stroke-width: 1.3"/>
<path d="M 584.117826 570.055031 
L 589.948778 570.055031 
M 587.033302 572.970507 
L 587.033302 567.139556 
" clip-path="url(#p23c5724b44)" style="fill: #423f85; stroke: #423f85; stroke-width: 1.3"/>
<path d="M 589.114116 571.572017 
L 594.945068 571.572017 
M 592.029592 574.487493 
L 592.029592 568.656541 
" clip-path="url(#p23c5724b44)" style="fill: #424186; stroke: #424186; stroke-width: 1.3"/>
<path d="M 594.110405 572.994965 
L 599.941357 572.994965 
M 597.025881 575.910441 
L 597.025881 570.079489 
" clip-path="url(#p23c5724b44)" style="fill: #404588; stroke: #404588; stroke-width: 1.3"/>
<path d="M 599.106695 574.259197 
L 604.937647 574.259197 
M 602.022171 577.174673 
L 602.022171 571.343721 
" clip-path="url(#p23c5724b44)" style="fill: #3f4889; stroke: #3f4889; stroke-width: 1.3"/>
<path d="M 604.102984 575.441218 
L 609.933936 575.441218 
M 607.01846 578.356694 
L 607.01846 572.525743 
" clip-path="url(#p23c5724b44)" style="fill: #3e4c8a; stroke: #3e4c8a; stroke-width: 1.3"/>
<path d="M 609.099274 576.633381 
L 614.930225 576.633381 
M 612.01475 579.548857 
L 612.01475 573.717905 
" clip-path="url(#p23c5724b44)" style="fill: #3c4f8a; stroke: #3c4f8a; stroke-width: 1.3"/>
<path d="M 614.095563 577.926746 
L 619.926515 577.926746 
M 617.011039 580.842222 
L 617.011039 575.01127 
" clip-path="url(#p23c5724b44)" style="fill: #3a538b; stroke: #3a538b; stroke-width: 1.3"/>
<path d="M 619.091852 579.320298 
L 624.922804 579.320298 
M 622.007328 582.235774 
L 622.007328 576.404822 
" clip-path="url(#p23c5724b44)" style="fill: #38598c; stroke: #38598c; stroke-width: 1.3"/>
<path d="M 624.088142 580.823697 
L 629.919094 580.823697 
M 627.003618 583.739173 
L 627.003618 577.908221 
" clip-path="url(#p23c5724b44)" style="fill: #365d8d; stroke: #365d8d; stroke-width: 1.3"/>
<path d="M 629.084431 582.576987 
L 634.915383 582.576987 
M 631.999907 585.492463 
L 631.999907 579.661511 
" clip-path="url(#p23c5724b44)" style="fill: #33628d; stroke: #33628d; stroke-width: 1.3"/>
<path d="M 634.080721 584.851385 
L 639.911673 584.851385 
M 636.996197 587.766861 
L 636.996197 581.935909 
" clip-path="url(#p23c5724b44)" style="fill: #31678e; stroke: #31678e; stroke-width: 1.3"/>
<path d="M 639.07701 587.558067 
L 644.907962 587.558067 
M 641.992486 590.473543 
L 641.992486 584.642591 
" clip-path="url(#p23c5724b44)" style="fill: #2e6d8e; stroke: #2e6d8e; stroke-width: 1.3"/>
<path d="M 644.0733 590.313247 
L 649.904251 590.313247 
M 646.988776 593.228723 
L 646.988776 587.397771 
" clip-path="url(#p23c5724b44)" style="fill: #2c738e; stroke: #2c738e; stroke-width: 1.3"/>
<path d="M 649.069589 593.530952 
L 654.900541 593.530952 
M 651.985065 596.446428 
L 651.985065 590.615476 
" clip-path="url(#p23c5724b44)" style="fill: #297a8e; stroke: #297a8e; stroke-width: 1.3"/>
<path d="M 654.065878 597.738119 
L 659.89683 597.738119 
M 656.981354 600.653595 
L 656.981354 594.822643 
" clip-path="url(#p23c5724b44)" style="fill: #26828e; stroke: #26828e; stroke-width: 1.3"/>
<path d="M 659.062168 602.705835 
L 664.89312 602.705835 
M 661.977644 605.621311 
L 661.977644 599.790359 
" clip-path="url(#p23c5724b44)" style="fill: #228b8d; stroke: #228b8d; stroke-width: 1.3"/>
<path d="M 664.058457 607.988506 
L 669.889409 607.988506 
M 666.973933 610.903982 
L 666.973933 605.07303 
" clip-path="url(#p23c5724b44)" style="fill: #1f948c; stroke: #1f948c; stroke-width: 1.3"/>
<path d="M 669.054747 614.809936 
L 674.885699 614.809936 
M 671.970223 617.725412 
L 671.970223 611.89446 
" clip-path="url(#p23c5724b44)" style="fill: #1fa088; stroke: #1fa088; stroke-width: 1.3"/>
<path d="M 674.051036 626.294574 
L 679.881988 626.294574 
M 676.966512 629.21005 
L 676.966512 623.379098 
" clip-path="url(#p23c5724b44)" style="fill: #27ad81; stroke: #27ad81; stroke-width: 1.3"/>
<path d="M 679.047326 645.192601 
L 684.878277 645.192601 
M 681.962801 648.108077 
L 681.962801 642.277125 
" clip-path="url(#p23c5724b44)" style="fill: #4ec36b; stroke: #4ec36b; stroke-width: 1.3"/>
<path d="M 684.043615 705.000117 
L 689.874567 705.000117 
M 686.959091 707.915593 
L 686.959091 702.084641 
" clip-path="url(#p23c5724b44)" style="fill: #fde725; stroke: #fde725; stroke-width: 1.3"/>
</g>
<g id="PathCollection_12">
<path d="M 439.402296 580.73247 
L 444.879522 575.255244 
M 439.402296 575.255244 
L 444.879522 580.73247 
" clip-path="url(#p23c5724b44)" style="fill: #440154; stroke: #440154; stroke-width: 1.2"/>
<path d="M 444.398586 581.130625 
L 449.875811 575.653399 
M 444.398586 575.653399 
L 449.875811 581.130625 
" clip-path="url(#p23c5724b44)" style="fill: #440154; stroke: #440154; stroke-width: 1.2"/>
<path d="M 449.394875 581.5496 
L 454.872101 576.072375 
M 449.394875 576.072375 
L 454.872101 581.5496 
" clip-path="url(#p23c5724b44)" style="fill: #440154; stroke: #440154; stroke-width: 1.2"/>
<path d="M 454.391165 581.989353 
L 459.86839 576.512127 
M 454.391165 576.512127 
L 459.86839 581.989353 
" clip-path="url(#p23c5724b44)" style="fill: #440154; stroke: #440154; stroke-width: 1.2"/>
<path d="M 459.387454 582.449838 
L 464.86468 576.972613 
M 459.387454 576.972613 
L 464.86468 582.449838 
" clip-path="url(#p23c5724b44)" style="fill: #440154; stroke: #440154; stroke-width: 1.2"/>
<path d="M 464.383743 582.931014 
L 469.860969 577.453789 
M 464.383743 577.453789 
L 469.860969 582.931014 
" clip-path="url(#p23c5724b44)" style="fill: #440154; stroke: #440154; stroke-width: 1.2"/>
<path d="M 469.380033 583.444613 
L 474.857258 577.967387 
M 469.380033 577.967387 
L 474.857258 583.444613 
" clip-path="url(#p23c5724b44)" style="fill: #440256; stroke: #440256; stroke-width: 1.2"/>
<path d="M 474.376322 584.007343 
L 479.853548 578.530118 
M 474.376322 578.530118 
L 479.853548 584.007343 
" clip-path="url(#p23c5724b44)" style="fill: #450457; stroke: #450457; stroke-width: 1.2"/>
<path d="M 479.372612 584.603596 
L 484.849837 579.126371 
M 479.372612 579.126371 
L 484.849837 584.603596 
" clip-path="url(#p23c5724b44)" style="fill: #46075a; stroke: #46075a; stroke-width: 1.2"/>
<path d="M 484.368901 585.216751 
L 489.846127 579.739525 
M 484.368901 579.739525 
L 489.846127 585.216751 
" clip-path="url(#p23c5724b44)" style="fill: #46085c; stroke: #46085c; stroke-width: 1.2"/>
<path d="M 489.365191 585.830186 
L 494.842416 580.35296 
M 489.365191 580.35296 
L 494.842416 585.830186 
" clip-path="url(#p23c5724b44)" style="fill: #460a5d; stroke: #460a5d; stroke-width: 1.2"/>
<path d="M 494.36148 586.42728 
L 499.838706 580.950055 
M 494.36148 580.950055 
L 499.838706 586.42728 
" clip-path="url(#p23c5724b44)" style="fill: #470d60; stroke: #470d60; stroke-width: 1.2"/>
<path d="M 499.357769 586.991414 
L 504.834995 581.514188 
M 499.357769 581.514188 
L 504.834995 586.991414 
" clip-path="url(#p23c5724b44)" style="fill: #470e61; stroke: #470e61; stroke-width: 1.2"/>
<path d="M 504.354059 587.506235 
L 509.831284 582.02901 
M 504.354059 582.02901 
L 509.831284 587.506235 
" clip-path="url(#p23c5724b44)" style="fill: #471164; stroke: #471164; stroke-width: 1.2"/>
<path d="M 509.350348 587.977547 
L 514.827574 582.500322 
M 509.350348 582.500322 
L 514.827574 587.977547 
" clip-path="url(#p23c5724b44)" style="fill: #471365; stroke: #471365; stroke-width: 1.2"/>
<path d="M 514.346638 588.420822 
L 519.823863 582.943596 
M 514.346638 582.943596 
L 519.823863 588.420822 
" clip-path="url(#p23c5724b44)" style="fill: #481668; stroke: #481668; stroke-width: 1.2"/>
<path d="M 519.342927 588.844516 
L 524.820153 583.36729 
M 519.342927 583.36729 
L 524.820153 588.844516 
" clip-path="url(#p23c5724b44)" style="fill: #481769; stroke: #481769; stroke-width: 1.2"/>
<path d="M 524.339217 589.257085 
L 529.816442 583.77986 
M 524.339217 583.77986 
L 529.816442 589.257085 
" clip-path="url(#p23c5724b44)" style="fill: #481a6c; stroke: #481a6c; stroke-width: 1.2"/>
<path d="M 529.335506 589.666987 
L 534.812732 584.189762 
M 529.335506 584.189762 
L 534.812732 589.666987 
" clip-path="url(#p23c5724b44)" style="fill: #481b6d; stroke: #481b6d; stroke-width: 1.2"/>
<path d="M 534.331795 590.082679 
L 539.809021 584.605454 
M 534.331795 584.605454 
L 539.809021 590.082679 
" clip-path="url(#p23c5724b44)" style="fill: #481d6f; stroke: #481d6f; stroke-width: 1.2"/>
<path d="M 539.328085 590.512617 
L 544.80531 585.035392 
M 539.328085 585.035392 
L 544.80531 590.512617 
" clip-path="url(#p23c5724b44)" style="fill: #482071; stroke: #482071; stroke-width: 1.2"/>
<path d="M 544.324374 590.957815 
L 549.8016 585.48059 
M 544.324374 585.48059 
L 549.8016 590.957815 
" clip-path="url(#p23c5724b44)" style="fill: #482374; stroke: #482374; stroke-width: 1.2"/>
<path d="M 549.320664 591.387974 
L 554.797889 585.910748 
M 549.320664 585.910748 
L 554.797889 591.387974 
" clip-path="url(#p23c5724b44)" style="fill: #482475; stroke: #482475; stroke-width: 1.2"/>
<path d="M 554.316953 591.820754 
L 559.794179 586.343529 
M 554.316953 586.343529 
L 559.794179 591.820754 
" clip-path="url(#p23c5724b44)" style="fill: #482677; stroke: #482677; stroke-width: 1.2"/>
<path d="M 559.313243 592.282233 
L 564.790468 586.805008 
M 559.313243 586.805008 
L 564.790468 592.282233 
" clip-path="url(#p23c5724b44)" style="fill: #482979; stroke: #482979; stroke-width: 1.2"/>
<path d="M 564.309532 592.798486 
L 569.786757 587.32126 
M 564.309532 587.32126 
L 569.786757 592.798486 
" clip-path="url(#p23c5724b44)" style="fill: #472c7a; stroke: #472c7a; stroke-width: 1.2"/>
<path d="M 569.305821 593.399451 
L 574.783047 587.922225 
M 569.305821 587.922225 
L 574.783047 593.399451 
" clip-path="url(#p23c5724b44)" style="fill: #472e7c; stroke: #472e7c; stroke-width: 1.2"/>
<path d="M 574.302111 594.125085 
L 579.779336 588.64786 
M 574.302111 588.64786 
L 579.779336 594.125085 
" clip-path="url(#p23c5724b44)" style="fill: #46307e; stroke: #46307e; stroke-width: 1.2"/>
<path d="M 579.2984 594.953492 
L 584.775626 589.476266 
M 579.2984 589.476266 
L 584.775626 594.953492 
" clip-path="url(#p23c5724b44)" style="fill: #46337f; stroke: #46337f; stroke-width: 1.2"/>
<path d="M 584.29469 595.851601 
L 589.771915 590.374376 
M 584.29469 590.374376 
L 589.771915 595.851601 
" clip-path="url(#p23c5724b44)" style="fill: #453581; stroke: #453581; stroke-width: 1.2"/>
<path d="M 589.290979 596.786344 
L 594.768205 591.309118 
M 589.290979 591.309118 
L 594.768205 596.786344 
" clip-path="url(#p23c5724b44)" style="fill: #443983; stroke: #443983; stroke-width: 1.2"/>
<path d="M 594.287268 597.724649 
L 599.764494 592.247423 
M 594.287268 592.247423 
L 599.764494 597.724649 
" clip-path="url(#p23c5724b44)" style="fill: #443b84; stroke: #443b84; stroke-width: 1.2"/>
<path d="M 599.283558 598.652963 
L 604.760783 593.175738 
M 599.283558 593.175738 
L 604.760783 598.652963 
" clip-path="url(#p23c5724b44)" style="fill: #423f85; stroke: #423f85; stroke-width: 1.2"/>
<path d="M 604.279847 599.60922 
L 609.757073 594.131995 
M 604.279847 594.131995 
L 609.757073 599.60922 
" clip-path="url(#p23c5724b44)" style="fill: #414287; stroke: #414287; stroke-width: 1.2"/>
<path d="M 609.276137 600.612293 
L 614.753362 595.135067 
M 609.276137 595.135067 
L 614.753362 600.612293 
" clip-path="url(#p23c5724b44)" style="fill: #3f4788; stroke: #3f4788; stroke-width: 1.2"/>
<path d="M 614.272426 601.67976 
L 619.749652 596.202535 
M 614.272426 596.202535 
L 619.749652 601.67976 
" clip-path="url(#p23c5724b44)" style="fill: #3e4c8a; stroke: #3e4c8a; stroke-width: 1.2"/>
<path d="M 619.268716 602.82408 
L 624.745941 597.346854 
M 619.268716 597.346854 
L 624.745941 602.82408 
" clip-path="url(#p23c5724b44)" style="fill: #3c508b; stroke: #3c508b; stroke-width: 1.2"/>
<path d="M 624.265005 604.045032 
L 629.742231 598.567807 
M 624.265005 598.567807 
L 629.742231 604.045032 
" clip-path="url(#p23c5724b44)" style="fill: #3a548c; stroke: #3a548c; stroke-width: 1.2"/>
<path d="M 629.261294 605.341951 
L 634.73852 599.864726 
M 629.261294 599.864726 
L 634.73852 605.341951 
" clip-path="url(#p23c5724b44)" style="fill: #375a8c; stroke: #375a8c; stroke-width: 1.2"/>
<path d="M 634.257584 606.712409 
L 639.734809 601.235184 
M 634.257584 601.235184 
L 639.734809 606.712409 
" clip-path="url(#p23c5724b44)" style="fill: #355f8d; stroke: #355f8d; stroke-width: 1.2"/>
<path d="M 639.253873 608.0753 
L 644.731099 602.598074 
M 639.253873 602.598074 
L 644.731099 608.0753 
" clip-path="url(#p23c5724b44)" style="fill: #32658e; stroke: #32658e; stroke-width: 1.2"/>
<path d="M 644.250163 609.575349 
L 649.727388 604.098124 
M 644.250163 604.098124 
L 649.727388 609.575349 
" clip-path="url(#p23c5724b44)" style="fill: #2f6c8e; stroke: #2f6c8e; stroke-width: 1.2"/>
<path d="M 649.246452 611.478336 
L 654.723678 606.00111 
M 649.246452 606.00111 
L 654.723678 611.478336 
" clip-path="url(#p23c5724b44)" style="fill: #2c738e; stroke: #2c738e; stroke-width: 1.2"/>
<path d="M 654.242742 614.363194 
L 659.719967 608.885968 
M 654.242742 608.885968 
L 659.719967 614.363194 
" clip-path="url(#p23c5724b44)" style="fill: #297b8e; stroke: #297b8e; stroke-width: 1.2"/>
<path d="M 659.239031 617.905307 
L 664.716257 612.428082 
M 659.239031 612.428082 
L 664.716257 617.905307 
" clip-path="url(#p23c5724b44)" style="fill: #25838e; stroke: #25838e; stroke-width: 1.2"/>
<path d="M 664.23532 621.464847 
L 669.712546 615.987621 
M 664.23532 615.987621 
L 669.712546 621.464847 
" clip-path="url(#p23c5724b44)" style="fill: #228d8d; stroke: #228d8d; stroke-width: 1.2"/>
<path d="M 669.23161 625.970305 
L 674.708835 620.493079 
M 669.23161 620.493079 
L 674.708835 625.970305 
" clip-path="url(#p23c5724b44)" style="fill: #1f988b; stroke: #1f988b; stroke-width: 1.2"/>
<path d="M 674.227899 633.45516 
L 679.705125 627.977935 
M 674.227899 627.977935 
L 679.705125 633.45516 
" clip-path="url(#p23c5724b44)" style="fill: #21a685; stroke: #21a685; stroke-width: 1.2"/>
<path d="M 679.224189 650.636582 
L 684.701414 645.159356 
M 679.224189 645.159356 
L 684.701414 650.636582 
" clip-path="url(#p23c5724b44)" style="fill: #3fbc73; stroke: #3fbc73; stroke-width: 1.2"/>
<path d="M 684.220478 707.73873 
L 689.697704 702.261505 
M 684.220478 702.261505 
L 689.697704 707.73873 
" clip-path="url(#p23c5724b44)" style="fill: #fde725; stroke: #fde725; stroke-width: 1.2"/>
</g>
<g id="matplotlib.axis_13">
<g id="xtick_29">
<g id="line2d_118">
<g>
<use href="#m1deace6daf" x="512.088961" y="695.7" style="stroke: #000000; stroke-width: 0.68"/>
</g>
</g>
<g id="text_92">
<text style="font-size: 15.51px; font-family: 'Liberation Sans', sans-serif; text-anchor: middle" x="512.088961" y="713.344703" transform="rotate(-0 512.088961 713.344703)" textLength="31.02" lengthAdjust="spacingAndGlyphs">−10</text>
</g>
</g>
<g id="xtick_30">
<g id="line2d_119">
<g>
<use href="#m1deace6daf" x="599.524026" y="695.7" style="stroke: #000000; stroke-width: 0.68"/>
</g>
</g>
<g id="text_93">
<text style="font-size: 15.51px; font-family: 'Liberation Sans', sans-serif; text-anchor: middle" x="599.524026" y="713.344703" transform="rotate(-0 599.524026 713.344703)" textLength="21.67" lengthAdjust="spacingAndGlyphs">−5</text>
</g>
</g>
<g id="xtick_31">
<g id="line2d_120">
<g>
<use href="#m1deace6daf" x="686.959091" y="695.7" style="stroke: #000000; stroke-width: 0.68"/>
</g>
</g>
<g id="text_94">
<text style="font-size: 15.51px; font-family: 'Liberation Sans', sans-serif; text-anchor: middle" x="686.959091" y="713.344703" transform="rotate(-0 686.959091 713.344703)" textLength="9.35" lengthAdjust="spacingAndGlyphs">0</text>
</g>
</g>
<g id="text_95">
<text style="font-size: 15.29px; font-family: 'Liberation Sans', sans-serif; text-anchor: middle" x="564.55" y="730.971547" transform="rotate(-0 564.55 730.971547)" textLength="57.01" lengthAdjust="spacingAndGlyphs">time (s)</text>
</g>
</g>
<g id="matplotlib.axis_14">
<g id="ytick_56">
<g id="line2d_121">
<g>
<use href="#mafa4a98656" x="429.9" y="650.512879" style="stroke: #000000; stroke-width: 0.68"/>
</g>
</g>
<g id="text_96">
<g transform="translate(397.553 656.097731)">
<text x="0" y="-0.459375" style="font-size: 15.51px; font-family: 'Liberation Sans', sans-serif" textLength="9.35" lengthAdjust="spacingAndGlyphs">1</text>
<text x="9.3844" y="-0.459375" style="font-size: 15.51px; font-family: 'Liberation Sans', sans-serif" textLength="9.35" lengthAdjust="spacingAndGlyphs">0</text>
<text x="18.9124" y="-6.20156" style="font-size: 10.86px; font-family: 'Liberation Sans', sans-serif" textLength="6.55" lengthAdjust="spacingAndGlyphs">2</text>
</g>
</g>
</g>
<g id="ytick_57">
<g id="line2d_122">
<g>
<use href="#mafa4a98656" x="429.9" y="600.612249" style="stroke: #000000; stroke-width: 0.68"/>
</g>
</g>
<g id="text_97">
<g transform="translate(397.553 606.197101)">
<text x="0" y="-0.459375" style="font-size: 15.51px; font-family: 'Liberation Sans', sans-serif" textLength="9.35" lengthAdjust="spacingAndGlyphs">1</text>
<text x="9.3844" y="-0.459375" style="font-size: 15.51px; font-family: 'Liberation Sans', sans-serif" textLength="9.35" lengthAdjust="spacingAndGlyphs">0</text>
<text x="18.9124" y="-6.20156" style="font-size: 10.86px; font-family: 'Liberation Sans', sans-serif" textLength="6.55" lengthAdjust="spacingAndGlyphs">3</text>
</g>
</g>
</g>
<g id="ytick_58">
<g id="line2d_123">
<g>
<use href="#mafa4a98656" x="429.9" y="550.711619" style="stroke: #000000; stroke-width: 0.68"/>
</g>
</g>
<g id="text_98">
<g transform="translate(397.553 556.296471)">
<text x="0" y="-0.601562" style="font-size: 15.51px; font-family: 'Liberation Sans', sans-serif" textLength="9.35" lengthAdjust="spacingAndGlyphs">1</text>
<text x="9.3844" y="-0.601562" style="font-size: 15.51px; font-family: 'Liberation Sans', sans-serif" textLength="9.35" lengthAdjust="spacingAndGlyphs">0</text>
<text x="18.9124" y="-6.34375" style="font-size: 10.86px; font-family: 'Liberation Sans', sans-serif" textLength="6.55" lengthAdjust="spacingAndGlyphs">4</text>
</g>
</g>
</g>
<g id="ytick_59">
<g id="line2d_124">
<g>
<use href="#m9e1359d509" x="429.9" y="685.391923" style="stroke: #000000; stroke-width: 0.51"/>
</g>
</g>
</g>
<g id="ytick_60">
<g id="line2d_125">
<g>
<use href="#m9e1359d509" x="429.9" y="676.604858" style="stroke: #000000; stroke-width: 0.51"/>
</g>
</g>
</g>
<g id="ytick_61">
<g id="line2d_126">
<g>
<use href="#m9e1359d509" x="429.9" y="670.370337" style="stroke: #000000; stroke-width: 0.51"/>
</g>
</g>
</g>
<g id="ytick_62">
<g id="line2d_127">
<g>
<use href="#m9e1359d509" x="429.9" y="665.534466" style="stroke: #000000; stroke-width: 0.51"/>
</g>
</g>
</g>
<g id="ytick_63">
<g id="line2d_128">
<g>
<use href="#m9e1359d509" x="429.9" y="661.583272" style="stroke: #000000; stroke-width: 0.51"/>
</g>
</g>
</g>
<g id="ytick_64">
<g id="line2d_129">
<g>
<use href="#m9e1359d509" x="429.9" y="658.242585" style="stroke: #000000; stroke-width: 0.51"/>
</g>
</g>
</g>
<g id="ytick_65">
<g id="line2d_130">
<g>
<use href="#m9e1359d509" x="429.9" y="655.34875" style="stroke: #000000; stroke-width: 0.51"/>
</g>
</g>
</g>
<g id="ytick_66">
<g id="line2d_131">
<g>
<use href="#m9e1359d509" x="429.9" y="652.796207" style="stroke: #000000; stroke-width: 0.51"/>
</g>
</g>
</g>
<g id="ytick_67">
<g id="line2d_132">
<g>
<use href="#m9e1359d509" x="429.9" y="635.491293" style="stroke: #000000; stroke-width: 0.51"/>
</g>
</g>
</g>
<g id="ytick_68">
<g id="line2d_133">
<g>
<use href="#m9e1359d509" x="429.9" y="626.704228" style="stroke: #000000; stroke-width: 0.51"/>
</g>
</g>
</g>
<g id="ytick_69">
<g id="line2d_134">
<g>
<use href="#m9e1359d509" x="429.9" y="620.469706" style="stroke: #000000; stroke-width: 0.51"/>
</g>
</g>
</g>
<g id="ytick_70">
<g id="line2d_135">
<g>
<use href="#m9e1359d509" x="429.9" y="615.633836" style="stroke: #000000; stroke-width: 0.51"/>
</g>
</g>
</g>
<g id="ytick_71">
<g id="line2d_136">
<g>
<use href="#m9e1359d509" x="429.9" y="611.682642" style="stroke: #000000; stroke-width: 0.51"/>
</g>
</g>
</g>
<g id="ytick_72">
<g id="line2d_137">
<g>
<use href="#m9e1359d509" x="429.9" y="608.341955" style="stroke: #000000; stroke-width: 0.51"/>
</g>
</g>
</g>
<g id="ytick_73">
<g id="line2d_138">
<g>
<use href="#m9e1359d509" x="429.9" y="605.44812" style="stroke: #000000; stroke-width: 0.51"/>
</g>
</g>
</g>
<g id="ytick_74">
<g id="line2d_139">
<g>
<use href="#m9e1359d509" x="429.9" y="602.895577" style="stroke: #000000; stroke-width: 0.51"/>
</g>
</g>
</g>
<g id="ytick_75">
<g id="line2d_140">
<g>
<use href="#m9e1359d509" x="429.9" y="585.590663" style="stroke: #000000; stroke-width: 0.51"/>
</g>
</g>
</g>
<g id="ytick_76">
<g id="line2d_141">
<g>
<use href="#m9e1359d509" x="429.9" y="576.803598" style="stroke: #000000; stroke-width: 0.51"/>
</g>
</g>
</g>
<g id="ytick_77">
<g id="line2d_142">
<g>
<use href="#m9e1359d509" x="429.9" y="570.569076" style="stroke: #000000; stroke-width: 0.51"/>
</g>
</g>
</g>
<g id="ytick_78">
<g id="line2d_143">
<g>
<use href="#m9e1359d509" x="429.9" y="565.733206" style="stroke: #000000; stroke-width: 0.51"/>
</g>
</g>
</g>
<g id="ytick_79">
<g id="line2d_144">
<g>
<use href="#m9e1359d509" x="429.9" y="561.782012" style="stroke: #000000; stroke-width: 0.51"/>
</g>
</g>
</g>
<g id="ytick_80">
<g id="line2d_145">
<g>
<use href="#m9e1359d509" x="429.9" y="558.441325" style="stroke: #000000; stroke-width: 0.51"/>
</g>
</g>
</g>
<g id="ytick_81">
<g id="line2d_146">
<g>
<use href="#m9e1359d509" x="429.9" y="555.54749" style="stroke: #000000; stroke-width: 0.51"/>
</g>
</g>
</g>
<g id="ytick_82">
<g id="line2d_147">
<g>
<use href="#m9e1359d509" x="429.9" y="552.994947" style="stroke: #000000; stroke-width: 0.51"/>
</g>
</g>
</g>
<g id="ytick_83">
<g id="line2d_148">
<g>
<use href="#m9e1359d509" x="429.9" y="535.690033" style="stroke: #000000; stroke-width: 0.51"/>
</g>
</g>
</g>
<g id="ytick_84">
<g id="line2d_149">
<g>
<use href="#m9e1359d509" x="429.9" y="526.902968" style="stroke: #000000; stroke-width: 0.51"/>
</g>
</g>
</g>
<g id="ytick_85">
<g id="line2d_150">
<g>
<use href="#m9e1359d509" x="429.9" y="520.668446" style="stroke: #000000; stroke-width: 0.51"/>
</g>
</g>
</g>
<g id="text_99">
<text style="font-size: 15.29px; font-family: 'Liberation Sans', sans-serif; text-anchor: middle" x="391.095859" y="607.85" transform="rotate(-90 391.095859 607.85)" textLength="127.31" lengthAdjust="spacingAndGlyphs">sky area (sq deg)</text>
</g>
</g>
<g id="patch_35">
<path d="M 429.9 695.7 
L 429.9 520 
" style="fill: none; stroke: #000000; stroke-width: 0.68; stroke-linejoin: miter; stroke-linecap: square"/>
</g>
<g id="patch_36">
<path d="M 699.2 695.7 
L 699.2 520 
" style="fill: none; stroke: #000000; stroke-width: 0.68; stroke-linejoin: miter; stroke-linecap: square"/>
</g>
<g id="patch_37">
<path d="M 429.9 695.7 
L 699.2 695.7 
" style="fill: none; stroke: #000000; stroke-width: 0.68; stroke-linejoin: miter; stroke-linecap: square"/>
</g>
<g id="patch_38">
<path d="M 429.9 520 
L 699.2 520 
" style="fill: none; stroke: #000000; stroke-width: 0.68; stroke-linejoin: miter; stroke-linecap: square"/>
</g>
<g id="text_100">
<g transform="translate(458.1955 515.7)">
<text x="0" y="-0.859375" style="font-size: 15.29px; font-family: 'Liberation Sans', sans-serif" textLength="14.32" lengthAdjust="spacingAndGlyphs">m</text>
<text x="26.1797" y="-0.859375" style="font-size: 15.51px; font-family: 'Liberation Sans', sans-serif" textLength="12.32" lengthAdjust="spacingAndGlyphs">=</text>
<text x="43.2272" y="-0.859375" style="font-size: 15.51px; font-family: 'Liberation Sans', sans-serif" textLength="9.35" lengthAdjust="spacingAndGlyphs">1</text>
<text x="52.6116" y="-0.859375" style="font-size: 15.51px; font-family: 'Liberation Sans', sans-serif" textLength="9.35" lengthAdjust="spacingAndGlyphs">0</text>
<text x="61.996" y="-0.859375" style="font-size: 15.51px; font-family: 'Liberation Sans', sans-serif" textLength="4.67" lengthAdjust="spacingAndGlyphs">.</text>
<text x="66.6846" y="-0.859375" style="font-size: 15.51px; font-family: 'Liberation Sans', sans-serif" textLength="9.35" lengthAdjust="spacingAndGlyphs">0</text>
<text x="80.7576" y="-0.859375" style="font-size: 15.51px; font-family: 'Liberation Sans', sans-serif" textLength="12.68" lengthAdjust="spacingAndGlyphs">M</text>
<text x="106.712" y="-0.859375" style="font-size: 15.51px; font-family: 'Liberation Sans', sans-serif" textLength="4.67" lengthAdjust="spacingAndGlyphs">,</text>
<text x="116.089" y="-0.859375" style="font-size: 15.29px; font-family: 'Liberation Sans', sans-serif" textLength="14.32" lengthAdjust="spacingAndGlyphs">m</text>
<text x="142.269" y="-0.859375" style="font-size: 15.51px; font-family: 'Liberation Sans', sans-serif" textLength="12.32" lengthAdjust="spacingAndGlyphs">=</text>
<text x="159.316" y="-0.859375" style="font-size: 15.51px; font-family: 'Liberation Sans', sans-serif" textLength="9.35" lengthAdjust="spacingAndGlyphs">1</text>
<text x="168.701" y="-0.859375" style="font-size: 15.51px; font-family: 'Liberation Sans', sans-serif" textLength="4.67" lengthAdjust="spacingAndGlyphs">.</text>
<text x="173.389" y="-0.859375" style="font-size: 15.51px; font-family: 'Liberation Sans', sans-serif" textLength="9.35" lengthAdjust="spacingAndGlyphs">4</text>
<text x="187.462" y="-0.859375" style="font-size: 15.51px; font-family: 'Liberation Sans', sans-serif" textLength="12.68" lengthAdjust="spacingAndGlyphs">M</text>
<text x="14.5118" y="1.60156" style="font-size: 10.86px; font-family: 'Liberation Sans', sans-serif" textLength="6.55" lengthAdjust="spacingAndGlyphs">1</text>
<text x="130.601" y="1.60156" style="font-size: 10.86px; font-family: 'Liberation Sans', sans-serif" textLength="6.55" lengthAdjust="spacingAndGlyphs">2</text>
<circle cx="99.95" cy="-2.15" r="3.40" fill="none" stroke="#000" stroke-width="0.87"/><circle cx="99.95" cy="-2.15" r="0.72" fill="#000"/><circle cx="206.65" cy="-2.15" r="3.40" fill="none" stroke="#000" stroke-width="0.87"/><circle cx="206.65" cy="-2.15" r="0.72" fill="#000"/>
</g>
</g>
<g id="legend_6">
<g id="patch_39">
<path d="M 438.965 689.225 
L 519.819539 689.225 
Q 522.409539 689.225 522.409539 686.635 
L 522.409539 611.897312 
Q 522.409539 609.307312 519.819539 609.307312 
L 438.965 609.307312 
Q 436.375 609.307312 436.375 611.897312 
L 436.375 686.635 
Q 436.375 689.225 438.965 689.225 
z
" style="fill: #ffffff; opacity: 0.8; stroke: #cccccc; stroke-width: 0.85; stroke-linejoin: miter"/>
</g>
<g id="PathCollection_13">
<g>
<use href="#mac3c516bf9" x="454.505" y="620.927914" style="fill: #1f77b4; stroke: #1f77b4; stroke-width: 0.8"/>
</g>
</g>
<g id="text_101">
<text style="font-size: 13.60px; font-family: 'Liberation Sans', sans-serif; text-anchor: start" x="477.815" y="624.327289" transform="rotate(-0 477.815 624.327289)" textLength="39.41" lengthAdjust="spacingAndGlyphs">e=0.1</text>
</g>
<g id="PathCollection_14">
<g>
<use href="#m17d24aef74" x="454.505" y="639.936086" style="fill: #1f77b4; stroke: #1f77b4; stroke-width: 0.8"/>
</g>
</g>
<g id="text_102">
<text style="font-size: 13.60px; font-family: 'Liberation Sans', sans-serif; text-anchor: start" x="477.815" y="643.335461" transform="rotate(-0 477.815 643.335461)" textLength="39.41" lengthAdjust="spacingAndGlyphs">e=0.3</text>
</g>
<g id="PathCollection_15">
<g>
<use href="#m1faf09260f" x="454.505" y="658.944258" style="fill: #1f77b4; stroke: #1f77b4; stroke-width: 1.3"/>
</g>
</g>
<g id="text_103">
<text style="font-size: 13.60px; font-family: 'Liberation Sans', sans-serif; text-anchor: start" x="477.815" y="662.343633" transform="rotate(-0 477.815 662.343633)" textLength="39.41" lengthAdjust="spacingAndGlyphs">e=0.5</text>
</g>
<g id="PathCollection_16">
<g>
<use href="#m85c416fae3" x="454.505" y="677.95243" style="fill: #1f77b4; stroke: #1f77b4; stroke-width: 1.2"/>
</g>
</g>
<g id="text_104">
<text style="font-size: 13.60px; font-family: 'Liberation Sans', sans-serif; text-anchor: start" x="477.815" y="681.351805" transform="rotate(-0 477.815 681.351805)" textLength="39.41" lengthAdjust="spacingAndGlyphs">e=0.7</text>
</g>
</g>
</g>
<g id="axes_8">
<g id="patch_40">
<path d="M 704.4 695.7 
L 711.4 695.7 
L 711.4 520.1 
L 704.4 520.1 
z
" style="fill: #ffffff"/>
</g>
<rect x="704.4" y="520.1" width="7" height="175.6" fill="url(#vgrad)"/>
<g id="matplotlib.axis_15"/>
<g id="matplotlib.axis_16">
<g id="ytick_86">
<g id="line2d_151">
<g>
<use href="#mdd9b0c35be" x="711.4" y="661.895269" style="stroke: #000000; stroke-width: 0.68"/>
</g>
</g>
<g id="text_105">
<text style="font-size: 15.51px; font-family: 'Liberation Sans', sans-serif; text-anchor: start" x="717.875" y="667.480121" transform="rotate(-0 717.875 667.480121)" textLength="18.71" lengthAdjust="spacingAndGlyphs">20</text>
</g>
</g>
<g id="ytick_87">
<g id="line2d_152">
<g>
<use href="#mdd9b0c35be" x="711.4" y="604.208016" style="stroke: #000000; stroke-width: 0.68"/>
</g>
</g>
<g id="text_106">
<text style="font-size: 15.51px; font-family: 'Liberation Sans', sans-serif; text-anchor: start" x="717.875" y="609.792867" transform="rotate(-0 717.875 609.792867)" textLength="18.71" lengthAdjust="spacingAndGlyphs">30</text>
</g>
</g>
<g id="ytick_88">
<g id="line2d_153">
<g>
<use href="#mdd9b0c35be" x="711.4" y="546.520762" style="stroke: #000000; stroke-width: 0.68"/>
</g>
</g>
<g id="text_107">
<text style="font-size: 15.51px; font-family: 'Liberation Sans', sans-serif; text-anchor: start" x="717.875" y="552.105614" transform="rotate(-0 717.875 552.105614)" textLength="18.71" lengthAdjust="spacingAndGlyphs">40</text>
</g>
</g>
</g>
<g id="LineCollection_2"/>
<g id="patch_41">
<path d="M 704.4 695.7 
L 707.9 695.7 
L 711.4 695.7 
L 711.4 520.1 
L 707.9 520.1 
L 704.4 520.1 
L 704.4 695.7 
z
" style="fill: none; stroke: #000000; stroke-width: 0.68; stroke-linejoin: miter; stroke-linecap: square"/>
</g>
<g id="text_108">
<text style="font-size: 13.93px; font-family: 'Liberation Sans', sans-serif; text-anchor: middle" x="707.9" y="515" transform="rotate(-0 707.9 515)" textLength="27.42" lengthAdjust="spacingAndGlyphs">SNR</text>
</g>
</g>
</g>
<defs>
<clipPath id="pbab4d58351">
<rect x="48.6" y="16.4" width="302.3" height="173"/>
</clipPath>
<clipPath id="p42d1c1f56d">
<rect x="428.5" y="16.4" width="300.5" height="173"/>
</clipPath>
<clipPath id="pc240274007">
<rect x="44.1" y="268.6" width="309.1" height="172.7"/>
</clipPath>
<clipPath id="p331545ec2e">
<rect x="423.8" y="268.5" width="309.1" height="172.9"/>
</clipPath>
<clipPath id="p1002fd260f">
<rect x="50" y="520" width="269.4" height="175.7"/>
</clipPath>
<clipPath id="p23c5724b44">
<rect x="429.9" y="520" width="269.3" height="175.7"/>
</clipPath>
</defs>
</svg>
</body></html>
